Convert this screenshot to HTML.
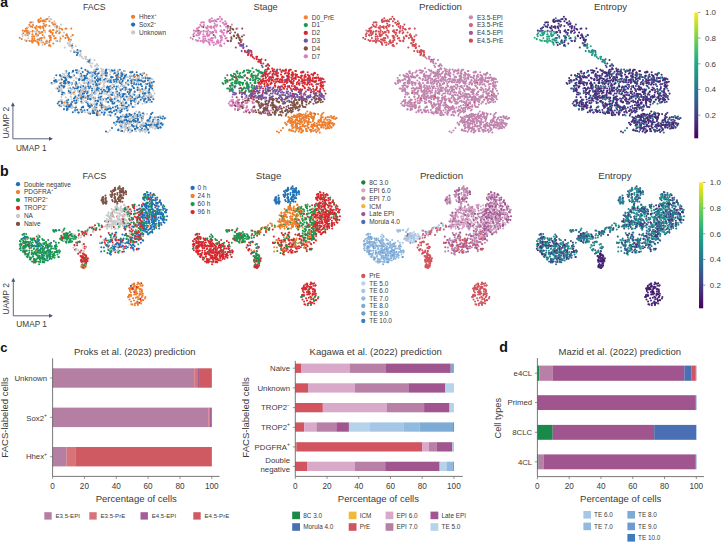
<!DOCTYPE html>
<html><head><meta charset="utf-8"><style>
html,body{margin:0;padding:0;background:#fff;width:722px;height:543px;overflow:hidden}
svg{display:block}
text{font-family:"Liberation Sans",sans-serif;fill:#3a3a3a}
.sc path{stroke-width:2.05;stroke-linecap:round;fill:none}
</style></head><body>
<svg width="722" height="543" viewBox="0 0 722 543">
<g class="sc">
<path stroke="#c9c9c9" d="M24.9 40h0M56.1 31.3h0M38.4 34.6h0M54.3 21.2h0M36.6 35.7h0M36.5 28.1h0M41.2 31.9h0M67.4 36.8h0M50.4 18.8h0M56.7 28.6h0M42.7 44.9h0M45.2 32.4h0M51.7 22.8h0M39.8 26.6h0M36.7 36.2h0M36.6 31.9h0M35 31.6h0M64.8 47.4h0M80.7 54.4h0M79 50.8h0M75.7 46.3h0M94.5 60.1h0M81.8 57.1h0M85.8 59.3h0M95 66h0M87.2 61.6h0M88.9 59.9h0M97.2 64.4h0M116.4 79.5h0M64.3 74.2h0M98.7 98.8h0M126.5 88.6h0M128.3 92h0M108 102.5h0M124.3 78h0M113.3 70.7h0M84.3 81.4h0M61.8 89.7h0M81.3 111.1h0M106.5 101h0M134.9 91.6h0M124.3 105.3h0M100.2 114.8h0M59.2 90.1h0M144.2 95.3h0M107.6 102h0M149.2 100.2h0M103.9 83.6h0M65.3 79h0M59.7 79.9h0M100.3 82.2h0M111.3 79.5h0M76.9 110.2h0M139 88.5h0M105.5 74.3h0M132.8 94.7h0M131.7 85.6h0M111.1 98.4h0M70.7 90.7h0M101.2 68.6h0M99.6 71.7h0M91.5 96.6h0M64 109.6h0M84.9 97.9h0M135.7 96.9h0M70.1 82.8h0M103.8 85.2h0M141.8 79.9h0M111 111.1h0M73.9 75.3h0M58.6 80.2h0M142.1 74.3h0M66.5 104.1h0M60.8 101.3h0M83.4 106.6h0M148.5 79.8h0M114.2 95.3h0M136.1 84.7h0M103.6 113.8h0M140.3 92.1h0M68.3 84h0M59 105.3h0M83.7 86.9h0M109.6 96.5h0M61.6 90.9h0M110 74.6h0M74.3 91.5h0M102.5 104.6h0M93.8 72.5h0M97 105.7h0M101.4 107.9h0M93.5 108.1h0M148.3 95h0M137.2 83h0M68.6 93.1h0M133.2 77.9h0M58.8 89.2h0M85.2 101.4h0M93.9 71.1h0M87.8 70.4h0M144.3 93.7h0M146.8 91.2h0M65.8 81.7h0M71.7 84.8h0M101.9 96.3h0M119.6 110.4h0M125.4 94.5h0M118.4 87.2h0M82.7 111.8h0M65.1 93.6h0M148.3 97.5h0M141.9 78.1h0M68.6 109.2h0M95 80.6h0M83 90h0M66.2 101.9h0M127 76.9h0M138.6 82h0M71.5 108.1h0M79.5 71h0M62.9 73.8h0M93.8 112.4h0M108.9 79.6h0M89 108h0M92.5 98.1h0M128.4 100.1h0M91.2 73.3h0M154.6 93.6h0M70.9 102.8h0M116.1 76.3h0M114.1 86.7h0M139.5 79.6h0M145.2 89.2h0M90.2 86.6h0M146.5 95.9h0M115.7 91.5h0M71.7 89.3h0M65.4 101.2h0M148.8 100.2h0M110 107.1h0M74.4 103h0M109.5 114.5h0M137.9 97.5h0M108.7 95.5h0M132 71.4h0M115.3 79.6h0M95.1 110.6h0M90.5 103.3h0M96.1 86.1h0M120.4 75h0M96.9 87.8h0M117.7 79.3h0M113.9 99.6h0M105 98.5h0M77.7 98.5h0M71 94.3h0M130.3 93.8h0M72.6 93.2h0M102 71h0M87.7 112.3h0M84.7 89.3h0M90 88h0M80.9 85.2h0M127.9 77.2h0M101.5 102.4h0M76.1 100.4h0M120.3 81.5h0M115 69.5h0M86.4 70.7h0M136.6 89.7h0M90.8 81.6h0M141.3 81.2h0M138.8 81.9h0M147.4 128.4h0M126.8 123.5h0M163.3 123.8h0M140.9 117.9h0M132.3 114.4h0M160.5 123.3h0M119.1 122.9h0M160 116h0M147.2 122.1h0M139.4 117h0M150.1 127.6h0M121.5 119.2h0M130.3 115.3h0M150.1 115.4h0M125.3 120.3h0M124.9 116.6h0M138.2 122.3h0M124.8 124.2h0M127.7 131.5h0M150.4 118h0M128.1 113.7h0M165.6 118.1h0M117.7 120.5h0M128.5 123.4h0M147.5 124.9h0M120.7 120.7h0M154.7 123.6h0M130.4 118.8h0M128.3 116.9h0M121.1 124.2h0M129.4 126.7h0M124.3 122.3h0"/>
<path stroke="#ee7f2d" d="M25 31.5h0M38.9 31.7h0M55.2 24.5h0M49.4 31.3h0M42.8 21.1h0M44.5 20.9h0M30.4 26.3h0M27.8 35.3h0M46.2 19.2h0M52.4 22.7h0M49.1 35.9h0M38.3 21.1h0M34.2 36.5h0M40.5 21.3h0M59.1 33.3h0M53 30.1h0M25.4 34.9h0M41.4 32.6h0M47.4 42.7h0M40.7 21.3h0M40.4 28.2h0M38.6 21.7h0M40.8 18.2h0M38 35.4h0M43.6 23.5h0M69.4 39.6h0M67.7 37.5h0M49 45.6h0M52.8 32.9h0M53.5 30h0M38.4 27h0M53.3 43.6h0M43 42.5h0M65.4 38.1h0M49.5 44.8h0M37.3 42.1h0M42.6 35h0M30.2 22.6h0M64.3 102.6h0M110.4 97.8h0M63.8 76.9h0M146.6 74.8h0M88.7 113.3h0M80 93.2h0"/>
<path stroke="#1f70b8" d="M74.1 52h0M70 44.7h0M82.6 93.9h0M125.6 89.3h0M64.1 81.7h0M121.3 102.9h0M124.3 71h0M76.1 85.2h0M124.6 77.2h0M74.1 100.7h0M96.8 89.9h0M60.4 75.8h0M128.9 93.9h0M74 75.5h0M64.9 77.4h0M97.2 103.2h0M137.8 90.1h0M86.9 93.5h0M134.4 94.7h0M72 82.7h0M110.5 115.4h0M95.2 82.1h0M122.4 105.6h0M102.2 105.8h0M133.4 76h0M95.8 105.1h0M133.4 98.7h0M101.5 75.6h0M133.9 88.3h0M79.1 80.1h0M150.1 84.8h0M77.5 98.6h0M130.3 76h0M88.4 105.6h0M132.4 100.2h0M81.5 68.2h0M84.5 82.9h0M76.7 72.7h0M90.4 95.2h0M93.3 84.2h0M120.9 82.4h0M57.4 88.5h0M90.2 113.8h0M142.1 75.6h0M119.8 69.7h0M134.8 76.8h0M130 78h0M148.7 99.5h0M148.9 90.7h0M117 96.7h0M115.7 79.7h0M67.5 108.4h0M138.7 96.9h0M73.1 87.4h0M121.7 75.6h0M116.7 78h0M111.3 77.5h0M75.5 83.7h0M86.3 102h0M78.8 112.4h0M94.9 93.5h0M101.9 107.3h0M135.3 101.9h0M70.2 88.3h0M91.9 76.4h0M69.3 106.6h0M130.5 90.8h0M109.1 82.2h0M93.9 93.1h0M69.2 82.3h0M139.4 95.1h0M85.1 78.5h0M99.1 88h0M123.7 105.1h0M62.2 102.6h0M102.6 73.4h0M117.5 76.1h0M120.4 110.7h0M134 83.9h0M112.4 88.1h0M96.8 89.6h0M63.7 76.9h0M102.7 99.5h0M137.2 97.8h0M61.4 101.2h0M133.9 82.5h0M100.4 97.6h0M113.8 103.5h0M69.2 76.1h0M94.6 72.5h0M97.4 85.3h0M63.3 86.3h0M117.1 91.4h0M107.5 86.6h0M142 86.3h0M113.8 79.9h0M90.4 98.7h0M89.2 95.7h0M65.1 80.8h0M116.5 80.3h0M124.4 108.7h0M88.5 82.2h0M88.2 86.3h0M86.2 91h0M132.1 99.1h0M83.2 85.9h0M78.7 91.5h0M69.8 76.9h0M65.8 78.7h0M100.9 99.5h0M137.1 80.7h0M114.2 86.3h0M105.5 78.7h0M66.4 106.2h0M78.1 72.4h0M84.4 79.7h0M84.9 88.6h0M91.9 72.6h0M99.3 84.1h0M124.5 77.4h0M101.3 103.4h0M131.2 100.7h0M75.3 107.7h0M60.9 106.1h0M111.2 94.4h0M107 73.1h0M116.6 82.1h0M142.9 91.8h0M110 99.8h0M126.1 74.7h0M95.2 98h0M130.8 102.2h0M71 104.9h0M80.6 90.2h0M150.5 116.9h0M142.7 118.4h0M146.1 126.3h0M141.3 125.2h0M120.5 125.5h0M150.8 126.3h0M158.3 124.6h0M126.3 114.6h0M148.1 120.3h0M154.8 117.5h0M143.5 126.1h0M117.5 121.5h0M125.3 119.4h0M137.1 127.7h0M142.9 117.4h0M118.3 119.4h0M135.3 116.6h0M132.2 126h0M160.7 127.6h0M158 122h0M126.4 119.9h0M127.6 128h0M122.2 131h0M135.5 118.3h0M118.5 129.5h0M128.7 120.6h0M126.5 116.8h0M162.4 118.6h0M127 115.6h0M125.9 124.5h0M136.4 126.1h0M129.7 120.3h0M134.5 115.4h0M134.1 125.8h0M137.8 120.5h0M149.3 120.1h0M154.7 124.8h0M144.5 125.7h0M141.9 119.9h0M125.6 125.6h0M157.3 123.5h0M106 131.4h0"/>
<path stroke="#ee7f2d" d="M31.2 41h0M44.3 25.2h0M68.6 37.9h0M66.1 35.3h0M36.6 26h0M34.3 38.7h0M42.8 26.4h0M32.4 27.1h0M63.1 36.3h0M26.4 30.2h0M27.1 27.9h0M62.8 36.1h0M68.8 39.4h0M46.5 42.8h0M49.4 26h0M61.4 28.9h0M47.6 19h0M27 33.3h0M29.3 24.7h0M27.7 30.7h0M50.9 32.5h0M70.3 40.7h0M44.4 37.8h0M43.3 28.1h0M41.4 40.3h0M39.9 27.1h0M41.9 38h0M42.4 32.1h0M32.2 39.1h0M68.7 40.1h0M42.2 20.4h0M22.8 30.6h0M53.9 36.1h0M29 32.5h0M49.9 38h0M54.3 23.7h0M19.7 37.7h0M44.9 44h0M33.2 40.8h0M38.4 19.9h0M59.8 41.3h0M67.4 35.7h0M50.9 39.9h0M57 26.1h0M53.3 24.8h0M31.8 22.2h0M21.7 39.1h0M50.2 30.2h0M35 27.4h0M45.9 41.7h0M51.1 32.2h0M50.4 46.1h0M136.9 74.9h0M130.3 98.5h0M93.7 97.6h0M86.2 90.4h0M140.1 90.1h0"/>
<path stroke="#c9c9c9" d="M55.5 23.2h0M44.1 36.2h0M46.3 41.4h0M59.7 40.6h0M27.2 40.5h0M28.1 27.3h0M40.1 40.8h0M59 30.3h0M36.3 34.8h0M45.1 30.9h0M30 31.6h0M69.9 42.1h0M72.2 48.1h0M76.1 52.4h0M72.4 44.1h0M69.3 44.4h0M89.7 61.9h0M86.2 56.8h0M83.2 58.5h0M90 63.2h0M98.2 65.7h0M80.6 55.4h0M115.5 93h0M128 80.1h0M142.7 91.4h0M126.3 96.8h0M131.1 79.3h0M61.4 85h0M129.6 77.5h0M87.2 80.6h0M150.3 82.3h0M69.1 85.3h0M104.3 86h0M90 80.4h0M149.4 99.2h0M108.7 107h0M90.9 82.9h0M121.4 111.4h0M89.6 84h0M115.1 109.3h0M115 70.8h0M93 104.3h0M81 95.4h0M95 103.6h0M107.9 115.1h0M130.1 72.4h0M150.8 95.5h0M98.5 112.9h0M108.4 109.1h0M68 109.3h0M125 71.1h0M94.9 104.2h0M80.1 98.3h0M119.3 108.9h0M109.3 107.2h0M102.8 106.9h0M68.1 77.5h0M102.1 77.7h0M88.6 92.5h0M144.1 90.1h0M109.9 92.4h0M143.1 97.2h0M61.2 78.6h0M130.8 100h0M69.6 88h0M105 106.4h0M145.2 89.7h0M61.9 99.9h0M121.1 91.2h0M151.3 78.5h0M151 85.5h0M87.4 97h0M91.3 73.2h0M93.5 81h0M118.4 96.3h0M77.6 84.9h0M120.8 98.7h0M76.8 98.3h0M83.5 83.1h0M103.7 105.5h0M124.1 87.3h0M103.1 69.4h0M64.6 106.1h0M72.5 92.8h0M78.1 91.8h0M118.5 111.3h0M151.5 95.7h0M54.8 80.4h0M127.8 89.8h0M149.7 95.8h0M77 88.7h0M88.2 97.4h0M105 82h0M106.4 79.7h0M130.3 81.6h0M151.8 82.1h0M129.1 97.6h0M99.7 105.2h0M66 83.1h0M64.3 83.2h0M136.7 79.8h0M60.5 105.7h0M104.8 110.8h0M89.7 81.4h0M94.1 74.3h0M71.1 90.1h0M86.7 75.4h0M78.2 96.1h0M116.3 97.6h0M108.4 90.6h0M102.8 81.5h0M144.7 81.8h0M81.6 103.1h0M111.8 103.5h0M77.3 100.3h0M60.8 89h0M118.2 86.1h0M84.6 75.7h0M110.6 89.7h0M105.3 74.3h0M109.7 79.3h0M108.5 95.8h0M123 102.4h0M75.4 95.5h0M82.8 75.5h0M94.5 92.9h0M123.2 107h0M144.2 94.2h0M73.9 80.4h0M118.5 69.8h0M54.2 78h0M99.5 97.4h0M149.8 102.3h0M98.5 95.3h0M87.6 96h0M145.1 99.4h0M91 104.8h0M126.4 96.7h0M58.9 85.7h0M120.6 90.3h0M56.2 88.4h0M115.2 81.1h0M152.5 97.8h0M88.7 79.1h0M128.6 97h0M147.2 77.2h0M81.3 76.8h0M71.3 89.4h0M106.2 110.6h0M74.6 110.7h0M83.8 88.7h0M126.6 103.7h0M139.8 92.5h0M81.6 88.7h0M97.9 102.1h0M122.1 78.2h0M132 106.7h0M102.2 109.6h0M113.3 82.3h0M79.5 83h0M61.4 97.1h0M140.9 99.4h0M116.6 112.2h0M124.4 97.2h0M86.7 90.9h0M71.7 92.7h0M132.9 98.9h0M56.5 80.4h0M104.3 91.7h0M150.3 125.7h0M141.9 121.3h0M130.5 129h0M137.1 116.4h0M121.4 128.5h0M132.2 118.3h0M124.3 126.1h0M131.5 124.5h0M162.1 123.5h0M151.3 122.7h0M134.1 115h0M122 117h0M130.7 122.8h0M130.5 116.5h0M131.6 131.3h0M137.2 115.8h0M119.2 120.8h0M140 126.4h0M140 113.8h0M152.9 122.2h0M162.2 125.6h0M125.7 117.9h0M120.3 118.7h0M142.4 124.1h0M158.1 122.4h0M156.8 117.1h0M128.8 120.9h0M136.3 111.4h0M130 115.3h0M123.6 116.9h0M125.5 127.9h0M130 132.5h0M131.1 126.5h0M153.1 124.2h0M135.2 131h0M164.1 118.9h0M143.7 124.5h0M122.8 122.6h0M142.7 117.8h0M108 132.5h0"/>
<path stroke="#1f70b8" d="M76.5 52h0M111.9 99.4h0M131 100.4h0M98.7 79.8h0M131.6 72.4h0M66.3 71.3h0M105.7 70.3h0M143.6 73.1h0M70.2 92.4h0M133.1 80h0M117.5 94.4h0M74.4 88.5h0M100.1 78.5h0M65.4 77.7h0M138.9 101.7h0M125.4 75.8h0M124.6 89.2h0M105.6 75.4h0M131 101.8h0M92.8 111.2h0M98.7 97.4h0M134.1 100.9h0M86.1 75.7h0M76.2 88.2h0M67 100.5h0M133 106.9h0M97.9 78.3h0M140.4 74.3h0M61.9 79.5h0M87.3 73.9h0M64.2 80.9h0M111.9 112.6h0M112.9 107.4h0M121.6 72.6h0M72.5 107.3h0M143.8 81.8h0M114.2 70.5h0M75.8 70.2h0M100.7 102.7h0M116.2 110.1h0M64 83.3h0M138.6 76.1h0M124.7 75.2h0M109.7 89.3h0M96.1 85.1h0M76.5 102.6h0M129.8 92h0M140.6 84.1h0M108.5 91.3h0M97.8 69.1h0M96.8 76h0M102.8 99.4h0M106.3 99h0M66.5 106.5h0M149.4 88.7h0M76 82.3h0M99 88.1h0M98.8 99.6h0M107.1 91.9h0M112.1 95h0M88.5 106h0M65.3 83.2h0M90 107.1h0M106.8 87.7h0M139.1 80.5h0M77.2 70.2h0M128.8 105.2h0M91.9 105.8h0M90.2 98.9h0M119.6 95.2h0M56.6 81.8h0M151 87.1h0M89.1 88.1h0M133.5 87.5h0M98.3 100.9h0M92.1 90.8h0M92.1 88.4h0M98.8 90.4h0M145.6 78.4h0M77.7 88.1h0M143.6 77.9h0M118 79.4h0M96.6 104.3h0M54.8 82h0M73.1 70.7h0M131.4 80.6h0M95.7 109.9h0M85.9 97.5h0M129.4 92.2h0M91.6 94.9h0M125.3 89.8h0M145.6 98.5h0M95.6 71.5h0M101.5 93.4h0M68.7 90.9h0M143.4 98.5h0M117.7 74.5h0M117.5 77.1h0M78.2 112.4h0M51.6 82.9h0M84.4 110.2h0M114.4 81.6h0M121 96.7h0M149.3 89.2h0M126 82.8h0M96.6 110.2h0M75.6 103.2h0M84 93.4h0M81 75.2h0M148 78.3h0M93 112.7h0M144 81.4h0M141 80.5h0M100.5 80h0M138.6 78.3h0M142.2 88.9h0M127.5 106.7h0M68 81.9h0M78.8 95.2h0M142.8 93.4h0M153.4 99.2h0M153.8 81.7h0M75.1 110.3h0M121.9 105.3h0M63.7 92.7h0M125.6 106.7h0M63.7 87.4h0M142.2 97.4h0M114.4 102.7h0M62.3 92.4h0M58.8 101.7h0M81.3 99h0M83.6 96.3h0M95 106.6h0M139.7 96.7h0M89 72.4h0M61.4 76.4h0M80.4 94.4h0M77.3 109.8h0M66.5 80h0M76.1 107.1h0M145.9 84.2h0M94.5 73.2h0M122.4 88.9h0M139.7 122.2h0M131.2 115h0M123 115.5h0M140.7 126.6h0M134.8 113.4h0M127.2 121.1h0M121.4 126.8h0M141.5 125.4h0M131.1 121.6h0M161.1 117.9h0M149.3 121.2h0M142.9 116.5h0M148.8 132.6h0M129.6 113.9h0M149.7 118.3h0M140.4 113.9h0M158.3 123.3h0M161.3 123.2h0M160.4 117.6h0M125.7 119.2h0M120.8 130.8h0M144.7 129.6h0M118.2 130.2h0M140.4 115.6h0M157.7 128h0M118.9 117.7h0M136.5 122.3h0M120.6 121.6h0M128.5 121.1h0M163 116.6h0M157.5 127.3h0M118.4 118.9h0M126.3 123.2h0M148.3 125h0M135.5 128.9h0M119 118h0M152.8 121.4h0M119.8 121.7h0M128.8 128.7h0M154.4 125.4h0M139.6 129.7h0M138.1 119.3h0M145.6 126.1h0M112 128h0"/>
<path stroke="#ee7f2d" d="M32.5 42.1h0M59.9 32.3h0M23.2 33.3h0M52.3 34.6h0M56 32.8h0M62.3 29.6h0M49.7 40.5h0M57 41h0M25.8 28.8h0M39.2 39.8h0M38.4 43.4h0M71.3 28.6h0M59.6 28.2h0M45.4 26.4h0M49.4 42.1h0M50.1 35.9h0M50.9 31.6h0M70.9 39.8h0M39.8 33.3h0M36.3 33.9h0M32.4 31.6h0M27.2 31.9h0M50.9 37.3h0M65.5 28.7h0M113.9 73.6h0M144 81.6h0M149 98.4h0M67.9 104.8h0M74 92.6h0M100.1 105.6h0M97 112.2h0M134 76.3h0M100.2 83.4h0"/>
<path stroke="#c9c9c9" d="M71 36.5h0M64.1 32.5h0M22.3 34.6h0M41.4 42.4h0M28.4 38.1h0M59.4 26.7h0M28.2 34.3h0M62.8 35.4h0M46.7 40.3h0M51 19.5h0M55 26.7h0M33 22.6h0M26 35.5h0M77.5 54.4h0M70.7 51.1h0M77.6 51.2h0M79.8 55.7h0M80.3 54.6h0M77.8 52h0M67.9 43.3h0M70 40.5h0M70.7 46.1h0M70.8 45.1h0M91.6 67.1h0M96.6 64.2h0M85.5 58.2h0M90.5 59.3h0M90.8 65.5h0M97.1 68h0M89.6 61.3h0M85.3 56.8h0M130 90.3h0M75.1 83.5h0M94.3 101.6h0M120.6 108h0M117.2 112.3h0M76 106.3h0M88.7 90.2h0M131.3 105.3h0M111.5 76.5h0M105.9 81.5h0M91.7 93.1h0M152.9 95.9h0M82.1 87.9h0M80.3 109.8h0M129.4 90.4h0M87.6 96.8h0M136.5 78.6h0M152.5 79.2h0M135.4 104.6h0M60.3 100.2h0M92.5 78.8h0M61.7 103.3h0M91.6 75.8h0M82.3 77.5h0M52.4 83.9h0M126.7 102.3h0M145.3 84.5h0M121.6 93.7h0M128.3 97.9h0M60.5 85.2h0M111.6 80.6h0M136.6 82.2h0M148.1 91.6h0M72.6 88.6h0M136.6 96.6h0M102.5 87.6h0M94.4 90h0M80.2 94.7h0M104.3 86.6h0M93.3 74.1h0M149 92h0M142.6 74h0M122.6 97.2h0M87.8 102.4h0M109.6 95.6h0M89.7 96.9h0M102.2 77.2h0M86 100.8h0M127.8 83.8h0M120 108h0M90.3 76.4h0M114.6 111h0M71.9 77.6h0M95 97.6h0M118.5 80.9h0M71.9 72.5h0M84.7 95.7h0M114 95.2h0M72.1 107.6h0M92.5 111.2h0M123.8 89.6h0M66.6 73.3h0M121.3 72.5h0M133.4 93.3h0M128.9 106.7h0M123 104h0M131.3 103.1h0M121.9 93.7h0M117 86.3h0M116.1 96.4h0M74.9 90.8h0M120.9 86h0M78.3 72.5h0M91.2 104.4h0M82.9 99.8h0M113.1 88.7h0M113.2 101.9h0M91.7 97.5h0M147.3 101.8h0M128.3 109.5h0M80.3 76.5h0M75.8 77.8h0M68.4 103h0M79.9 97.1h0M124.9 79h0M128.8 99.8h0M80.4 94.3h0M107.9 98.1h0M102.1 99.2h0M105.5 100.7h0M145.1 93.5h0M92 75h0M99.1 90.7h0M122.7 101.7h0M90 72.1h0M63.7 94.5h0M92.8 81.1h0M145.9 102.6h0M96.3 110.2h0M107 93.8h0M128 91.9h0M90.4 80.7h0M103.9 111.3h0M109.3 86.9h0M104 71.4h0M87.7 102.1h0M150 82.8h0M126.8 81.9h0M150.9 78.7h0M81.6 80.2h0M102.4 90.8h0M139.5 102h0M118.4 101.9h0M68 83.3h0M125.3 99.9h0M138.3 76.5h0M96.4 74.5h0M93.6 83.2h0M114.8 115.6h0M73.9 94.1h0M110.6 72.1h0M75.8 87.3h0M82.7 110.9h0M132 99.1h0M76.8 78.5h0M101.4 74.3h0M124.5 89.1h0M101.8 80.1h0M65.6 71.8h0M102.3 73.8h0M103.9 111.9h0M106.1 94.3h0M101.1 76.9h0M82.3 98.5h0M106.7 76.3h0M92.2 91.8h0M72.5 105.3h0M150.1 79.4h0M123 94.1h0M156.3 122.6h0M135.3 117.3h0M158.3 124.5h0M150.5 121.4h0M120.9 122.6h0M123.2 115.4h0M128.8 118.8h0M150.6 124.7h0M138.9 113.9h0M146.7 130.8h0M125.6 118.3h0M134.6 116.7h0M134.3 117.2h0M142.1 125.5h0M137.3 116h0M124.4 123.1h0M156.8 128.1h0M151.8 117.2h0M124.4 127.6h0M134.6 126.1h0M145.2 132.1h0M125.8 125.3h0M140 131.7h0M143.7 115.1h0M115.4 124.6h0M156.2 120h0M135.9 116.4h0M142.2 130.9h0M138.8 129.8h0M130.6 132.2h0M142.4 119.4h0M129.3 121.9h0M129 128.3h0M139.7 130.8h0M143.6 122.8h0M124.4 120.1h0M129.6 121.2h0M136.1 131.2h0M125 126.9h0M143.9 130.3h0M132.5 118.7h0M128.6 115.9h0M124.2 120.9h0M154.3 126.4h0M154.5 118.6h0M129.2 126.8h0M140.9 116.8h0M129 124.3h0M144.2 114.1h0M122.1 124.8h0M132.5 118.7h0M141.9 128.1h0M124.7 115.7h0M110 130.5h0"/>
<path stroke="#1f70b8" d="M77.8 53.1h0M72.1 45.7h0M88.6 61.8h0M111.2 77.1h0M82.6 80.3h0M92.8 110.2h0M97.8 73.8h0M126 102.5h0M103.9 89.8h0M80.9 109.8h0M55.8 80.1h0M136.3 84.3h0M109.2 89.7h0M123.9 86.7h0M144.8 93.2h0M102.3 91.8h0M122.8 80.2h0M81.2 98h0M96.7 113.7h0M130.3 72.3h0M69.2 73h0M99.9 110.4h0M150.5 94.5h0M144.5 95.2h0M68.3 99.7h0M112.4 70.7h0M104.3 107.2h0M122.7 74.3h0M116.6 110.2h0M72.1 102h0M61.7 85.5h0M97.8 87.5h0M145.5 93.3h0M132 83h0M57.7 103.5h0M137.9 103.5h0M75.4 96.7h0M120.1 101.5h0M82.5 91.4h0M120.6 89.9h0M134.4 74.4h0M118.1 73.4h0M99.8 93.4h0M93.3 111.5h0M123.2 94h0M56.3 75.3h0M145.9 86.9h0M120.2 112.4h0M80.2 91.2h0M81.8 107.6h0M124.9 93.9h0M130.3 90.3h0M114.9 98.8h0M112.8 103.6h0M151.8 82.7h0M101.8 107.4h0M127.3 110.5h0M110.5 80.6h0M97 89.2h0M104 114.7h0M140.9 84.6h0M106.4 69.6h0M145.3 77.5h0M145.8 88.3h0M108.7 86.9h0M98.6 73.2h0M116.1 89.1h0M149.8 86.5h0M76.5 83.7h0M104.1 79.8h0M92 81.3h0M68.6 74.1h0M136.7 72.2h0M70.9 76.9h0M92.5 112.4h0M152.2 88.6h0M66.9 110h0M97.4 100.7h0M116.1 75.5h0M59.5 87h0M94.6 108.9h0M85.3 69.7h0M123.1 95.9h0M93 112.9h0M108 98h0M146.5 102.1h0M67.6 76.3h0M110.9 108.8h0M112.8 92.8h0M68.4 106.8h0M96.7 79.9h0M62 102.9h0M82.8 91.4h0M149.3 83.3h0M130.3 96h0M108.5 89.1h0M123.8 78.3h0M88.7 105.2h0M60 75.1h0M128.4 84.7h0M80.5 87.1h0M131.6 81.1h0M125.8 87.4h0M105.9 107.4h0M62 94.4h0M94.8 78h0M96.8 115h0M105.2 73h0M94.4 113h0M58.7 91.3h0M142.6 81.4h0M97.8 81.5h0M150.2 99.8h0M68.6 82.8h0M110.3 111.7h0M107.5 109h0M137.6 75.6h0M110 108.6h0M65.3 83.5h0M74.6 98h0M79.4 78.9h0M121.9 109.3h0M83.3 91.4h0M123.2 95.1h0M112.7 77.3h0M96.1 69.6h0M87.7 71.6h0M67.3 102.6h0M131.9 97.2h0M54.1 80.7h0M98 81h0M105.9 71.4h0M137.6 87.6h0M105.2 109.3h0M83.1 106.8h0M117.8 71.6h0M112.2 101.8h0M90.5 99.5h0M145.1 81.1h0M135.2 98.7h0M130.7 75.9h0M100.9 96.7h0M134.7 91.7h0M82.7 71.9h0M69.4 105.2h0M151.1 86h0M120.3 77.6h0M124.9 76h0M97.6 90.1h0M87.9 95.7h0M108.5 81.3h0M85.7 78h0M118 100.6h0M104.8 112.7h0M81.2 75.7h0M83.3 97.3h0M131.2 89.5h0M144 100.9h0M94.9 91.9h0M133.8 121.7h0M137.6 122.6h0M124.4 120.2h0M147.4 120.4h0M141.3 125.6h0M117.3 117h0M122.3 121.4h0M162.5 124.7h0M156.4 125.1h0M158.2 117.3h0M132 125h0M121.3 121.6h0M147.7 129.4h0M137.7 116.3h0M132.8 117h0M120.8 116.6h0M151.5 124.6h0M133.9 119.5h0M116.5 121.8h0M128.4 130h0M164.7 118.2h0M136.1 121.4h0M148.1 129.6h0M160.1 126.9h0M128.4 116.2h0"/>
<path stroke="#1f70b8" d="M77.5 50h0M76.9 55.1h0M80.4 51h0M89.4 60.4h0M147.9 80.4h0M117.3 105.7h0M89.7 106.6h0M81.8 111.9h0M131.4 83.2h0M70.8 106.5h0M95.5 73.9h0M121.8 84h0M108.9 89.2h0M152.3 85.4h0M143.6 96.6h0M110.3 86.2h0M148.2 97.5h0M95.6 100.7h0M109.2 112.1h0M84.2 75.7h0M90.9 104.8h0M125.6 103.1h0M60 89.8h0M148.5 92.7h0M122.4 81.7h0M85.7 87h0M115.5 106.8h0M95 77.6h0M107.1 109.8h0M111 101.1h0M73 71.6h0M121.7 75.9h0M122.1 96.5h0M121 79.2h0M90.1 73.1h0M79.7 91.3h0M119.9 81.2h0M67.6 100h0M124.7 99.8h0M70.3 77.5h0M114.9 73h0M108.2 101.9h0M83.9 79.6h0M117.8 108.1h0M127.6 92h0M90.5 86.4h0M59.5 105.4h0M131.7 96.7h0M64.5 86.3h0M71.1 104h0M121.6 73.6h0M108.1 108.8h0M140.7 99.8h0M144.5 99.4h0M123.9 99.1h0M82.3 96.8h0M87.8 99.1h0M111 82.3h0M92.6 75.4h0M101.6 105h0M120.3 95.4h0M64 109h0M87.5 92h0M87.8 97h0M105.2 91.1h0M87.4 109.9h0M74 98.4h0M76.3 100.4h0M106.6 75.4h0M107.7 81.4h0M81.6 110.4h0M83.2 107.2h0M115.4 114h0M101.1 89.4h0M126.4 108.2h0M60.3 83.3h0M143.9 73.3h0M72 83.5h0M67.2 108.8h0M87.6 103.7h0M87 78.3h0M132.5 72h0M96.4 107.8h0M123.4 86.1h0M80.8 73.7h0M129.4 89.2h0M148.1 99.8h0M119.3 93h0M97.7 111.3h0M121.5 73.5h0M84.8 77.2h0M119.6 82.5h0M72.8 112.3h0M87.9 83.7h0M128 80.6h0M147.3 84h0M138.2 79.7h0M96.4 83.8h0M149.5 85.7h0M114 111h0M96.5 90.3h0M79.4 79.3h0M64.8 82h0M84.9 91.7h0M111.7 70.2h0M76.6 86.2h0M149.5 92.6h0M151.7 101.8h0M120.6 83.3h0M134.9 80.1h0M78.1 86.9h0M81.3 101.4h0M116.6 86.7h0M149.7 78.3h0M132.4 86h0M97.7 115.2h0M138.7 84.5h0M101.8 112.5h0M126.7 96.6h0M94.8 108.4h0M121.6 111.3h0M135.1 99.5h0M131.1 103.7h0M150.9 97h0M125.7 117.2h0M150.1 124.7h0M160.8 123.6h0M137.4 118.4h0M153.3 119.7h0M132.1 130.6h0M127 123.2h0M137.7 127.8h0M134.8 129.1h0M146.6 124.8h0M150 125.7h0M126 116.5h0M158.1 119.8h0M137.3 114.8h0M135 120.8h0M128.9 115h0M142 128.5h0M146.3 127.8h0M136.3 121.9h0M125.1 117h0M119.4 122.1h0M151.1 114.1h0M157.7 124.4h0M152.4 112.7h0M141.9 117.7h0M132.9 120.4h0M139.3 112.2h0M156.5 126.7h0M114 122.8h0M140.7 130.2h0M133.6 126.7h0M158.4 128.2h0M115.7 124.6h0M145.8 123.4h0M129.9 121.6h0M143 113.2h0M122.5 122.5h0M127.3 116.6h0"/>
<path stroke="#c9c9c9" d="M60.9 24.6h0M48.9 16.8h0M22.7 36.3h0M47.5 42.8h0M56.1 40.6h0M60.3 37.3h0M80.5 52.4h0M72.6 47.6h0M76.5 51.1h0M69.1 45.8h0M79.4 50.8h0M73.9 50.8h0M67.7 43.2h0M92.3 63.5h0M95.8 65.8h0M87.8 59.7h0M150.2 94h0M67 99.4h0M121.8 107.6h0M86.7 88.2h0M65.7 97.2h0M80.9 110.9h0M101.8 102.6h0M86.6 97.6h0M60.8 90.8h0M112.4 84.5h0M94.1 75.1h0M98.9 77.1h0M85.4 101h0M124.5 104.4h0M73.2 75.7h0M144.2 78h0M99.4 87.5h0M94.5 69.7h0M87 82.7h0M81 91.3h0M123.6 86.2h0M93.5 109.2h0M63.4 105.3h0M106.3 101.8h0M94.4 76h0M99.3 114.7h0M143.5 97.5h0M115 97.2h0M150.6 95.5h0M102.4 71.7h0M71.7 99.5h0M137.6 77.9h0M65 76h0M106.9 78.4h0M88.6 78.9h0M139.3 78h0M117.9 70.7h0M133.2 80.6h0M78.3 70.7h0M76.7 86h0M80.3 74.9h0M111.2 86.4h0M92.5 108.6h0M60.2 89.2h0M54.5 83.1h0M119.9 105h0M85.1 112.3h0M91.5 79.5h0M91.6 75.5h0M90.3 96h0M64.5 103.8h0M142.3 91.4h0M109.2 106.1h0M135.5 101.7h0M70.8 96.6h0M113.9 84.8h0M62.5 76.6h0M116.5 98.2h0M107.2 107.2h0M71 97.1h0M91.4 95h0M147.3 99.1h0M71.7 107h0M101.7 70.2h0M82.9 91.1h0M132.9 82.6h0M108.6 82.3h0M153.4 90.8h0M99.4 77.3h0M61.4 88.2h0M128.6 83.3h0M100.6 83.2h0M132.8 99.3h0M109.1 69.6h0M94.3 108.5h0M130.7 75.6h0M122.3 83.4h0M91.2 73.2h0M80.5 75h0M149.8 80.6h0M91.4 112.3h0M103.8 74.4h0M120.5 81.6h0M80.8 95h0M125.7 84.2h0M101.5 98.5h0M67.1 76.5h0M97.3 91.3h0M110.4 71.2h0M104.9 108.1h0M102.2 88.2h0M82 78h0M134.4 107.1h0M137.6 96.1h0M81.1 85.5h0M62.1 76.1h0M71.8 83.1h0M123 101h0M81.2 93h0M106.1 89.8h0M136.3 99.9h0M119.8 88.4h0M95.4 106.1h0M94.3 99.4h0M121.1 95.8h0M127.6 99.7h0M77.1 85.2h0M89.2 112.2h0M143.6 72.7h0M91.5 81.6h0M130.8 97.3h0M111.3 91.9h0M104.3 93.4h0M96.1 108.7h0M118.8 96.8h0M149.9 96.1h0M84.1 82.5h0M144.8 102.8h0M124.7 74.3h0M145.1 95.4h0M142.5 103.7h0M116.2 101.3h0M98.8 99.2h0M94.7 88.3h0M77.7 90.1h0M68.3 88.4h0M95.6 91.9h0M150.9 94.3h0M117 72.9h0M124.8 107.4h0M85.8 86.1h0M115.8 82.9h0M61.2 105.1h0M82.9 102.8h0M75.2 111.8h0M93.7 86.2h0M104.2 106.9h0M101.9 100.8h0M120.4 102h0M95.9 93.7h0M90.3 104h0M78.4 100.8h0M116.4 93.2h0M126.3 95h0M130.2 119.8h0M126.4 128.4h0M126.1 126.7h0M133.4 123.1h0M126.6 123.2h0M120 130.4h0M130.3 129.6h0M136.9 122.7h0M137.2 124h0M135.6 115.8h0M150.7 127.1h0M154.1 122.6h0M115.2 124.3h0M159.7 120.5h0M136.7 124.3h0M159.5 122.3h0M150.2 119.9h0M152.6 127.8h0M122.4 127.4h0M130.4 129.4h0M148.4 122.8h0M142.9 117.2h0M125.2 129.9h0M139.9 130.6h0M124.2 131.8h0M152.5 125.5h0M161.8 117.3h0M120.9 124.8h0M155.9 128.2h0M141.4 126.4h0M154.9 128.7h0M159 126h0M140.7 124.7h0M128.2 114.9h0M137.5 124.5h0M140.6 113.2h0M147.1 114.1h0M139.8 113.6h0M131.8 117.4h0"/>
<path stroke="#ee7f2d" d="M37.2 30.3h0M55.7 38h0M26.4 30.7h0M39.2 21.9h0M46.2 24.9h0M32.4 34.5h0M38.4 39.4h0M34.4 40.4h0M37.5 39.6h0M39 19.4h0M45.6 21.5h0M32.4 42.4h0M40.8 38.3h0M44 20.2h0M72.9 35.2h0M57.1 31.2h0M56.9 27.3h0M35.6 40.9h0M35.9 33.9h0M35.8 28.4h0M33.7 36.5h0M40.2 38.2h0M60.6 38.7h0M50.9 37.7h0M40.2 26.5h0M66.4 28.5h0M38.7 44.8h0M46.9 41.3h0M26.3 41h0M38.3 42.5h0M43.9 30.3h0M33 24.9h0M66.8 34.2h0M31 26.4h0M32.7 30.8h0M24.5 30.9h0M49.4 21.2h0M32.4 34.3h0M54.4 38.4h0M29.5 40.9h0M42.5 27h0M32.1 36.8h0M29.2 33.4h0M72.6 34.9h0M81.4 95.9h0M118 77h0M152.2 85.8h0M61.5 82.8h0"/>
<path stroke="#7153a6" d="M251.7 54.4h0M241.7 51.1h0M247.5 51.1h0M248.6 51.2h0M241 40.5h0M247.9 55.1h0M260.4 60.4h0M253.6 93.9h0M259.7 90.2h0M241.2 92.4h0M288.5 94.4h0M245.4 88.5h0M279.9 89.2h0M320.4 99.2h0M323.9 95.9h0M315.2 95.3h0M252.4 95.9h0M315.5 95.2h0M310 88.5h0M271.7 102.7h0M292.6 93.7h0M250.1 80.1h0M293.1 96.5h0M253.5 91.4h0M280.9 92.4h0M261.3 96h0M270.8 93.4h0M280.7 89.3h0M273.5 87.6h0M227.3 75.3h0M265.4 90h0M261.4 95.2h0M292.1 91.2h0M298.6 92h0M278.1 91.9h0M280.6 95.6h0M287.5 98.2h0M268 89.2h0M283.1 95h0M262.4 95h0M259.5 106h0M255.7 95.7h0M300.1 97.6h0M310.4 95.1h0M294.1 95.9h0M267.8 89.6h0M308.2 97.8h0M262.6 94.9h0M271.4 97.6h0M250.9 97.1h0M251.4 94.3h0M308.6 96.1h0M288.1 91.4h0M254 90h0M264.7 97.6h0M252.2 93h0M279.5 95.8h0M279.5 89.1h0M292.1 95.8h0M265.5 92.9h0M299 91.9h0M287.1 76.3h0M233 94.4h0M292 96.7h0M255 93.4h0M316.1 99.4h0M303.1 99.1h0M317.5 95.9h0M289.8 96.8h0M291.6 90.3h0M308.9 97.5h0M320.9 96.1h0M285.2 86.3h0M303 71.4h0M259.7 79.1h0M287.2 101.3h0M324.4 99.2h0M313.2 97.4h0M310.8 92.5h0M303 99.1h0M306.2 98.7h0M266.9 93.7h0M295.4 97.2h0M263.2 91.8h0M301.8 102.2h0M321.9 97h0M294 94.1h0M275.3 91.7h0"/>
<path stroke="#d77fbd" d="M202.2 41h0M226.5 23.2h0M208.2 30.3h0M215.1 36.2h0M203.5 42.1h0M197.4 30.7h0M220.1 35.9h0M209.3 21.1h0M207.5 28.1h0M197.4 30.2h0M205.4 40.4h0M205.2 36.5h0M210 19.4h0M196.4 34.9h0M199.4 38.1h0M220.4 26h0M216.4 26.4h0M212.4 40.3h0M222.7 22.8h0M220.4 42.1h0M209.6 21.7h0M211.8 18.2h0M213.4 32.1h0M227.9 27.3h0M204.7 36.5h0M221.9 31.6h0M209.7 44.8h0M217.9 41.3h0M197.3 41h0M220 45.6h0M200 32.5h0M214.9 30.3h0M204 24.9h0M225.3 23.7h0M215.9 44h0M207.3 33.9h0M227.1 40.6h0M214 42.5h0M220.5 44.8h0M202.8 22.2h0M220.4 21.2h0M206 27.4h0M204 22.6h0M197 35.5h0M251.9 110.9h0M277.5 101h0M320.2 100.2h0M242.7 99.5h0M248.5 98.6h0M235 109.6h0M255.9 97.9h0M235.5 103.8h0M247.5 102.6h0M232.9 99.9h0M252.8 107.6h0M237.5 106.5h0M278.2 107.2h0M247.8 98.3h0M230.5 105.4h0M243.1 107.6h0M245 98.4h0M268.4 100.7h0M232.4 101.2h0M284.8 103.5h0M238.9 104.8h0M237.2 101.9h0M307.3 99.9h0M265.3 99.4h0M236.4 101.2h0M232.2 105.1h0M254.1 106.8h0M283.2 101.8h0M231.9 106.1h0M253.3 98.5h0M272.5 102.4h0M240.4 105.2h0M249.4 100.8h0M243.5 105.3h0"/>
<path stroke="#1a9850" d="M267.6 64.2h0M266 66h0M235.3 74.2h0M247.1 85.2h0M245 75.5h0M243 82.7h0M232.9 79.5h0M236.3 79h0M231.5 85.2h0M235 83.3h0M261.1 73.1h0M252.5 68.2h0M240.6 88h0M236.3 83.2h0M225.8 80.4h0M247.5 83.7h0M237 83.1h0M262.2 73.2h0M249.3 72.5h0M234.7 76.9h0M231.3 83.3h0M240.2 76.1h0M258 78.3h0M233.9 73.8h0M253.8 75.5h0M222.6 82.9h0M248.1 85.2h0M262.2 73.3h0M229.7 91.3h0M239.6 82.8h0M240.8 76.9h0M236.8 78.7h0M236.3 83.5h0M250.4 78.9h0M252.6 80.2h0M250.4 79.3h0M225.1 80.7h0M248.7 90.1h0M262.9 72.6h0M234.7 87.4h0M247.8 78.5h0M250.5 83h0M253.7 71.9h0"/>
<path stroke="#7d5042" d="M242 36.5h0M233.8 36.1h0M239.8 39.4h0M230.1 33.3h0M198.7 30.7h0M231.6 38.7h0M230.8 41.3h0M236.4 38.1h0M302 101.8h0M279.7 107h0M263.8 111.2h0M281.4 97.8h0M266.6 100.7h0M280.2 112.1h0M295.3 105.3h0M264.5 109.2h0M234.4 105.3h0M293.4 105.6h0M306.4 104.6h0M273.2 105.8h0M266.8 105.1h0M286.5 106.8h0M265.9 104.2h0M243.1 102h0M308.9 103.5h0M303.4 100.2h0M238.6 100h0M264.3 111.5h0M301.8 100h0M269.8 99.6h0M291 108h0M279.1 108.8h0M268 105.7h0M319.3 95h0M294.9 99.1h0M302.3 103.1h0M254.2 107.2h0M287.3 97.6h0M281.9 108.8h0M284.2 101.9h0M272.5 98.5h0M248.3 100.3h0M319.3 97.5h0M276.5 100.7h0M320.8 102.3h0M267.6 110.2h0M262 104.8h0M264 112.7h0M321.2 99.8h0M296.6 106.7h0M276.2 109.3h0M248.7 98.5h0M302.2 100.7h0M282.2 94.4h0M275.2 106.9h0M272.9 100.8h0M291.4 102h0M292.6 111.3h0M268.6 90.1h0"/>
<path stroke="#ee7f2d" d="M304.8 121.7h0M317.1 126.3h0M295.4 120.2h0M310.7 122.2h0M302.2 115h0M312.3 125.2h0M291.9 122.6h0M294.2 115.4h0M304.4 123.1h0M305.8 113.4h0M298.2 121.1h0M292.4 126.8h0M329.3 124.6h0M312.3 125.6h0M324.3 119.7h0M331.5 123.3h0M293.3 121.4h0M314.5 126.1h0M290.1 122.9h0M288.5 121.5h0M305.6 116.7h0M308.1 127.7h0M329.2 117.3h0M313.9 117.4h0M295.3 126.1h0M302.5 124.5h0M313.1 125.5h0M295.4 123.1h0M319.8 132.6h0M318.7 129.4h0M308.7 116.3h0M293 117h0M305.6 126.1h0M308.2 124h0M308.3 114.8h0M300.6 113.9h0M327.2 120h0M301.5 116.5h0M311.4 113.9h0M309.8 129.8h0M308.2 115.8h0M301.4 129.4h0M311 126.4h0M299.9 115h0M313 128.5h0M298.6 128h0M296.3 120.3h0M289.2 130.2h0M333.2 125.6h0M306.5 118.3h0M296.7 117.9h0M295.4 120.1h0M295.8 124.2h0M296 126.9h0M329.1 122.4h0M298.7 131.5h0M299.5 121.1h0M299.7 120.6h0M334 116.6h0M310.3 112.2h0M312.4 126.4h0M328.5 127.3h0M289.4 118.9h0M296.9 124.5h0M311.7 124.7h0M297.3 123.2h0M325.3 126.4h0M299.2 114.9h0M329.4 128.2h0M294.6 116.9h0M290 118h0M299.5 123.4h0M286.7 124.6h0M316.8 123.4h0M301 132.5h0M325.5 118.6h0M325.4 125.4h0M300.2 126.8h0M305.1 125.8h0M300.9 121.6h0M314 113.2h0M319.1 129.6h0M292.1 124.2h0M325.7 124.8h0M293.8 122.6h0M295.3 122.3h0M299.4 116.2h0M277 131.4h0M283 128h0"/>
<path stroke="#d7282f" d="M250 50.8h0M250.4 50.8h0M256.8 59.3h0M269.2 65.7h0M296.6 89.3h0M276.9 81.5h0M292.8 84h0M267.8 89.9h0M296.4 75.8h0M261 80.4h0M269.9 77.1h0M308.8 90.1h0M258 82.7h0M300.4 90.4h0M301.1 72.4h0M319.5 92.7h0M274.9 83.6h0M273.4 71.7h0M276.5 74.3h0M272.5 75.6h0M288.9 70.7h0M319.1 91.6h0M295.7 75.2h0M289.1 73.4h0M262.6 75.5h0M313.3 91.4h0M316.9 86.9h0M264.3 74.1h0M320 92h0M301.3 90.3h0M319.5 79.8h0M293.6 97.2h0M301 78h0M295.1 87.3h0M316.3 77.5h0M318.3 99.1h0M298.8 89.8h0M279.7 86.9h0M272.7 70.2h0M322.8 82.1h0M292.7 75.6h0M320.8 86.5h0M304.5 87.5h0M265.1 74.3h0M314.6 77.9h0M315.3 93.7h0M287.1 75.5h0M278.7 81.4h0M276.3 74.3h0M266 80.6h0M263 75h0M300.4 89.2h0M287.5 80.3h0M325.6 93.6h0M285.1 86.7h0M280.3 86.9h0M321 82.8h0M268.8 81.5h0M315 81.4h0M271.5 80h0M309.3 76.5h0M242.3 89.4h0M270.3 84.1h0M276.9 71.4h0M308.6 87.6h0M288 72.9h0M305.9 80.1h0M272.4 74.3h0M272.8 80.1h0M301.7 75.9h0M320.7 78.3h0M303.4 86h0M322.1 86h0M295.9 76h0M277.7 76.3h0M251.4 94.4h0M323.2 85.8h0M265.5 73.2h0M271.2 83.4h0M329.3 123.3h0"/>
<path stroke="#d77fbd" d="M196 31.5h0M227.1 31.3h0M207.6 26h0M215.5 20.9h0M217.2 19.2h0M223.4 22.7h0M209.4 39.4h0M227 32.8h0M208.5 39.6h0M221.4 18.8h0M220.7 40.5h0M217.5 42.8h0M224 30.1h0M216.6 21.5h0M203.4 42.4h0M218.6 19h0M198 33.3h0M211.7 21.3h0M211.4 28.2h0M214.3 28.1h0M218.5 42.8h0M210.8 26.6h0M212.9 38h0M211.2 38.2h0M211.2 26.5h0M193.8 30.6h0M223.8 32.9h0M207.6 31.9h0M210.8 33.3h0M209.4 27h0M203.4 31.6h0M198.2 31.9h0M221.9 37.3h0M224.3 43.6h0M217.7 40.3h0M224.3 24.8h0M206 31.6h0M192.7 39.1h0M200.5 40.9h0M201.2 22.6h0M213.5 27h0M200.2 33.4h0M221.4 46.1h0M251.3 109.8h0M238 100.5h0M252.2 98h0M270.9 110.4h0M237.5 104.1h0M231.8 101.3h0M242.1 104h0M238.5 108.4h0M242.7 107h0M231.5 105.7h0M264 112.9h0M239.4 103h0M233 102.9h0M243.8 112.3h0M245.4 103h0M245.6 110.7h0M247.1 107.1h0"/>
<path stroke="#d7282f" d="M251.5 52.4h0M248.5 54.4h0M250.8 55.7h0M238.7 43.2h0M259.6 61.8h0M260.7 61.9h0M252.8 57.1h0M254.2 58.5h0M261 63.2h0M268.2 64.4h0M251.6 55.4h0M284.9 73.6h0M299 80.1h0M314.6 73.1h0M282.5 76.5h0M302.1 79.3h0M304.1 80h0M321.3 82.3h0M266.5 73.9h0M295.3 78h0M262.7 93.1h0M307.3 84.3h0M299.9 93.9h0M294.9 86.7h0M315.2 78h0M273.3 91.8h0M307.5 78.6h0M323.5 79.2h0M311.4 74.3h0M308.6 77.9h0M277.9 78.4h0M285.2 70.5h0M270.6 71.7h0M304.2 80.6h0M321.1 84.8h0M282.6 80.6h0M282.2 86.4h0M315.1 90.1h0M301.3 76h0M290.9 81.2h0M305.4 74.4h0M262.5 79.5h0M247.7 72.7h0M264.3 84.2h0M313.1 75.6h0M322.8 82.7h0M234.8 76.9h0M311.3 92.1h0M319.9 90.7h0M298.8 83.8h0M281 74.6h0M292.6 73.6h0M264.8 72.5h0M277.8 87.7h0M308.2 83h0M277.4 79.7h0M294.8 89.6h0M307.7 79.8h0M282 82.3h0M263.6 75.4h0M241.2 88.3h0M271.6 83.2h0M280.1 82.2h0M307.7 72.2h0M316.6 78.4h0M280.1 69.6h0M277.6 75.4h0M317.8 91.2h0M305 83.9h0M283.4 88.1h0M296.7 84.2h0M296.3 89.8h0M295.9 79h0M312.9 78.1h0M309.6 82h0M290.8 88.4h0M302.6 81.1h0M292.5 73.5h0M259.2 86.3h0M310.5 79.6h0M319 78.3h0M299 80.6h0M308.6 75.6h0M229.9 85.7h0M320.5 85.7h0M286.2 81.1h0M318.2 77.2h0M291.4 75h0M282.7 70.2h0M267.4 74.5h0M295.5 77.4h0M293.1 78.2h0M311.1 90.1h0M264.7 86.2h0M309.7 84.5h0M232.4 76.4h0M291.3 77.6h0M286 69.5h0M316.9 84.2h0M303.9 98.9h0M307.6 89.7h0M254.3 97.3h0M227.5 80.4h0"/>
<path stroke="#7153a6" d="M245.1 52h0M247.5 52h0M246.7 46.3h0M243.1 45.7h0M241.7 46.1h0M241.8 45.1h0M282.9 99.4h0M286.5 93h0M297.3 96.8h0M274.9 89.8h0M271.1 78.5h0M265.1 75.1h0M257.9 93.5h0M281.3 86.2h0M230.2 90.1h0M286 97.2h0M321.6 95.5h0M256.7 87h0M283.4 70.7h0M282.1 98.4h0M316.3 84.5h0M299.3 97.9h0M262.5 96.6h0M314.1 97.2h0M291.6 89.9h0M307.6 96.6h0M251.2 94.7h0M279.5 91.3h0M258.4 97h0M260.7 96.9h0M319.7 99.5h0M291.8 98.7h0M254.7 86.9h0M322.5 95.7h0M266 97.6h0M309.7 96.9h0M290.6 95.2h0M253.9 91.1h0M322 87.1h0M269.8 90.4h0M276.2 91.1h0M293.3 83.4h0M249.2 96.1h0M279 98h0M291.4 110.7h0M272.9 96.3h0M251.8 95h0M301.3 98.5h0M300.4 92.2h0M275.9 108.1h0M281.6 89.7h0M301.3 96h0M277.1 89.8h0M284.8 79.9h0M246.4 95.5h0M263.5 98.1h0M267.3 110.2h0M315.2 94.2h0M249.8 95.2h0M273.4 90.8h0M271.1 105.6h0M255.9 88.6h0M265.7 88.3h0M320.5 92.6h0M234.7 92.7h0M266.6 91.9h0M285.4 102.7h0M268.9 102.1h0M257.2 90.4h0M261.5 99.5h0M301.3 93.8h0M243.6 93.2h0M266 106.6h0M287.6 82.1h0M297.7 96.6h0M266.2 98h0M287.4 93.2h0M289 100.6h0M261.8 81.6h0M315 100.9h0"/>
<path stroke="#7d5042" d="M212.4 32.6h0M242.3 28.6h0M230.6 28.2h0M243.9 35.2h0M241.3 40.7h0M240.4 39.6h0M239.7 40.1h0M238.7 37.5h0M230 30.3h0M238.4 35.7h0M236.5 28.7h0M213.6 35h0M231.3 37.3h0M288.2 112.3h0M288.3 105.7h0M292.8 107.6h0M257.7 88.2h0M236.7 97.2h0M272.8 102.6h0M279 102.5h0M256.4 101h0M268.2 103.2h0M278.9 115.1h0M278.6 102h0M277.3 101.8h0M282.9 112.6h0M283.9 107.4h0M304.4 98.7h0M290.3 108.9h0M287.2 110.1h0M291.1 101.5h0M290.9 105h0M295.7 99.8h0M261.2 113.8h0M276 106.4h0M277.3 99h0M283.8 103.6h0M288.8 108.1h0M272.8 107.4h0M288 96.7h0M261 107.1h0M273.5 104.6h0M272.4 107.9h0M264.5 108.1h0M249.8 112.4h0M256.2 101.4h0M240.3 106.6h0M269.3 100.9h0M237.9 110h0M258.4 109.9h0M247.3 100.4h0M294 104h0M267.6 104.3h0M290.6 110.4h0M273.1 99.2h0M294 101h0M261.4 98.7h0M298.6 99.7h0M260 108h0M241.9 102.8h0M268.7 111.3h0M276.9 107.4h0M260.2 112.2h0M274.9 111.3h0M275.3 93.4h0M267.1 108.7h0M278.5 109h0M281 108.6h0M271.9 99.5h0M266.1 110.6h0M269.8 99.2h0M277.2 110.6h0M285.8 115.6h0M321.9 94.3h0M297.6 103.7h0M284.9 99.6h0M276 98.5h0M246.2 111.8h0M258.7 112.3h0M268.7 115.2h0M261.3 104h0M275.8 112.7h0"/>
<path stroke="#ee7f2d" d="M301.2 119.8h0M327.3 122.6h0M297.8 123.5h0M321.5 121.4h0M297.4 128.4h0M321.1 124.7h0M311.7 126.6h0M334.3 123.8h0M291.5 125.5h0M309.9 113.9h0M321.3 125.7h0M319.1 120.3h0M317.6 124.8h0M308.1 116.4h0M297.6 123.2h0M332.1 117.9h0M291 130.4h0M322.3 122.7h0M306.3 116.6h0M321 125.7h0M297 116.5h0M310.4 117h0M329.1 119.8h0M311 131.7h0M322.5 124.6h0M286.4 124.6h0M331.7 127.6h0M330.7 120.5h0M330.5 122.3h0M306.9 116.4h0M297.4 119.9h0M323.6 127.8h0M293.4 127.4h0M320.7 118.3h0M306 120.8h0M292.5 119.2h0M301.6 132.2h0M331.4 117.6h0M321.1 115.4h0M310.7 130.8h0M289.9 117.7h0M290.4 122.1h0M322.1 114.1h0M289.5 129.5h0M291.6 121.6h0M297.5 116.8h0M321.4 118h0M303.5 118.7h0M330 126h0M300.7 120.3h0M311.7 130.2h0M296.5 127.9h0M323.8 121.4h0M325.7 123.6h0M335.1 118.9h0M320.3 120.1h0M310.6 129.7h0M314.7 124.5h0M300 124.3h0M293.1 124.8h0M296.6 125.6h0M310.8 113.6h0M303.5 118.7h0M300.4 126.7h0"/>
<path stroke="#1a9850" d="M246.1 83.5h0M232.4 85h0M258.2 80.6h0M226.8 80.1h0M231.4 75.8h0M235.9 77.4h0M232.8 89.7h0M257.1 75.7h0M247.2 88.2h0M258.3 73.9h0M235.2 80.9h0M230.7 79.9h0M223.4 83.9h0M246.8 70.2h0M247.7 86h0M251.3 74.9h0M231.2 89.2h0M232.2 78.6h0M255.5 82.9h0M241.1 82.8h0M229.6 80.2h0M254.5 83.1h0M235.5 86.3h0M245.3 91.5h0M244.1 87.4h0M229.8 89.2h0M232.4 88.2h0M264.9 71.1h0M240.2 82.3h0M248.7 88.1h0M258.8 70.4h0M236.8 81.7h0M245.9 90.8h0M225.8 82h0M244.1 70.7h0M239.7 90.9h0M254.2 85.9h0M249.7 91.5h0M227.2 88.4h0M249.1 72.4h0M249.1 86.9h0M236.6 71.8h0M257.4 70.7h0M251.6 90.2h0M312.9 117.7h0"/>
<path stroke="#ee7f2d" d="M321.5 116.9h0M308.6 122.6h0M306.3 117.3h0M294 115.5h0M318.4 120.4h0M299.8 118.8h0M321.8 126.3h0M317.7 130.8h0M308.4 118.4h0M303.3 114.4h0M312.9 121.3h0M303.1 130.6h0M312.5 125.4h0M296.6 118.3h0M308.7 127.8h0M305.8 129.1h0M302.1 121.6h0M292.4 128.5h0M305.3 117.2h0M303 125h0M289.3 119.4h0M313.9 116.5h0M301.3 129.6h0M333.1 123.5h0M292.3 121.6h0M295.4 127.6h0M303.8 117h0M307.9 122.7h0M316.2 132.1h0M296.8 125.3h0M301.7 122.8h0M321.7 127.1h0M303.2 126h0M304.9 119.5h0M321.1 127.6h0M329 122h0M307.7 124.3h0M290.2 120.8h0M319.4 122.8h0M311 113.8h0M301.3 115.3h0M313.4 119.4h0M317.3 127.8h0M300 128.3h0M313.9 117.2h0M287.5 121.8h0M296.2 129.9h0M295.9 116.6h0M311.4 115.6h0M293.2 131h0M299.4 130h0M310.9 130.6h0M295.2 131.8h0M323.5 125.5h0M300.6 121.2h0M332.8 117.3h0M307.1 131.2h0M313.4 124.1h0M328.7 124.4h0M333.4 118.6h0M327.8 117.1h0M295.2 120.9h0M299.1 113.7h0M326.9 128.2h0M285 122.8h0M301 115.3h0M319.3 125h0M306.5 128.9h0M288.7 120.5h0M290.8 121.7h0M308.5 124.5h0M305.5 115.4h0M302.1 126.5h0M307.1 121.4h0M311.9 116.8h0M291.7 120.7h0M324.1 124.2h0M331.1 126.9h0M293.5 122.5h0M308.8 120.5h0M299.3 116.9h0M315.5 125.7h0M309.1 119.3h0M328.3 123.5h0M312.9 128.1h0M316.6 126.1h0M279 132.5h0M281 130.5h0"/>
<path stroke="#7153a6" d="M243.6 47.6h0M248.5 50h0M251.4 51h0M263.3 63.5h0M321.2 94h0M299.3 92h0M309.9 101.7h0M244.2 75.7h0M269.7 97.4h0M286.1 109.3h0M258.6 96.8h0M261.9 104.8h0M304.4 76h0M293.4 81.7h0M282 101.1h0M303.8 94.7h0M280.3 107.2h0M268.8 87.5h0M316.5 93.3h0M259.6 92.5h0M246.4 96.7h0M241.8 96.6h0M285.2 95.3h0M302.7 96.7h0M243.5 92.8h0M315.5 99.4h0M320.7 95.8h0M259.2 97.4h0M285 95.2h0M301.3 81.6h0M306.3 101.9h0M260.1 88.1h0M291.3 95.4h0M292.3 72.5h0M287.1 96.4h0M274.8 74.4h0M272.1 89.4h0M236.1 93.6h0M278.9 98.1h0M272.5 93.4h0M273.2 88.2h0M314.4 98.5h0M253.8 91.4h0M234.7 94.5h0M278 93.8h0M290.3 93h0M259.7 113.3h0M282.3 91.9h0M299.6 97h0M294.2 95.1h0M283.7 77.3h0M255.9 91.7h0M302.9 97.2h0M244.9 94.1h0M251 93.2h0M233.3 92.4h0M242 94.3h0M254.6 96.3h0M261 88h0M271.9 96.7h0M277.1 94.3h0M257.7 90.9h0M242.7 92.7h0"/>
<path stroke="#d7282f" d="M235.8 47.4h0M240.9 42.1h0M248.8 53.1h0M251.3 54.6h0M244.9 50.8h0M247.1 52.4h0M241 44.7h0M265.5 60.1h0M256.5 58.2h0M257.2 56.8h0M258.2 61.6h0M261.8 65.5h0M268.1 68h0M260.6 61.3h0M301 90.3h0M282.2 77.1h0M318.9 80.4h0M287.4 79.5h0M269.7 79.8h0M302.6 72.4h0M313.7 91.4h0M297.5 88.6h0M302.4 83.2h0M295.6 77.2h0M283.4 84.5h0M236.4 77.7h0M280.2 89.7h0M295.6 89.2h0M276.6 75.4h0M323.3 85.4h0M261.9 82.9h0M284.3 70.7h0M252 95.4h0M252 91.3h0M294.6 86.2h0M266.2 82.1h0M301.3 72.3h0M268.9 78.3h0M263.5 78.8h0M265.4 76h0M262.6 75.8h0M271.3 82.2h0M266 77.6h0M293.7 74.3h0M314.8 81.8h0M272.2 68.6h0M304.9 88.3h0M303 83h0M292.7 75.9h0M273.1 77.7h0M309.6 76.1h0M292 79.2h0M307.9 74.9h0M274.8 85.2h0M311.6 84.1h0M291.9 82.4h0M267.8 76h0M313.1 74.3h0M322.3 78.5h0M322 85.5h0M313.6 74h0M305.8 76.8h0M273.2 77.2h0M311.9 84.6h0M277.4 69.6h0M274.1 69.4h0M286.7 79.7h0M269.6 73.2h0M227.6 81.8h0M303.9 82.6h0M304.2 77.9h0M279.6 82.3h0M270.4 77.3h0M262.9 76.4h0M260.7 81.4h0M304.4 93.3h0M292.9 93.7h0M320.8 80.6h0M291.5 81.6h0M302.4 80.6h0M273.8 81.5h0M251.3 76.5h0M246.8 77.8h0M267.7 79.9h0M281.4 71.2h0M314.9 73.3h0M303.5 72h0M320.3 83.3h0M288.7 74.5h0M288.5 77.1h0M279.9 79.6h0M263.8 81.1h0M299.4 84.7h0M285.4 81.6h0M265.8 78h0M297 82.8h0M262.5 81.6h0M321.9 78.7h0M267.1 69.6h0M324.8 81.7h0M281.6 72.1h0M291.6 83.3h0M316.1 81.1h0M295.5 89.1h0M287.6 86.7h0M251.9 85.2h0M313.9 91.8h0M297.1 74.7h0M272.1 76.9h0M291.3 81.5h0M279.5 81.3h0M312.3 81.2h0M309.8 81.9h0M302.2 89.5h0"/>
<path stroke="#d77fbd" d="M209.9 31.7h0M215.3 25.2h0M213.8 21.1h0M217.3 41.4h0M213.8 26.4h0M226.7 38h0M225.3 21.2h0M207.6 35.7h0M198.1 27.9h0M217.2 24.9h0M223.3 34.6h0M203.4 34.5h0M219.9 16.8h0M218.4 42.7h0M196.8 28.8h0M199.1 27.3h0M210.2 39.8h0M227.7 28.6h0M213.7 44.9h0M216.2 32.4h0M215.4 37.8h0M210.9 27.1h0M209 35.4h0M206.9 33.9h0M206.8 28.4h0M213.2 20.4h0M221.9 37.7h0M237.4 28.5h0M224.9 36.1h0M207.7 36.2h0M209.3 42.5h0M241.9 39.8h0M190.7 37.7h0M209.4 19.9h0M202 26.4h0M221.9 39.9h0M195.5 30.9h0M208.3 42.1h0M203.4 34.3h0M222 19.5h0M201 31.6h0M203.1 36.8h0M231.3 100.2h0M239.3 99.7h0M247.9 110.2h0M239 109.3h0M243.5 107.3h0M228.7 103.5h0M230 105.3h0M235 109h0M252.6 110.4h0M252.6 103.1h0M238.2 108.8h0M239.6 109.2h0M266.4 106.1h0M267.8 115h0M246.6 103.2h0M245.6 98h0M246.1 110.3h0M253.7 110.9h0M246.3 107.7h0M252.3 99h0M252.3 101.4h0M232.4 97.1h0M248.3 109.8h0M242 104.9h0"/>
<path stroke="#7d5042" d="M228 26.1h0M265.3 101.6h0M291.6 108h0M302 100.4h0M260.7 106.6h0M302.3 105.3h0M297 102.5h0M245.1 100.7h0M241.8 106.5h0M314.6 96.6h0M305.1 100.9h0M266 103.6h0M269.5 112.9h0M270.3 114.7h0M251.1 98.3h0M287.6 110.2h0M259.4 105.6h0M306.5 101.7h0M291.2 112.4h0M282 111.1h0M273.8 99.4h0M279.2 101.9h0M285.9 98.8h0M258.8 102.4h0M274.6 113.8h0M274.7 105.5h0M311.7 99.8h0M299.8 105.2h0M263.5 111.2h0M258.8 99.1h0M270.7 105.2h0M257.3 102h0M272.6 105h0M275.8 110.8h0M320 98.4h0M258.5 92h0M294.7 105.1h0M265.6 108.9h0M262.4 112.3h0M262.2 104.4h0M318.3 101.8h0M258.6 103.7h0M316.1 93.5h0M305.4 107.1h0M267.4 107.8h0M270.1 90.7h0M259.7 105.2h0M294 102.4h0M293.7 101.7h0M295.4 108.7h0M294.2 107h0M255.4 110.2h0M265.4 113h0M281.3 111.7h0M319.8 100.2h0M280.5 114.5h0M315.8 102.8h0M289.4 101.9h0M238.3 102.6h0M296.3 99.9h0M292.9 105.3h0M322.7 101.8h0M273.2 109.6h0M311.9 99.4h0M281 99.8h0M265.8 108.4h0M297.3 95h0"/>
<path stroke="#1a9850" d="M237.3 71.3h0M231.8 90.8h0M255.3 81.4h0M240.2 73h0M253.3 77.5h0M259.6 78.9h0M241.7 90.7h0M239.1 77.5h0M243.6 88.6h0M225.5 83.1h0M244.9 75.3h0M262.3 73.2h0M254.9 79.6h0M239.3 84h0M249.1 91.8h0M232.6 90.9h0M242.9 77.6h0M246.5 83.7h0M239.6 74.1h0M230.5 87h0M256.3 69.7h0M238.6 76.3h0M238.1 76.5h0M253 78h0M252.1 85.5h0M233.1 76.1h0M251.8 73.7h0M261 72.1h0M251.5 87.1h0M255.8 77.2h0M242.7 89.3h0M255.1 82.5h0M258.7 71.6h0M255.4 79.7h0M252.3 76.8h0M247.6 86.2h0M260 72.4h0M256.7 78h0M232.5 82.8h0M315.2 114.1h0"/>
<path stroke="#d7282f" d="M266.8 65.8h0M258.8 59.7h0M261.5 59.3h0M259.9 59.9h0M256.3 56.8h0M268.8 73.8h0M295.3 71h0M300.6 77.5h0M275.3 86h0M260.6 84h0M286 70.8h0M293.8 80.2h0M282.3 79.5h0M292.6 72.6h0M296 71.1h0M302.7 85.6h0M310.3 78h0M307.6 82.2h0M267.1 85.1h0M312.8 79.9h0M275.3 86.6h0M285.9 73h0M316.2 89.7h0M268.8 69.1h0M284.9 84.8h0M290.8 69.7h0M264.5 81h0M320.4 88.7h0M307.1 84.7h0M281.5 80.6h0M317.6 74.8h0M289 77h0M310.1 80.5h0M289.5 80.9h0M316.8 88.3h0M315 81.6h0M276 82h0M287.1 89.1h0M253.3 96.8h0M239.6 93.1h0M287.7 78h0M282.3 77.5h0M324.4 90.8h0M275.1 79.8h0M263 81.3h0M299.6 83.3h0M263.1 88.4h0M323.2 88.6h0M301.7 75.6h0M288 86.3h0M273.6 73.4h0M291.9 86h0M288.5 76.1h0M315.7 81.8h0M284.1 88.7h0M304.9 82.5h0M289.4 87.2h0M266.6 71.5h0M289.2 86.1h0M265.6 72.5h0M268.4 85.3h0M280.7 79.3h0M294.4 86.1h0M278.5 86.6h0M298 76.9h0M313 86.3h0M294.8 78.3h0M289.5 69.8h0M259.5 82.2h0M290.6 82.5h0M261.4 80.7h0M320.3 89.2h0M314.6 72.7h0M276.2 73h0M258.9 83.7h0M316.2 89.2h0M275 71.4h0M301.8 97.3h0M313.6 81.4h0M312 80.5h0M297.8 81.9h0M318.3 84h0M309.2 79.7h0M267.4 83.8h0M309.6 78.3h0M313.2 88.9h0M276.5 78.7h0M286.3 79.6h0M254.3 91.4h0M295.7 74.3h0M269 81h0M264.6 83.2h0M288.7 79.3h0M286.8 82.9h0M288.8 71.6h0M284.3 82.3h0M273 71h0M305 76.3h0M273.3 73.8h0M278 73.1h0M298.9 77.2h0M293.4 88.9h0"/>
<path stroke="#7d5042" d="M235.1 32.5h0M239.6 37.9h0M237.1 35.3h0M203.4 27.1h0M234.1 36.3h0M230.7 40.6h0M238.4 36.8h0M233.3 29.6h0M228 41h0M232.4 28.9h0M193.7 36.3h0M230.4 26.7h0M228.1 31.2h0M233.8 35.4h0M237.8 34.2h0M263.8 110.2h0M269.7 98.8h0M292.3 102.9h0M295.5 104.4h0M292.4 111.4h0M264 104.3h0M281.5 115.4h0M304 106.9h0M271.2 114.8h0M267.7 113.7h0M296.6 103.1h0M314.5 97.5h0M275.3 107.2h0M278.1 109.8h0M297.7 102.3h0M273.8 106.9h0M263.5 108.6h0M256.1 112.3h0M280.2 106.1h0M254.4 106.6h0M298.3 110.5h0M275 114.7h0M257 100.8h0M235.6 106.1h0M285.6 111h0M289.5 111.3h0M262.9 105.8h0M261.2 98.9h0M272.9 107.3h0M263.5 112.4h0M299.9 106.7h0M265.3 108.5h0M233.2 102.6h0M317.5 102.1h0M286.4 114h0M273.7 99.5h0M253.9 99.8h0M297.4 108.2h0M282.8 103.5h0M299.3 109.5h0M268.3 91.3h0M316.6 98.5h0M253.7 111.8h0M299.8 99.8h0M242.5 108.1h0M249.2 112.4h0M319.1 99.8h0M245 92.6h0M316.9 102.6h0M299.4 100.1h0M258.7 102.1h0M298.5 106.7h0M285 111h0M313.8 93.4h0M292.9 109.3h0M310.5 102h0M313.5 103.7h0M261.5 103.3h0M295.8 107.4h0M272.3 103.4h0M303 106.7h0M274.9 111.9h0M272.8 112.5h0M287.6 112.2h0M247.1 100.4h0M306.1 99.5h0M302.1 103.7h0M265.9 91.9h0"/>
<path stroke="#ee7f2d" d="M318.4 128.4h0M296.7 117.2h0M313.7 118.4h0M329.3 124.5h0M297.1 126.7h0M321.6 124.7h0M311.9 117.9h0M331.8 123.6h0M297.3 114.6h0M288.3 117h0M325.8 117.5h0M301.5 129h0M333.5 124.7h0M298 123.2h0M296.3 119.4h0M327.4 125.1h0M303.2 118.3h0M320.3 121.2h0M331 116h0M308.3 116h0M327.8 128.1h0M318.2 122.1h0M305.1 115h0M322.8 117.2h0M291.8 116.6h0M306.6 115.8h0M325.1 122.6h0M314.7 115.1h0M286.2 124.3h0M321.2 119.9h0M302.6 131.3h0M313.2 130.9h0M332.3 123.2h0M296.7 119.2h0M323.9 122.2h0M291.8 130.8h0M300.3 121.9h0M307.3 121.9h0M296.1 117h0M315.7 129.6h0M328.7 128h0M309.2 122.3h0M314.6 122.8h0M307.5 122.3h0M291.3 118.7h0M291.9 124.8h0M323.4 112.7h0M314.9 130.3h0M335.7 118.2h0M303.9 120.4h0M299.6 115.9h0M298 115.6h0M299.8 120.9h0M327.5 126.7h0M307.3 111.4h0M325.9 128.7h0M336.6 118.1h0M307.4 126.1h0M304.6 126.7h0M318.5 124.9h0M299.8 128.7h0M311.6 113.2h0M306.2 131h0M301.4 118.8h0M298.3 116.6h0M318.1 114.1h0M312.9 119.9h0M295.7 115.7h0M313.7 117.8h0M302.8 117.4h0"/>
<path stroke="#7153a6" d="M243.2 48.1h0M240.1 45.8h0M248.8 52h0M238.9 43.3h0M243.4 44.1h0M240.3 44.4h0M262.6 67.1h0M276.7 70.3h0M257.6 97.6h0M315.8 93.2h0M270.4 87.5h0M305.4 94.7h0M319.2 97.5h0M305.9 91.6h0M321.8 95.5h0M231 89.8h0M321.5 94.5h0M294.2 94h0M306.7 96.9h0M300.8 92h0M251.2 91.2h0M295.9 93.9h0M289.4 96.3h0M270 88.1h0M261.5 86.4h0M242 97.1h0M280.6 96.5h0M248 88.7h0M265.9 93.5h0M303.8 99.3h0M263.1 90.8h0M301.5 90.8h0M264.9 93.1h0M258.8 97h0M289 79.4h0M257.7 75.4h0M270.1 88h0M279.4 90.6h0M266.7 109.9h0M262.7 97.5h0M283.8 92.8h0M256.9 97.5h0M296.4 94.5h0M234.3 86.3h0M260.2 95.7h0M296.8 87.4h0M270.5 97.4h0M269.5 95.3h0M258.6 96h0M257.2 91h0M261.2 86.6h0M297.4 96.7h0M286.7 91.5h0M308.1 80.7h0M279.7 95.5h0M267.5 90.3h0M323.5 97.8h0M316.1 95.4h0M267.1 86.1h0M267.9 87.8h0M239.3 88.4h0M254.8 88.7h0M256.8 86.1h0M310.7 96.7h0M255.7 89.3h0M305.7 91.7h0M258.9 95.7h0M321.1 79.4h0"/>
<path stroke="#1a9850" d="M253.6 80.3h0M235.1 81.7h0M240.1 85.3h0M253.1 87.9h0M265.5 69.7h0M255.2 75.7h0M236 76h0M232.7 85.5h0M244 71.6h0M249.3 70.7h0M250.7 91.3h0M241.3 77.5h0M228.4 88.5h0M247 82.3h0M233.5 76.6h0M248.6 84.9h0M261.3 76.4h0M248.2 70.2h0M242.9 72.5h0M235.3 83.2h0M237.6 73.3h0M241.9 76.9h0M242.1 90.1h0M256.1 78.5h0M251.5 75h0M242.7 84.8h0M231.8 89h0M255.6 75.7h0M243 83.5h0M242.8 83.1h0M250.5 71h0M236.1 80.8h0M231 75.1h0M244.9 80.4h0M225.2 78h0M252 75.2h0M239 81.9h0M235.8 82h0M239 83.3h0M246.8 87.3h0M252.6 88.7h0M237.5 80h0M252.2 75.7h0"/>
<path stroke="#d77fbd" d="M226.2 24.5h0M195.9 40h0M220.4 31.3h0M209.4 34.6h0M193.3 34.6h0M205.3 38.7h0M201.4 26.3h0M230.9 32.3h0M198.8 35.3h0M210.2 21.9h0M194.2 33.3h0M231.9 24.6h0M212.2 31.9h0M198.2 40.5h0M211.5 21.3h0M212.4 42.4h0M211.8 38.3h0M209.4 43.4h0M215 20.2h0M200.3 24.7h0M199.2 34.3h0M221.9 32.5h0M221.1 35.9h0M214.6 23.5h0M203.2 39.1h0M206.6 40.9h0M211.1 40.8h0M220.9 38h0M204.2 40.8h0M224.5 30h0M203.7 30.8h0M207.3 34.8h0M216.1 30.9h0M225.4 38.4h0M221.2 30.2h0M226 26.7h0M216.9 41.7h0M222.1 32.2h0M243.6 34.9h0M238 99.4h0M247 106.3h0M252.8 111.9h0M251.9 109.8h0M235.3 102.6h0M252.3 111.1h0M232.7 103.3h0M279.4 109.1h0M239.4 106.8h0M264.8 112.4h0M281 107.1h0M237.4 106.2h0M268 112.2h0M253.9 102.8h0M229.8 101.7h0"/>
<path stroke="#c084af" d="M377.9 40.4h0M375.9 42.4h0M387.9 37.8h0M416.1 34.9h0M435.1 67.1h0M438 60.1h0M432.1 61.8h0M425.3 57.1h0M429 58.2h0M429.3 59.3h0M440.7 64.4h0M493.7 94h0M459.9 79.5h0M442.2 79.8h0M475.1 72.4h0M465.3 107.6h0M442.2 98.8h0M470 88.6h0M455 76.5h0M425.3 111.9h0M419.6 85.2h0M430.7 80.6h0M430.1 97.6h0M471.8 92h0M443.6 78.5h0M424.4 109.8h0M447.8 86h0M399.3 80.1h0M472.4 93.9h0M482.4 101.7h0M452.7 89.7h0M449.1 75.4h0M417.5 75.5h0M428.9 101h0M468 104.4h0M464.9 111.4h0M433.1 84h0M438 69.7h0M481.3 90.1h0M430.5 82.7h0M458.5 70.8h0M429.6 75.7h0M431.1 96.8h0M491.7 97.5h0M466.3 80.2h0M451.4 115.1h0M424.7 98h0M434.4 104.8h0M438.7 82.1h0M473.8 72.3h0M402.7 90.1h0M469.1 103.1h0M403.5 89.8h0M430.8 73.9h0M476.9 76h0M442 112.9h0M455.4 112.6h0M403.2 79.9h0M439.3 105.1h0M488 95.2h0M456.4 107.4h0M454.8 79.5h0M476.9 98.7h0M420.4 110.2h0M482.5 88.5h0M415.2 99.5h0M481.1 77.9h0M408.5 76h0M438.4 104.2h0M447.8 107.2h0M423.6 98.3h0M476.3 94.7h0M475.2 85.6h0M470.2 102.3h0M460.1 110.2h0M461.4 70.7h0M422.6 80.1h0M481.4 103.5h0M423.8 74.9h0M416.1 88.6h0M403.7 89.2h0M463.4 81.2h0M425 68.2h0M461.6 73.4h0M480.4 74.9h0M435.1 75.5h0M408 103.8h0M437.9 90h0M420.2 72.7h0M473.3 92h0M489.4 86.9h0M464.4 82.4h0M454.5 111.1h0M423.7 91.2h0M485.6 75.6h0M414.3 96.6h0M405.4 99.9h0M464.6 91.2h0M463.3 69.7h0M410 104.1h0M449.8 99h0M410 106.5h0M458.4 98.8h0M427.4 79.6h0M495.3 82.7h0M461.9 96.3h0M445.3 107.4h0M492 79.8h0M466.1 97.2h0M442.5 88.1h0M407.3 76.9h0M442.3 99.6h0M492.2 99.5h0M483.8 92.1h0M420.3 98.3h0M455.6 95h0M434.9 95h0M432 106h0M408.1 106.1h0M461.5 77h0M421.6 91.8h0M458.1 111h0M462 111.3h0M433.5 107.1h0M459.2 79.7h0M495 95.7h0M446 104.6h0M398.3 80.4h0M438.5 97.6h0M482.6 80.5h0M471.3 89.8h0M489.3 88.3h0M452.2 86.9h0M472.3 105.2h0M444.9 107.9h0M493.2 95.8h0M435.4 105.8h0M416.6 87.4h0M415.6 107.6h0M495.3 82.1h0M472.6 97.6h0M400.1 81.8h0M480.2 79.8h0M429.8 102h0M454.5 82.3h0M445.4 107.3h0M410.1 73.3h0M436.1 75.4h0M492.5 98.4h0M435.5 81.3h0M472.1 83.3h0M407.5 109h0M441.8 100.9h0M435.6 90.8h0M452.6 82.2h0M435.6 88.4h0M476.9 93.3h0M412.7 82.3h0M487.1 77.9h0M417.5 98.4h0M450.1 75.4h0M474.8 103.1h0M421.7 96.1h0M490.3 91.2h0M460.5 86.3h0M440.1 104.3h0M459.6 96.4h0M447.3 74.4h0M446.1 73.4h0M474.9 80.6h0M425.1 103.1h0M456.6 88.7h0M439.2 109.9h0M468.9 94.5h0M435.1 94.9h0M411.9 103h0M404.3 89h0M439.1 71.5h0M440.2 79.9h0M472.3 99.8h0M423.9 94.3h0M438.1 72.5h0M428.1 75.7h0M445 93.4h0M410.7 108.8h0M454.1 89.7h0M431.1 103.7h0M486.9 98.5h0M412.1 109.2h0M477.9 107.1h0M430.5 78.3h0M435.5 75h0M460.6 91.4h0M426.5 90h0M453.2 79.3h0M424.7 93h0M451 86.6h0M479.8 99.9h0M461.2 74.5h0M433.9 98.7h0M437.3 112.4h0M460 80.3h0M421.7 112.4h0M452.4 79.6h0M417.5 92.6h0M426.3 75.5h0M436 98.1h0M395.1 82.9h0M467.9 108.7h0M424 87.1h0M466.7 107h0M487.7 94.2h0M450.5 93.8h0M493.3 102.3h0M459.6 76.3h0M449.4 107.4h0M416.3 112.3h0M405.5 94.4h0M464.5 96.7h0M487.1 72.7h0M469.5 82.8h0M435 81.6h0M447.5 71.4h0M432.2 113.3h0M426.7 85.9h0M493.5 82.8h0M486.1 81.4h0M471.5 80.6h0M487.5 81.4h0M470.3 81.9h0M493.7 99.8h0M481.7 79.7h0M444 80h0M447.8 93.4h0M439.6 108.7h0M459.2 91.5h0M462.3 96.8h0M417.9 103h0M418.1 98h0M494.4 78.7h0M486.3 93.4h0M445.9 90.8h0M475.5 71.4h0M483 102h0M421.6 72.4h0M438.6 110.6h0M424.8 76.8h0M410.8 102.6h0M442.3 99.2h0M438.2 88.3h0M475.4 97.2h0M449.7 110.6h0M493 92.6h0M407.2 92.7h0M435.4 72.6h0M441.5 81h0M437.1 83.2h0M407.2 87.4h0M423.5 93.2h0M427.3 88.7h0M468 77.4h0M481.1 87.6h0M457.4 99.6h0M464.1 83.3h0M441.4 102.1h0M465.6 78.2h0M478.4 80.1h0M475.5 106.7h0M426.6 106.8h0M414.5 94.3h0M420.3 78.5h0M473.8 93.8h0M424.8 99h0M404.4 106.1h0M488.6 81.1h0M454.7 94.4h0M447.7 106.9h0M423 83h0M404.9 97.1h0M409.1 71.8h0M432.5 72.4h0M431.2 112.3h0M445.3 112.5h0M478.2 91.7h0M453.5 99.8h0M471.4 77.2h0M444.6 76.9h0M419.6 100.4h0M478.6 99.5h0M435.7 91.8h0M474.6 103.7h0M476.4 98.9h0M452 81.3h0M493.6 79.4h0M414.5 104.9h0M466.5 94.1h0M424.7 75.7h0M434.3 81.6h0M484.8 81.2h0M482.3 81.9h0M400 80.4h0M490.9 128.4h0M477.3 121.7h0M481.1 122.6h0M494 121.4h0M466.5 115.5h0M476.9 123.1h0M484.8 125.6h0M469.8 114.6h0M491.6 120.3h0M498.3 117.5h0M475.6 130.6h0M485 125.4h0M506 124.7h0M470.5 123.2h0M481.2 127.8h0M478.1 116.7h0M468.8 119.4h0M499.9 125.1h0M477.8 117.2h0M467.8 126.1h0M467.9 123.1h0M473.8 129.6h0M493.5 125.7h0M467.9 127.6h0M478.1 126.1h0M488.7 132.1h0M483.5 131.7h0M497.6 122.6h0M487.2 115.1h0M458.7 124.3h0M501.5 122h0M496.1 127.8h0M475.1 131.3h0M472.4 115h0M469.2 119.2h0M464.3 130.8h0M489.8 127.8h0M468.7 129.9h0M481.7 122.3h0M463.8 118.7h0M464.1 121.6h0M506.5 116.6h0M470 116.8h0M508.2 118.2h0M493.9 118h0M472.1 115.9h0M482.8 112.2h0M471.6 113.7h0M479.9 126.1h0M491.8 125h0M479 128.9h0M484.2 130.2h0M501.9 128.2h0M473.5 132.5h0M497.9 125.4h0M477.6 125.8h0M473.4 121.6h0M496.6 124.2h0M503.6 126.9h0M478.7 131h0M481.3 120.5h0M492.8 120.1h0M490.6 114.1h0M481.6 119.3h0M468.2 115.7h0M489.1 126.1h0M471.9 116.2h0M449.5 131.4h0M451.5 132.5h0M455.5 128h0"/>
<path stroke="#d34b52" d="M381.9 34.6h0M403.4 32.3h0M382.7 21.9h0M397.8 21.2h0M380.1 35.7h0M406.6 36.3h0M369.9 30.2h0M381 39.6h0M410.9 36.8h0M405.8 29.6h0M368.9 34.9h0M384.9 32.6h0M390.9 42.7h0M388.9 26.4h0M381.5 35.4h0M412.9 39.6h0M400.4 27.3h0M379.1 40.9h0M377.2 36.5h0M412.2 40.1h0M372.5 32.5h0M380.1 31.9h0M381.8 42.5h0M397.8 23.7h0M397 30h0M399.6 40.6h0M394.4 39.9h0M368 30.9h0M396.8 24.8h0M375.3 22.2h0M378.5 27.4h0M386.1 35h0M398.5 26.7h0M403.8 37.3h0M408.3 47.4h0M420 52h0M421.3 53.1h0M419.2 46.3h0M415.9 44.1h0M415.6 45.7h0M414.2 46.1h0M439.3 65.8h0M432.4 59.9h0M424.1 55.4h0M491.8 95h0M414.4 102.8h0M483.3 113.6h0"/>
<path stroke="#c084af" d="M416.4 35.2h0M432.9 60.4h0M429.7 56.8h0M426.7 58.5h0M440.6 68h0M433.1 61.3h0M418.6 83.5h0M455.4 99.4h0M469.1 89.3h0M460.8 105.7h0M436.3 110.2h0M486.2 91.4h0M433.2 106.6h0M432.2 90.2h0M474.8 105.3h0M487.1 73.1h0M404.9 85h0M476.6 80h0M409.2 97.2h0M468.1 77.2h0M424.4 110.9h0M417.6 100.7h0M439 73.9h0M440.3 89.9h0M452.4 89.2h0M435.2 93.1h0M479.8 84.3h0M403.9 75.8h0M408.9 77.7h0M433.5 80.4h0M492.9 99.2h0M442.4 77.1h0M467.4 86.7h0M495.8 85.4h0M408.4 77.4h0M487.7 78h0M434.4 82.9h0M456.8 70.7h0M424.8 111.1h0M442.9 87.5h0M442.2 97.4h0M430.4 93.5h0M436.5 104.3h0M454 115.4h0M452.7 112.1h0M478.4 91.6h0M440.2 113.7h0M494.3 95.5h0M406.9 105.3h0M451.1 102h0M403.8 100.2h0M492.7 100.2h0M445.7 105.8h0M494 94.5h0M435.1 75.8h0M429.2 87h0M451.9 109.1h0M459 106.8h0M449 74.3h0M450.4 78.4h0M454.5 101.1h0M432.1 78.9h0M395.9 83.9h0M454.6 98.4h0M405.2 85.5h0M414.2 90.7h0M444.7 68.6h0M443.1 71.7h0M476.7 80.6h0M421.8 70.7h0M420.2 86h0M475.5 83h0M407.5 83.3h0M426 91.4h0M473.8 76h0M431.9 105.6h0M486.6 97.2h0M423.2 91.3h0M475.9 100.2h0M398 83.1h0M428 82.9h0M435 79.5h0M433.8 96h0M453.2 89.3h0M446 87.6h0M468.2 99.8h0M474.3 100h0M439.6 85.1h0M433.9 95.2h0M484.1 84.1h0M485.3 79.9h0M479 101.7h0M400.9 88.5h0M433.7 113.8h0M448.5 106.4h0M417.4 75.3h0M440.3 76h0M494.5 85.5h0M430.9 97h0M437 81h0M456.3 103.6h0M461.3 108.1h0M486.1 74h0M457.7 95.3h0M478.3 76.8h0M460 98.2h0M421.1 84.9h0M447.5 114.7h0M464.3 98.7h0M490.1 74.8h0M405.1 90.9h0M453.5 74.6h0M433.8 76.4h0M488.8 77.5h0M411 108.4h0M437.3 72.5h0M462 80.9h0M490.8 99.1h0M415.4 72.5h0M428.2 95.7h0M482.2 96.9h0M431.7 97.4h0M442.1 73.2h0M433.7 98.9h0M487.5 81.6h0M448.5 82h0M459.6 89.1h0M436 111.2h0M460.2 78h0M409.5 83.1h0M476.4 82.6h0M467.3 89.6h0M419 83.7h0M438.4 93.5h0M445.1 105h0M432.6 88.1h0M463.8 95.4h0M412.1 74.1h0M431 92h0M442.3 90.4h0M431.3 97h0M448.7 91.1h0M472.4 106.7h0M410.4 110h0M482.9 95.1h0M437.8 108.5h0M419.8 100.4h0M474.2 75.6h0M440.9 100.7h0M487.8 93.7h0M428.6 78.5h0M467.2 105.1h0M459.6 75.5h0M465.4 93.7h0M451.2 81.4h0M405.7 102.6h0M409.3 81.7h0M493.3 80.6h0M426.7 107.2h0M464.4 86h0M421.8 72.5h0M490 102.1h0M459.8 97.6h0M464 81.6h0M434.7 104.4h0M458.9 114h0M407.2 76.9h0M446.2 99.5h0M469.9 108.2h0M435.2 97.5h0M456.3 92.8h0M490.8 101.8h0M469.2 84.2h0M423.8 76.5h0M445 98.5h0M410.6 76.5h0M404.9 101.2h0M426.2 111.8h0M403.8 83.3h0M423.4 97.1h0M408.6 93.6h0M412.7 76.1h0M487.4 73.3h0M449 100.7h0M405.6 76.1h0M415.3 83.1h0M437.2 97.6h0M442.6 90.7h0M472.9 89.2h0M467.3 78.3h0M438.9 106.1h0M466.5 102.4h0M408.6 80.8h0M461 77.1h0M437.8 99.4h0M491.6 99.8h0M464.6 95.8h0M433.5 72.1h0M420.6 85.2h0M489.4 102.6h0M397.7 78h0M441.2 111.3h0M431.7 86.3h0M438.3 78h0M492.8 89.2h0M448.7 73h0M483 79.6h0M437.9 113h0M431.2 102.1h0M475.6 99.1h0M433.7 86.6h0M436.5 112.7h0M412.1 82.8h0M422.2 91.5h0M490 95.9h0M451 109h0M453.5 107.1h0M453 114.5h0M402.4 85.7h0M485.7 88.9h0M480.6 80.7h0M493 85.7h0M422.9 78.9h0M481.4 97.5h0M411.5 81.9h0M449 78.7h0M458.8 79.6h0M465.4 109.3h0M426.8 91.4h0M422.9 79.3h0M459.7 101.3h0M408.3 82h0M496.9 99.2h0M490.7 77.2h0M439.6 69.6h0M439.6 86.1h0M468.8 99.9h0M428.4 88.6h0M463.9 75h0M439.9 74.5h0M420.1 86.2h0M442.8 84.1h0M440.4 87.8h0M495.2 101.8h0M440.5 112.2h0M411.8 88.4h0M494.4 94.3h0M461.2 79.3h0M454.1 72.1h0M460.5 72.9h0M457.9 102.7h0M483.3 92.5h0M448.5 98.5h0M429.3 86.1h0M461.3 71.6h0M421.6 86.9h0M418.8 107.7h0M444.9 74.3h0M427.1 96.3h0M418.7 111.8h0M445.5 71h0M445.4 100.8h0M474.2 75.9h0M460.1 86.7h0M445.8 73.8h0M463.9 102h0M475.9 86h0M460.1 82.1h0M441.2 115.2h0M482.2 84.5h0M486.4 91.8h0M470.2 96.6h0M469.6 74.7h0M460.1 112.2h0M445 102.4h0M433.8 104h0M430.2 90.9h0M404.9 76.4h0M494.6 86h0M463.8 77.6h0M441.1 90.1h0M438.7 98h0M415.2 92.7h0M410 80h0M489.4 84.2h0M438 73.2h0M429.2 78h0M429.9 70.7h0M461.5 100.6h0M474.3 102.2h0M465.9 88.9h0M487.5 100.9h0M438.4 91.9h0M473.7 119.8h0M494 116.9h0M499.8 122.6h0M486.2 118.4h0M489.6 126.3h0M474.7 115h0M484.8 125.2h0M493.6 124.7h0M469.6 126.7h0M506.8 123.8h0M472.3 118.8h0M504.3 123.6h0M470.7 121.1h0M482.4 113.9h0M490.2 130.8h0M480.9 118.4h0M487 126.1h0M462.6 122.9h0M461 121.5h0M470.1 123.2h0M464.9 128.5h0M501.7 117.3h0M475.5 125h0M461.8 119.4h0M475 124.5h0M500.3 128.1h0M490.7 122.1h0M482.9 117h0M476.3 117h0M480.7 124h0M479.1 115.8h0M474.2 122.8h0M480.8 114.8h0M458.9 124.6h0M473.1 113.9h0M475.7 126h0M503 122.3h0M493.7 119.9h0M474 116.5h0M493.2 118.3h0M483.9 113.9h0M478.5 120.8h0M480.7 115.8h0M462.7 120.8h0M501.8 123.3h0M483.5 126.4h0M483.5 113.8h0M485.5 128.5h0M479.8 121.9h0M468.4 116.6h0M501.2 128h0M505.7 125.6h0M479 118.3h0M483.4 130.6h0M487.1 122.8h0M462.4 117.7h0M462.9 122.1h0M479.6 131.2h0M485.9 124.1h0M468.5 126.9h0M501.6 122.4h0M505.9 118.6h0M476 118.7h0M476.4 120.4h0M470.5 115.6h0M467.7 120.9h0M473.5 115.3h0M469.8 123.2h0M473.2 120.3h0M467.1 116.9h0M478 115.4h0M474.6 126.5h0M484.1 113.2h0M498.2 123.6h0M466 122.5h0M487.7 114.1h0M498.2 124.8h0M466.3 122.6h0M500.8 123.5h0M486.2 117.8h0"/>
<path stroke="#d34b52" d="M382.4 31.7h0M368.4 40h0M407.6 32.5h0M387.8 25.2h0M380.1 26h0M389.8 41.4h0M386.3 26.4h0M399.2 38h0M369.9 30.7h0M389.7 19.2h0M395.9 22.7h0M403.2 40.6h0M389.7 24.9h0M377.7 36.5h0M393.9 18.8h0M393.2 40.5h0M400.5 41h0M390 42.8h0M396.5 30.1h0M384.9 42.4h0M389.1 21.5h0M371.6 27.3h0M381.9 43.4h0M370.5 33.3h0M384.2 21.3h0M413.8 40.7h0M386.8 28.1h0M391 42.8h0M395.2 22.8h0M392.9 42.1h0M384.3 18.2h0M385.9 32.1h0M394.4 31.6h0M383.6 40.8h0M390.4 41.3h0M397.4 36.1h0M396.3 32.9h0M376.5 24.9h0M414.4 39.8h0M393.4 38h0M402.5 30.3h0M363.2 37.7h0M375.9 31.6h0M376.2 30.8h0M396.8 43.6h0M390.2 40.3h0M380.8 42.1h0M409 28.7h0M375.9 34.3h0M394.5 19.5h0M373 40.9h0M394.6 32.2h0M416.1 47.6h0M424.2 54.4h0M421 54.4h0M414.2 51.1h0M421.1 51.2h0M423.8 54.6h0M421.3 52h0M419.6 52.4h0M413.5 40.5h0M423.9 51h0M414.3 45.1h0M436.3 111.2h0M450 101h0M467.8 105.3h0M435 96.6h0M484.2 99.8h0"/>
<path stroke="#c084af" d="M400.6 31.2h0M440.1 64.2h0M433.2 61.9h0M434 59.3h0M430.7 61.6h0M433.5 63.2h0M428.8 56.8h0M473.5 90.3h0M454.7 77.1h0M426.1 80.3h0M437.8 101.6h0M464.1 108h0M460.7 112.3h0M419.5 106.3h0M471.5 80.1h0M409.8 71.3h0M407.8 74.2h0M441.3 73.8h0M464.8 102.9h0M469.8 96.8h0M469.5 102.5h0M461 94.4h0M417.9 88.5h0M445.3 102.6h0M404.3 90.8h0M451.5 102.5h0M465.3 84h0M407.8 102.6h0M467.8 78h0M468.9 75.8h0M468.1 89.2h0M488.3 93.2h0M496.4 95.9h0M452.2 107h0M416.7 75.7h0M425.6 87.9h0M440.7 103.2h0M427.8 81.4h0M405.3 89.7h0M487.1 96.6h0M445.8 91.8h0M477.9 94.7h0M424.5 95.4h0M415.5 82.7h0M472.9 90.4h0M419.7 88.2h0M453.9 97.8h0M438.5 103.6h0M424.5 91.3h0M473.6 72.4h0M476.5 106.9h0M480 78.6h0M443.7 114.8h0M437 109.2h0M487.7 95.3h0M465.9 105.6h0M492 92.7h0M412.7 73h0M478.9 104.6h0M443.4 110.4h0M424.9 95.9h0M408.8 79h0M437.9 76h0M407.7 80.9h0M405.2 103.3h0M465.9 81.7h0M411.8 99.7h0M442.8 114.7h0M487 97.5h0M458.5 97.2h0M411.5 109.3h0M425.8 77.5h0M468.5 71.1h0M438.5 77.6h0M416 107.3h0M462.8 108.9h0M445 75.6h0M487.3 81.8h0M482.8 78h0M457.7 70.5h0M488.8 84.5h0M452.8 107.2h0M441.3 87.5h0M489 93.3h0M444.2 102.7h0M477.4 88.3h0M465.1 93.7h0M401.2 103.5h0M471.8 97.9h0M404 85.2h0M455.1 80.6h0M480.1 82.2h0M454.7 86.4h0M418.9 96.7h0M482.1 76.1h0M491.6 91.6h0M487.6 90.1h0M463.6 101.5h0M436 108.6h0M407.5 109.6h0M464.5 79.2h0M433.6 73.1h0M404.7 78.6h0M436.8 111.5h0M413.6 82.8h0M452.7 106.1h0M423.7 94.7h0M447.3 85.2h0M447.8 86.6h0M458.4 73h0M452 91.3h0M402.1 80.2h0M436.8 74.1h0M425.3 107.6h0M468.4 93.9h0M446.3 99.4h0M451.7 101.9h0M473.8 90.3h0M419.5 82.3h0M479.6 84.7h0M431.3 102.4h0M470.8 110.5h0M454 80.6h0M473.5 78h0M450.7 107.2h0M440.5 89.2h0M447.1 113.8h0M434 86.4h0M445.7 77.2h0M427 83.1h0M447.2 105.5h0M467.6 87.3h0M475.2 96.7h0M408 86.3h0M492.4 90.7h0M453.1 96.5h0M463.5 108h0M460.5 96.7h0M451.6 108.8h0M450.3 87.7h0M415.4 77.6h0M440.5 105.7h0M420.5 88.7h0M449.9 79.7h0M467.4 99.1h0M445.2 70.2h0M493.3 86.5h0M454.8 77.5h0M476.7 77.9h0M478.8 101.9h0M413.7 88.3h0M404.9 88.2h0M435.4 76.4h0M477 87.5h0M444.1 83.2h0M437.4 71.1h0M476.3 99.3h0M437.6 74.3h0M474 90.8h0M436 112.4h0M495.7 88.6h0M431.3 70.4h0M430.2 75.4h0M430.9 109.9h0M465.8 83.4h0M442.6 88h0M466.5 104h0M434.7 73.2h0M466.6 95.9h0M436.5 112.9h0M451.5 98h0M418.4 90.8h0M461 76.1h0M411.1 76.3h0M415.2 84.8h0M451.9 90.6h0M440.3 89.6h0M445.4 96.3h0M454.4 108.8h0M444.6 89.4h0M424.3 95h0M426.4 99.8h0M456.7 101.9h0M429.4 97.5h0M411.9 106.8h0M473.8 98.5h0M471.8 109.5h0M480.7 97.8h0M472.9 92.2h0M420.8 100.3h0M440.8 91.3h0M468.4 79h0M453.9 71.2h0M461.7 86.1h0M451.4 98.1h0M445.6 99.2h0M491.8 97.5h0M448.4 108.1h0M415.5 83.5h0M445.7 88.2h0M485.4 78.1h0M440.9 85.3h0M438.5 80.6h0M425.5 78h0M481.1 96.1h0M424.6 85.5h0M476 72h0M439.9 107.8h0M466.9 86.1h0M424.3 73.7h0M466.5 101h0M485.5 86.3h0M449.6 89.8h0M482.1 82h0M415 108.1h0M432.2 105.2h0M406.4 73.8h0M466.2 101.7h0M403.5 75.1h0M432.5 108h0M475.1 81.1h0M439.8 110.2h0M434.7 73.3h0M417.4 80.4h0M498.1 93.6h0M427.9 110.2h0M457.9 81.6h0M462 69.8h0M469.3 87.4h0M443 97.4h0M462.8 93h0M432 82.2h0M428.3 77.2h0M463.1 82.5h0M433.9 80.7h0M432.7 112.2h0M440.3 115h0M447.4 111.3h0M431.4 83.7h0M440.1 110.2h0M452.8 86.9h0M402.2 91.3h0M419.1 103.2h0M488.6 99.4h0M434.5 104.8h0M424.5 75.2h0M474.3 97.3h0M441.3 81.5h0M492.3 100.2h0M444.4 99.5h0M482.1 78.3h0M408.8 83.5h0M399.7 88.4h0M422.3 95.2h0M452.2 95.5h0M493.4 96.1h0M458.7 81.1h0M488.3 102.8h0M468.2 74.3h0M488.6 95.4h0M472.1 97h0M466.7 95.1h0M431.2 71.6h0M497.3 81.7h0M418.6 110.3h0M455.2 70.2h0M414.8 89.4h0M449.4 71.4h0M470.1 103.7h0M419.3 87.3h0M425.1 88.7h0M444.8 103.4h0M459.3 82.9h0M404.7 105.1h0M455.7 101.8h0M474.7 100.7h0M416.1 93.2h0M445.7 109.6h0M424.8 101.4h0M438.5 106.6h0M468 89.1h0M456.8 82.3h0M445.3 80.1h0M428.2 89.3h0M484.4 99.4h0M433.5 88h0M447.4 111.9h0M439.4 93.7h0M438.3 108.4h0M425.8 98.5h0M467.9 97.2h0M465.1 111.3h0M463.8 81.5h0M423.9 94.4h0M495.7 85.8h0M419.6 107.1h0M459.9 93.2h0M469.8 95h0M494.4 97h0M448.3 112.7h0M426.8 97.3h0M424.1 90.2h0M478.8 117.3h0M483.2 122.2h0M469.9 128.4h0M464.4 122.6h0M466.7 115.4h0M490.9 120.4h0M494.3 126.3h0M484.4 117.9h0M493.8 125.7h0M464.9 126.8h0M475.8 114.4h0M460.8 117h0M485.4 121.3h0M465.8 121.4h0M490.1 124.8h0M480.6 116.4h0M480.6 127.7h0M474.6 121.6h0M486.4 116.5h0M480.8 116h0M492.3 132.6h0M464.8 121.6h0M478.8 116.6h0M469.5 116.5h0M501.6 119.8h0M465.5 117h0M480.4 122.7h0M495 124.6h0M504.2 127.6h0M499.7 120h0M503.2 120.5h0M485.7 130.9h0M482.3 129.8h0M491.9 122.8h0M485.9 119.4h0M493.6 115.4h0M471.1 128h0M488.2 129.6h0M460 121.8h0M468.8 120.3h0M483.9 115.6h0M465.7 131h0M483.2 130.8h0M469.2 117.9h0M473.1 121.2h0M468.3 124.2h0M485.4 117.7h0M472.3 120.9h0M499.4 128.2h0M484.9 126.4h0M498.4 128.7h0M501 127.3h0M461.9 118.9h0M502.5 126h0M469.4 124.5h0M484.2 124.7h0M509.1 118.1h0M461.2 120.5h0M477.1 126.7h0M469 127.9h0M463.3 121.7h0M472 123.4h0M459.2 124.6h0M489.3 123.4h0M481 124.5h0M498 118.6h0M472.3 128.7h0M479.6 121.4h0M484.4 116.8h0M464.2 120.7h0M491.6 129.6h0M470.8 116.6h0M483.1 129.7h0M487.2 124.5h0M472.5 124.3h0M485.4 119.9h0M465.6 124.8h0M485.4 128.1h0M467.8 122.3h0M453.5 130.5h0"/>
<path stroke="#d34b52" d="M414.5 36.5h0M399.6 31.3h0M392.9 31.3h0M386.3 21.1h0M412.1 37.9h0M365.8 34.6h0M376 42.1h0M371.3 35.3h0M392.6 35.9h0M381.8 21.1h0M380 28.1h0M404.4 24.6h0M375.9 34.5h0M384.7 31.9h0M399.5 32.8h0M406.3 36.1h0M384 21.3h0M392.9 26h0M404.9 28.9h0M382.7 39.8h0M414.8 28.6h0M387.5 20.2h0M402.9 26.7h0M386.2 44.9h0M371.2 30.7h0M371.7 34.3h0M382.1 21.7h0M383.3 26.6h0M387.1 23.5h0M383.7 38.2h0M404.1 38.7h0M411.2 37.5h0M394.4 37.7h0M382.2 44.8h0M392.5 45.6h0M388.4 44h0M381.9 19.9h0M383.3 33.3h0M379.8 33.9h0M370.7 31.9h0M394.4 37.3h0M408.9 38.1h0M393 44.8h0M378.5 31.6h0M397.9 38.4h0M393.7 30.2h0M373.7 22.6h0M373.5 31.6h0M376.5 22.6h0M389.4 41.7h0M413.4 42.1h0M417.6 52h0M421 50h0M422.5 50.8h0M412.6 45.8h0M422.9 50.8h0M420.4 55.1h0M411.2 43.2h0M474.5 101.8h0M477.4 82.5h0"/>
<path stroke="#c084af" d="M366.3 30.6h0M435.8 63.5h0M438.5 66h0M441.7 65.7h0M434.3 65.5h0M426.1 93.9h0M457.4 73.6h0M459 93h0M410.5 99.4h0M474.5 100.4h0M491.4 80.4h0M407.6 81.7h0M449.2 70.3h0M467.8 71h0M413.7 92.4h0M430.2 88.2h0M474.6 79.3h0M449.4 81.5h0M473.1 77.5h0M447.4 89.8h0M474.9 83.2h0M414.3 106.5h0M493.8 82.3h0M455.9 84.5h0M412.6 85.3h0M437.6 75.1h0M477.6 100.9h0M458.6 109.3h0M453.8 86.2h0M423.8 109.8h0M410.5 100.5h0M439.1 100.7h0M467.1 86.2h0M427.7 75.7h0M441.4 78.3h0M496 79.2h0M483.9 74.3h0M449.8 101.8h0M405.4 79.5h0M436 78.8h0M447.4 83.6h0M443.8 82.2h0M465.1 72.6h0M494.1 95.5h0M445.9 71.7h0M455.9 70.7h0M450.6 109.8h0M466.2 74.3h0M419.3 70.2h0M415.6 102h0M416.5 71.6h0M459.7 110.1h0M465.2 75.9h0M446.3 106.9h0M493.6 84.8h0M411.6 77.5h0M465.6 96.5h0M445.6 77.7h0M432.1 92.5h0M453.4 92.4h0M464.1 89.9h0M480.1 96.6h0M468.2 75.2h0M411.1 100h0M463.4 105h0M477.9 74.4h0M428.4 97.9h0M428.6 112.3h0M443.3 93.4h0M466.7 94h0M485.8 91.4h0M399.8 75.3h0M479.2 96.9h0M413.8 77.5h0M420 102.6h0M413.1 88h0M436.8 84.2h0M463.7 112.4h0M488.7 89.7h0M441.3 69.1h0M457.4 84.8h0M485.6 74.3h0M494.8 78.5h0M434.8 73.2h0M492.5 92h0M404.3 101.3h0M426.9 106.6h0M492.9 88.7h0M406 76.6h0M471.1 92h0M450.6 91.9h0M453.1 95.6h0M433.2 96.9h0M411.8 84h0M414.5 97.1h0M403 105.4h0M484.4 84.6h0M402.5 105.3h0M429.5 100.8h0M449.9 69.6h0M427.2 86.9h0M446.6 69.4h0M471.3 83.8h0M416 92.8h0M414.6 104h0M408.8 83.2h0M417.8 91.5h0M465.1 73.6h0M420.7 70.2h0M488 99.4h0M415.2 107h0M437 108.1h0M457.5 95.2h0M480.7 83h0M473.8 81.6h0M425.8 96.8h0M465.2 75.6h0M463.1 95.2h0M431.3 99.1h0M443.2 105.2h0M426.4 91.1h0M420 83.7h0M407.8 83.2h0M422.3 112.4h0M404 105.7h0M452.1 82.3h0M402.3 89.2h0M496.9 90.8h0M494.5 87.1h0M442.9 77.3h0M428.7 101.4h0M447.6 79.8h0M448.3 110.8h0M433.2 81.4h0M464.8 72.5h0M412.8 106.6h0M480.2 72.2h0M414.4 76.9h0M489.1 78.4h0M437.4 93.1h0M414.6 90.1h0M452.6 69.6h0M421.2 88.1h0M461.5 79.4h0M403 87h0M438.1 108.9h0M428.8 69.7h0M424 75h0M425.1 110.4h0M434.9 112.3h0M463.9 110.7h0M398.3 82h0M416.6 70.7h0M477.5 83.9h0M455.9 88.1h0M446.3 81.5h0M488.2 81.8h0M463.1 110.4h0M455.3 103.5h0M419.3 77.8h0M468.8 89.8h0M489.1 98.5h0M461.9 87.2h0M443.9 97.6h0M457.3 103.5h0M405.5 102.9h0M412.2 90.9h0M448.8 74.3h0M426.3 91.4h0M488.6 93.5h0M406.8 86.3h0M411.4 104.8h0M492.8 83.3h0M409.7 101.9h0M452 95.8h0M470.5 76.9h0M473.8 96h0M452 89.1h0M457.3 79.9h0M463.3 88.4h0M423 71h0M432.7 95.7h0M471.1 99.7h0M418.9 95.5h0M407.2 94.5h0M438 92.9h0M436.3 81.1h0M471.9 84.7h0M471.9 100.1h0M471.5 91.9h0M442 95.3h0M465 73.5h0M457.6 86.7h0M431.1 96h0M429.7 91h0M488.7 89.2h0M427.5 93.4h0M491.5 78.3h0M484.5 80.5h0M469.9 96.7h0M490.8 84h0M453.8 111.7h0M454.8 91.9h0M413.3 76.9h0M439.9 83.8h0M415.2 89.3h0M481.1 75.6h0M453.5 108.6h0M409.3 78.7h0M408.9 101.2h0M464.1 90.3h0M471 106.7h0M425.1 80.2h0M457.5 111h0M457.7 86.3h0M427.6 82.5h0M440 90.3h0M496 97.8h0M432.2 79.1h0M409.9 106.2h0M486 103.7h0M461.9 101.9h0M434 103.3h0M411.5 83.3h0M456.2 77.3h0M443.6 105.6h0M427.9 79.7h0M428.4 91.7h0M465.4 105.3h0M397.6 80.7h0M481.8 76.5h0M418.1 110.7h0M421.2 90.1h0M458.3 115.6h0M417.4 94.1h0M469.1 106.7h0M439.1 91.9h0M405.8 92.4h0M468.3 107.4h0M426.2 110.9h0M448.7 109.3h0M429.7 90.4h0M475.5 99.1h0M426.4 102.8h0M421.2 98.5h0M402.3 101.7h0M434 99.5h0M483.6 90.1h0M437.2 86.2h0M478.7 98.7h0M483.2 96.7h0M477.5 76.3h0M493.2 78.3h0M444.4 96.7h0M450.5 73.1h0M449.6 94.3h0M424.4 85.2h0M426.2 71.9h0M412.9 105.2h0M421.9 100.8h0M468.4 76h0M458.5 69.5h0M450.2 76.3h0M420.8 109.8h0M431.4 95.7h0M416 105.3h0M480.1 89.7h0M443.7 83.4h0M474.7 89.5h0M447.8 91.7h0M405 82.8h0M469.2 117.2h0M501.8 124.5h0M470.3 123.5h0M467.9 120.2h0M484.2 126.6h0M464 125.5h0M478.3 113.4h0M494.1 124.7h0M501.8 124.6h0M496.8 119.7h0M474 129h0M504 123.3h0M469.1 118.3h0M478.3 129.1h0M504.6 117.9h0M475.7 118.3h0M492.8 121.2h0M486.4 117.4h0M503.5 116h0M463.5 130.4h0M485.6 125.5h0M505.6 123.5h0M491.2 129.4h0M494.8 122.7h0M481.2 116.3h0M477.6 115h0M495.3 117.2h0M464.3 116.6h0M469.3 125.3h0M494.2 127.1h0M477.4 119.5h0M493.6 127.6h0M480.2 124.3h0M479.4 116.4h0M469.9 119.9h0M465.9 127.4h0M465 119.2h0M473.9 129.4h0M504.8 123.2h0M473.8 115.3h0M474.1 132.2h0M503.9 117.6h0M496.4 122.2h0M472.8 121.9h0M472.5 128.3h0M486.4 117.2h0M468.6 117h0M461.7 130.2h0M471.9 130h0M467.7 131.8h0M480 122.3h0M496 125.5h0M467.9 120.1h0M505.3 117.3h0M494.6 114.1h0M462 129.5h0M471.2 131.5h0M464.4 124.8h0M501.2 124.4h0M472 121.1h0M495.9 112.7h0M472.2 120.6h0M487.4 130.3h0M500.3 117.1h0M500 126.7h0M479.8 111.4h0M457.5 122.8h0M497.8 126.4h0M471.7 114.9h0M462.5 118h0M496.3 121.4h0M491 124.9h0M472.7 126.8h0M486.5 113.2h0M473.9 118.8h0M507.6 118.9h0M471.8 116.9h0M464.6 124.2h0M488 125.7h0M469.1 125.6h0M476 118.7h0M472.9 126.7h0M475.3 117.4h0"/>
<path stroke="#d34b52" d="M368.5 31.5h0M398.7 24.5h0M374.7 41h0M399 23.2h0M380.7 30.3h0M387.6 36.2h0M409.6 35.3h0M388 20.9h0M377.8 38.7h0M373.9 26.3h0M375.9 27.1h0M366.7 33.3h0M370.6 27.9h0M395.8 34.6h0M381.9 39.4h0M392.4 16.8h0M370.7 40.5h0M412.3 39.4h0M402.6 33.3h0M382.5 19.4h0M369.3 28.8h0M371.9 38.1h0M384.3 38.3h0M391.1 19h0M403.1 28.2h0M366.2 36.3h0M400.2 28.6h0M372.8 24.7h0M394.4 32.5h0M388.7 32.4h0M383.9 28.2h0M384.9 40.3h0M383.4 27.1h0M393.6 35.9h0M385.4 38h0M375.7 39.1h0M379.4 33.9h0M379.3 28.4h0M406.3 35.4h0M385.7 20.4h0M383.7 26.5h0M409.9 28.5h0M369.8 41h0M380.2 36.2h0M387.4 30.3h0M410.3 34.2h0M376.7 40.8h0M403.3 41.3h0M374.5 26.4h0M381.9 27h0M410.9 35.7h0M386.5 42.5h0M379.8 34.8h0M400.5 26.1h0M388.6 30.9h0M392.9 21.2h0M365.2 39.1h0M386 27h0M375.6 36.8h0M372.7 33.4h0M393.9 46.1h0M369.5 35.5h0M424 52.4h0M415.7 48.1h0M420 51.1h0M423.3 55.7h0M417.4 50.8h0M411.4 43.3h0M413.5 44.7h0M412.8 44.4h0M431.3 59.7h0M421 98.6h0M412.1 93.1h0M485.7 97.4h0"/>
<path stroke="#48186c" d="M557.7 44.9h0M658.6 73.1h0M638.9 86.7h0M614.4 87.5h0M580 76h0M665.1 84.8h0M583.1 77.5h0M624.6 96.5h0M621.8 87.7h0M616.6 105h0M607.5 112.4h0M600.3 69.7h0M617.7 99.5h0M606.7 97.5h0M592.3 100.3h0M660.6 98.5h0M648.9 82.5h0M607 75h0M596.2 93h0M603.7 105.2h0M589 92.6h0M611.6 110.2h0M605.2 86.6h0M664.5 92.6h0M609.9 91.9h0M637.3 121.4h0M649.3 117.2h0M633.3 119.4h0M634.8 121.7h0"/>
<path stroke="#306c90" d="M559.1 36.2h0M644.6 77.5h0M587.5 92.8h0M624.7 79.3h0M599.8 77.2h0M603.7 113.3h0M596.6 80.2h0M668.3 119.7h0M675 116h0M661.3 127.8h0"/>
<path stroke="#3c4884" d="M544.3 24.7h0M570.8 80.1h0M658.8 81.8h0M572.7 103.5h0M616.5 93.4h0M611.3 110.2h0M609.4 113h0M613.8 99.2h0M637.1 78.2h0M597.9 102.8h0M576.5 82.8h0M662.4 120.4h0M643.6 115.9h0"/>
<path stroke="#482478" d="M564.4 31.3h0M558.6 23.5h0M567.8 32.9h0M564.4 21.2h0M565.2 30.2h0M603.7 90.2h0M591.1 85.2h0M632.5 94.4h0M609.5 69.7h0M625.3 86.2h0M603.6 78.9h0M643.3 97.9h0M617.8 106.9h0M579 83.3h0M647.4 100.2h0M599.5 82.9h0M638.2 94h0M624.2 106.1h0M608.3 74.1h0M642.3 110.5h0M666.5 95.7h0M655.7 99.8h0M592 88.7h0M597.9 91.1h0M607.6 75.4h0M664 98.4h0M633 79.4h0M636.9 93.7h0M631.1 96.4h0M632.5 76.1h0M634.6 110.4h0M575.8 89h0M622.5 86.6h0M653.6 82h0M610.4 106.1h0M566.6 82.9h0M641.8 81.9h0M611.5 90.3h0M598.3 91.4h0M593.1 72.4h0M579.8 82h0M629.8 115.6h0M620.9 71.4h0M612.9 102.1h0M647 99.1h0M587.6 93.2h0M648.8 121.7h0M638 115.5h0M648.4 123.1h0M632.5 121.5h0M673.2 117.3h0M666.8 117.2h0M651.9 122.7h0M646.6 131.3h0M676.3 123.2h0M642.6 128h0M644.3 121.9h0M651.1 131.2h0M665.4 118h0M644.7 120.3h0M655.6 113.2h0M659.2 114.1h0"/>
<path stroke="#248490" d="M555.8 18.2h0M569.4 38.4h0M595.3 54.6h0M602.8 59.7h0M605 63.2h0M607.8 110.2h0M652.9 103.5h0M635.6 89.9h0M622.1 91.9h0M601.3 102h0M638.4 86.1h0M664.3 83.3h0M623.9 79.6h0M660.9 102.6h0M625.3 111.7h0M639.7 74.3h0M652.4 118.4h0M675.4 117.6h0M642 115.6h0M653.1 119.3h0"/>
<path stroke="#249090" d="M538.2 33.3h0M555.1 40.8h0M571.1 40.6h0M592.5 50h0M585.8 45.1h0M597.1 87.9h0M665.6 95.5h0M615.6 83.2h0M582.1 76.5h0M660.1 93.5h0M631.5 80.3h0M604.2 112.2h0M636.5 119.2h0M676.8 117.3h0"/>
<path stroke="#306090" d="M610.2 82.1h0M617.2 88.2h0M578.3 86.3h0M635.4 102h0M667.8 121.4h0M627 128h0"/>
<path stroke="#483078" d="M551.6 26h0M572 41h0M564.5 44.8h0M539.5 30.9h0M568.3 24.8h0M607.3 63.5h0M576.4 85h0M639.5 104.4h0M646 101.8h0M602 82.7h0M610 103.6h0M596.2 98h0M612.9 78.3h0M650.4 104.6h0M654 88.5h0M617.1 77.7h0M569.5 83.1h0M599.9 97.9h0M651.9 74.9h0M617.5 87.6h0M596.8 107.6h0M608.5 81h0M578.8 76.9h0M625.5 80.6h0M580.3 83.2h0M654.1 80.5h0M643.8 105.2h0M616.4 107.9h0M590.5 83.7h0M604.1 88.1h0M645.5 90.8h0M607.1 88.4h0M643.9 106.7h0M577.2 102.6h0M606.4 112.3h0M661.5 102.1h0M582.6 76.3h0M640.3 89.8h0M594.9 97.1h0M610.6 71.5h0M621.1 89.8h0M604.2 95.7h0M609.5 92.9h0M659.2 94.2h0M609.8 78h0M647.1 99.1h0M606 104.8h0M598.2 85.9h0M611.1 108.7h0M571.2 88.4h0M647 71.4h0M590.1 110.3h0M657.2 97.4h0M652.6 87.6h0M597.7 110.9h0M598.1 106.8h0M622 73.1h0M656.3 125.6h0M669.8 117.5h0M677.5 124.7h0M634.1 122.9h0M652.7 127.8h0M649.8 129.1h0M652.1 127.7h0M657.1 125.5h0M673.1 119.8h0M630.4 124.6h0M651.7 124.3h0M650.9 116.4h0M655.4 113.9h0M655 126.4h0M640.3 120.3h0M637.2 131h0M635.6 121.6h0M638.6 116.9h0M662.5 124.9h0M643.3 116.9h0"/>
<path stroke="#30b478" d="M542 33.3h0"/>
<path stroke="#3cb478" d="M549.3 38.7h0"/>
<path stroke="#30a884" d="M547.5 42.1h0"/>
<path stroke="#48246c" d="M584.4 39.6h0M582 99.4h0M626.5 76.5h0M595.2 94.7h0M605.2 113.8h0M663.7 99.5h0M618.7 105.5h0M632 96.7h0M668.4 90.8h0M589.9 90.8h0M633.4 87.2h0M577.9 73.8h0M573.8 101.7h0M660.1 81.1h0M631.4 93.2h0M673.3 124.6h0M676.1 117.9h0M647 125h0M655.9 116.8h0M647.5 118.7h0"/>
<path stroke="#483084" d="M623.7 107h0M590.8 70.2h0M603.4 105.6h0M606.6 75.5h0M609.4 90h0M618.8 85.2h0M650.5 101.7h0M660.8 88.3h0M620.3 74.3h0M602.9 83.7h0M626.3 91.9h0M612 112.2h0M632 72.9h0M590.2 111.8h0M626.2 94.4h0M602.7 112.3h0M593.4 100.8h0M630 69.5h0M619.3 91.7h0M665.1 115.4h0"/>
<path stroke="#247890" d="M660.2 89.7h0M569.8 82h0M646.2 89.5h0M675.1 126.9h0M644 124.3h0"/>
<path stroke="#3c5490" d="M606.6 67.1h0M605.5 59.3h0M612.2 64.4h0M580.4 77.7h0M585.1 82.8h0M639.7 99.8h0M591.5 102.6h0M616.8 107.4h0M648.5 87.5h0M625.9 108.8h0M583.4 103h0M590.6 103.2h0M632.7 79.3h0M661.7 130.8h0M678 116.6h0M672.5 127.3h0M633.4 118.9h0"/>
<path stroke="#307890" d="M577.8 36.1h0M664.8 80.6h0M654.5 102h0M654.6 129.7h0"/>
<path stroke="#3c3c84" d="M580.5 28.7h0M658.6 96.6h0M587.1 102h0M635.2 112.4h0M606.3 73.2h0M617.8 81.5h0M586.8 83.1h0M605 72.1h0M592.1 85.2h0M608 112.7h0M657.2 88.9h0M665.9 78.7h0M577.3 92.4h0M654.7 122.2h0M666.3 122.7h0M671.2 120h0M648.9 119.5h0M655.4 115.6h0M637.5 122.5h0"/>
<path stroke="#3c6090" d="M584.9 42.1h0M581.4 106.2h0"/>
<path stroke="#483c84" d="M557.8 21.1h0M561.2 24.9h0M556.2 31.9h0M556.9 38h0M558.9 30.3h0M569.3 23.7h0M582.4 35.7h0M584.1 45.8h0M665.2 94h0M657.7 91.4h0M579.3 74.2h0M596.8 111.9h0M584.1 85.3h0M619.3 86h0M582 100.5h0M606.6 75.8h0M630.5 106.8h0M622.1 109.8h0M639.7 75.2h0M635.9 82.4h0M666.3 78.5h0M619 114.7h0M586 97.1h0M569.8 80.4h0M599.7 95.7h0M608.5 108.1h0M637.3 83.4h0M617.6 73.4h0M635.9 86h0M635.4 110.7h0M627.8 92.8h0M628.8 103.5h0M598 90h0M614.1 90.7h0M575 75.1h0M607.5 98.1h0M633.5 69.8h0M601.2 91h0M659 81.4h0M661.5 95.9h0M652.6 75.6h0M611.1 69.6h0M599.9 91.7h0M600.8 86.1h0M645.3 93.8h0M655.1 90.1h0M598.6 96.3h0M619.2 106.9h0M617 71h0M580.6 71.8h0M649 76.3h0M616.1 76.9h0M591.1 100.4h0M667.2 85.8h0M660.9 84.2h0M623.5 81.3h0M571.5 80.4h0M671.3 122.6h0M639.4 123.1h0M662.2 122.1h0M647.8 117h0M649.6 126.1h0M650.6 115.8h0M664.7 118.3h0M657 128.5h0M654.9 130.6h0M635.3 118.7h0M671.8 117.1h0M674 126h0M634 118h0M645.4 118.8h0M646.8 117.4h0"/>
<path stroke="#24a884" d="M553.4 34.6h0M574.1 33.3h0M553.4 43.4h0M555.2 38.2h0M545 31.6h0M592.6 51.2h0M594.8 55.7h0M585.7 46.1h0M600.8 59.3h0"/>
<path stroke="#249c84" d="M540 31.5h0M549.4 40.4h0M552.5 39.6h0M553 35.4h0M547.2 39.1h0M550.9 33.9h0M553.3 42.5h0M554.8 33.3h0M547.4 34.3h0M590.7 46.3h0M603.6 61.8h0M595.6 55.4h0"/>
<path stroke="#249090" d="M559.4 37.8h0M561.9 41.3h0M560.9 41.7h0M595.7 54.4h0M631.4 79.5h0M615.3 82.2h0M586.9 72.5h0M638 104h0M638.2 95.1h0M649.1 125.8h0"/>
<path stroke="#306090" d="M575.9 24.6h0M626.9 99.4h0M620.7 70.3h0M610.5 73.9h0M667.3 85.4h0M651.6 96.6h0M621.3 99h0M571.6 81.8h0M609.3 99.4h0M593.8 95.2h0M639.5 77.4h0M590.8 87.3h0M635.5 125.5h0M642 123.2h0"/>
<path stroke="#483078" d="M581.1 35.3h0M542.7 30.7h0M565.9 32.5h0M553.6 21.7h0M559.9 44h0M572 26.1h0M609.5 60.1h0M635.6 108h0M662.9 80.4h0M646.1 79.3h0M646.4 83.2h0M589.1 100.7h0M579.3 102.6h0M639.3 78h0M600.4 101h0M607.8 111.2h0M596.3 111.1h0M630.1 109.3h0M638.6 86.2h0M639.3 105.3h0M626.9 112.6h0M617.4 71.7h0M627.4 70.7h0M619.3 107.2h0M650.7 96.9h0M623.2 101.9h0M592.6 84.9h0M635.8 98.7h0M661.6 74.8h0M627.1 95h0M603.5 106h0M630.7 79.7h0M610 97.6h0M651.7 79.8h0M585.9 76.9h0M592.7 88.1h0M646.3 103.1h0M595.5 75h0M586.7 84.8h0M646.4 80.6h0M616.1 89.4h0M619.9 108.1h0M587 83.5h0M625.6 89.7h0M656.9 78.1h0M597.8 91.4h0M652.6 96.1h0M595.8 73.7h0M581.2 101.9h0M594.5 71h0M642.6 99.7h0M669.6 93.6h0M619 71.4h0M641.4 96.7h0M580.3 83.5h0M627.7 77.3h0M611.1 86.1h0M636.9 105.3h0M653.3 76.5h0M614.3 84.1h0M596.6 88.7h0M630.8 82.9h0M639.5 89.1h0M655.9 99.4h0M591.1 107.1h0M645.8 102.2h0M615.2 83.4h0M661.1 126.3h0M678.3 123.8h0M643.8 118.8h0M645.5 129h0M657.9 116.5h0M660.2 132.1h0M674.7 120.5h0M657.4 119.4h0M631.5 121.8h0M643.4 130h0M656.9 117.7h0M640.9 124.5h0M641.3 123.2h0M673.4 128.2h0M652.8 120.5h0M658.7 124.5h0M637.1 124.8h0M644.4 126.7h0"/>
<path stroke="#482478" d="M583.6 37.9h0M574.7 40.6h0M563.9 16.8h0M560.6 21.5h0M577.8 35.4h0M557.2 20.4h0M585.9 39.8h0M574 30.3h0M547.7 30.8h0M580.7 97.2h0M652.8 90.1h0M610.6 100.7h0M658.5 97.5h0M621.9 78.4h0M626 101.1h0M593.3 70.7h0M603.6 92.5h0M624.9 92.4h0M575.2 89.2h0M649.4 74.4h0M600.1 112.3h0M645.8 100h0M634.8 69.7h0M591 82.3h0M577.5 76.6h0M593.1 91.8h0M636.6 73.6h0M659 81.6h0M663.3 95h0M636.7 75.6h0M626 82.3h0M600.2 101.4h0M607 81.3h0M651.7 72.2h0M586.1 90.1h0M638.1 95.9h0M588.1 70.7h0M576.4 101.2h0M633.2 86.1h0M610 80.6h0M608.8 112.4h0M637.7 101.7h0M590.4 95.5h0M640.8 87.4h0M629.1 86.7h0M577 94.4h0M654.5 79.6h0M589.4 103h0M635.6 90.3h0M615.1 105.6h0M621.2 110.6h0M616.3 103.4h0M612.7 115.2h0M616.8 112.5h0M612.6 90.1h0M665.1 79.4h0M638 94.1h0M665.3 125.7h0M658.5 126.1h0M661.6 124.8h0M647.2 118.3h0M657.9 117.4h0M646.5 124.5h0M652.7 116.3h0M669.1 122.6h0M645.6 132.2h0M642.7 131.5h0M658.9 130.3h0M647.5 118.7h0M629 122.8h0M652.5 124.5h0M672.3 123.5h0"/>
<path stroke="#48246c" d="M564.1 35.9h0M543.1 27.3h0M562.6 19h0M560.2 32.4h0M553.4 19.9h0M553.4 27h0M579.9 77.4h0M576.8 89.7h0M591.7 86h0M653.6 76.1h0M657.3 91.4h0M624.6 95.6h0M638.8 89.6h0M626.8 103.5h0M599.6 75.7h0M665.2 99.8h0M599.4 79.7h0M609.7 88.3h0M586.3 89.4h0M640.3 119.4h0M665.2 119.9h0M673.1 122.4h0M647.9 120.4h0M651.4 126.1h0M669.3 126.4h0"/>
<path stroke="#30b478" d="M543.4 38.1h0M534.7 37.7h0M551.3 33.9h0"/>
<path stroke="#3c4884" d="M569.3 21.2h0M551.5 28.1h0M610 66h0M640.4 75.8h0M620.6 75.4h0M637.8 80.2h0M579.2 80.9h0M604.7 96.9h0M662.3 99.1h0M599 93.4h0M622.5 109h0M594.4 78.9h0M592.7 98.5h0M581.5 80h0M647.9 98.9h0M662.4 128.4h0M636.4 128.5h0M639.9 116.6h0"/>
<path stroke="#247890" d="M559.3 25.2h0M590.4 96.7h0M572.4 88.5h0M621.4 69.6h0M644.1 97.6h0M580.1 93.6h0M652.1 80.7h0"/>
<path stroke="#30b484" d="M551.6 35.7h0M551.6 31.9h0"/>
<path stroke="#483084" d="M537.8 30.6h0M597.6 93.9h0M591 106.3h0M643.3 92h0M636.8 84h0M599.2 75.7h0M587.6 88.6h0M606.4 95h0M609.1 74.3h0M643.8 99.8h0M637 117h0M666.5 124.6h0M634.2 120.8h0"/>
<path stroke="#483c84" d="M557.8 26.4h0M555.7 21.3h0M554.9 27.1h0M550.8 28.4h0M555.2 26.5h0M568.3 43.6h0M545.2 22.6h0M570 26.7h0M579.8 47.4h0M610.8 65.8h0M605.8 65.5h0M645 90.3h0M640.6 89.3h0M609.3 101.6h0M632.3 105.7h0M627.4 84.5h0M575.4 75.8h0M659.2 78h0M649.1 100.9h0M617.3 91.8h0M601.1 75.7h0M624.2 112.1h0M608.5 109.2h0M655.4 74.3h0M614.9 110.4h0M575.3 100.2h0M665.5 94.5h0M591.9 110.2h0M576.7 85.5h0M582.6 100h0M581.5 106.5h0M655.9 84.6h0M576.6 90.9h0M582.5 108.4h0M652.2 83h0M634.6 95.2h0M619.1 79.8h0M613.8 90.4h0M648.4 93.3h0M620.2 91.1h0M602.8 70.4h0M659.3 93.7h0M618.8 74.4h0M635.5 81.6h0M630.4 114h0M628.1 88.7h0M600.9 97.5h0M595.3 76.5h0M612.3 91.3h0M584.2 76.1h0M583.7 90.9h0M642 76.9h0M580.1 80.8h0M639.4 108.7h0M588.9 80.4h0M643 91.9h0M614.5 97.4h0M620.9 107.4h0M656 80.5h0M583 83.3h0M668.4 99.2h0M666.7 101.8h0M625.6 72.1h0M598.8 88.7h0M641.6 103.7h0M628.9 99.6h0M594.5 83h0M576.4 97.1h0M641.7 96.6h0M641.1 74.7h0M621.7 76.3h0M640.7 117.2h0M665.5 116.9h0M646.2 115h0M675.8 123.6h0M652.3 114.8h0M653.8 129.8h0M663.4 122.8h0M677.4 118.6h0M680.6 118.1h0M645 132.5h0M669.5 118.6h0M663.1 129.6h0M669.7 124.8h0"/>
<path stroke="#3c3c84" d="M567.4 22.7h0M564.4 26h0M646.3 105.3h0M605 107.1h0M619.8 110.8h0M608.9 71.1h0M610.7 109.9h0M645.3 98.5h0M577 102.9h0M599.4 110.2h0M613.5 95.3h0M596 75.2h0M611.9 87.8h0M616.8 80.1h0M587.5 105.3h0M665.8 126.3h0M675.7 127.6h0M640.1 117h0M668.1 124.2h0M660.6 126.1h0"/>
<path stroke="#249c84" d="M561.5 42.8h0M565.1 35.9h0M551.7 36.2h0M558 42.5h0M565.4 46.1h0M575.3 37.3h0M587.6 47.6h0M585 40.5h0"/>
<path stroke="#3c5490" d="M623.9 89.2h0M630 70.8h0M620.5 74.3h0M637.6 97.2h0M624.1 69.6h0M605.4 80.7h0M650.2 98.7h0M639.2 131.8h0M633.5 129.5h0"/>
<path stroke="#248490" d="M561.3 41.4h0M583.8 39.4h0M595.5 52.4h0M594 50.8h0M594.4 50.8h0M595.4 51h0M633.1 73.4h0M624.7 89.3h0M658.9 73.3h0M595.9 85.2h0M652.6 122.6h0"/>
<path stroke="#3c6090" d="M597.5 91.4h0M663.3 97.5h0M655.7 130.2h0"/>
<path stroke="#48186c" d="M626.2 77.1h0M616.8 102.6h0M651.3 84.3h0M613.9 77.1h0M596 95.4h0M602.3 73.9h0M584.6 88h0M602.4 97h0M651.1 84.7h0M583.3 84h0M666.8 82.1h0M664.8 86.5h0M602.5 92h0M631.3 97.6h0M623.7 95.5h0M605.5 103.3h0M591.6 86.2h0M578.7 87.4h0M605.5 99.5h0M646.2 100.7h0M665.5 121.4h0M673.3 123.3h0M653.2 122.3h0M640.7 117.9h0M666.1 114.1h0M651.3 111.4h0M645 115.3h0M679.1 118.9h0"/>
<path stroke="#307890" d="M568 30.1h0M587.9 35.2h0M611.6 64.2h0M602.8 99.1h0M631.7 78h0M583.6 74.1h0M603.2 86.3h0M593.7 91.5h0M592.7 90.1h0M679.7 118.2h0M669.9 128.7h0"/>
<path stroke="#24a884" d="M553.9 31.7h0"/>
<path stroke="#306c90" d="M586 36.5h0M557.4 32.1h0M620.9 81.5h0M613.6 73.2h0M629 95.2h0M677.1 123.5h0M654.7 130.8h0M655.7 124.7h0"/>
<path stroke="#247890" d="M557.6 35h0M602.2 61.6h0M663.1 91.6h0M583.6 93.1h0M641.1 126.7h0"/>
<path stroke="#48186c" d="M590.1 83.5h0M639.6 89.2h0M588.2 75.7h0M645.3 72.3h0M641.7 102.3h0M647 83h0M626.2 86.4h0M608.3 84.2h0M619.3 86.6h0M666 85.5h0M666.8 82.7h0M618.6 113.8h0M574.5 105.4h0M579.5 86.3h0M612 105.7h0M603.2 97.4h0M621.6 75.4h0M597.7 111.8h0M595.4 94.3h0M582.2 108.8h0M577.1 76.1h0M593.2 112.4h0M615.5 80h0M580.8 78.7h0M649.7 91.7h0M610.9 93.7h0M631.6 112.2h0M584.4 105.2h0M641.8 123.5h0M655.9 117.9h0M641.3 114.6h0M640.8 125.3h0M633.2 130.2h0M660.8 123.4h0M646.1 126.5h0"/>
<path stroke="#483c84" d="M574.9 32.3h0M541.4 30.7h0M582.7 37.5h0M581.8 34.2h0M566.1 32.2h0M630.5 93h0M602.2 80.6h0M599.3 81.4h0M601.9 93.5h0M644.4 90.4h0M596 91.3h0M580.3 79h0M659.5 95.2h0M627.9 107.4h0M637.4 81.7h0M567.4 83.9h0M629.2 70.5h0M575.5 85.2h0M651.6 82.2h0M579 109.6h0M591.7 72.7h0M605.4 95.2h0M644.8 92h0M657.1 75.6h0M588.9 75.3h0M585.8 96.6h0M628.9 84.8h0M617.8 99.4h0M664 92h0M575.8 101.3h0M612 89.2h0M639.1 87.3h0M629.6 111h0M586.7 107h0M605.2 98.9h0M587.1 107.6h0M638.9 99.1h0M607.5 111.2h0M593.8 112.4h0M643.6 83.3h0M602.4 109.9h0M589 98.4h0M611.6 104.3h0M627.4 88.1h0M616.9 96.3h0M659.7 81.8h0M578.7 76.9h0M639.9 79h0M609.6 72.5h0M649.4 107.1h0M663.1 99.8h0M636.1 95.8h0M604 108h0M643.4 84.7h0M603.5 82.2h0M636.5 73.5h0M620.2 73h0M612.8 81.5h0M624.5 114.5h0M664.5 85.7h0M602.7 71.6h0M569.1 80.7h0M665.9 94.3h0M635.6 83.3h0M576.2 105.1h0M631.6 86.7h0M631.6 82.1h0M618.9 111.9h0M609.5 73.2h0M641.3 95h0M656.3 81.2h0M639.4 120.2h0M665.1 124.7h0M671.4 125.1h0M650.3 116.6h0M639.4 127.6h0M645.7 122.8h0M665.7 127.1h0M644 128.3h0M640 126.9h0M643.2 114.9h0M640.5 127.9h0M644.2 126.8h0M644.9 121.6h0M669.7 123.6h0M656.9 119.9h0"/>
<path stroke="#48246c" d="M557.5 27h0M578.4 105.3h0M609.9 104.2h0M632.9 70.7h0M635.1 101.5h0M636 79.2h0M574 105.3h0M618.1 69.4h0M573.8 89.2h0M607.1 90.8h0M593.3 72.5h0M647.5 72h0M569.2 78h0M587.8 112.3h0M602.6 96h0M611.8 115h0M573.7 91.3h0M649.9 80.1h0M586 94.3h0M635.3 77.6h0M653.9 113.9h0M657.2 130.9h0M659.7 129.6h0"/>
<path stroke="#24a884" d="M540.4 34.9h0M550.6 40.9h0M548.7 36.5h0M568.9 36.1h0M542.2 31.9h0"/>
<path stroke="#30b478" d="M548.2 40.8h0M541 35.5h0"/>
<path stroke="#307890" d="M541.4 30.2h0M667.2 88.6h0M652.2 97.8h0"/>
<path stroke="#483078" d="M570.5 23.2h0M577.3 29.6h0M562.4 42.7h0M574.6 28.2h0M564.4 42.1h0M581.4 28.5h0M548 24.9h0M568.5 30h0M582.9 43.3h0M646.6 72.4h0M641 102.5h0M615.1 78.5h0M595.9 109.8h0M653.9 101.7h0M664.4 99.2h0M663.2 97.5h0M611.7 113.7h0M576.7 103.3h0M648.4 98.7h0M640 71.1h0M631.6 110.2h0M585.7 90.7h0M616.2 68.6h0M631.2 110.1h0M606.5 96.6h0M595.3 74.9h0M605.1 73.1h0M594.7 91.3h0M596.5 68.2h0M611.8 76h0M645.3 90.3h0M629.9 98.8h0M633.4 96.3h0M632.8 108.1h0M598.7 86.9h0M642.8 83.8h0M605.3 76.4h0M633.5 111.3h0M592.2 70.2h0M616.7 70.2h0M614.7 105.2h0M609.9 93.5h0M575.5 105.7h0M576.4 88.2h0M654.4 95.1h0M638.7 105.1h0M622.7 81.4h0M609.6 108.9h0M608 112.9h0M644.4 92.2h0M606.6 94.9h0M611.7 79.9h0M602 78.3h0M645.3 96h0M628.8 79.9h0M580.4 101.2h0M629 111h0M599.1 82.5h0M630.3 79.6h0M599.9 88.6h0M646.9 97.2h0M635.4 75h0M589.6 110.7h0M606.9 72.6h0M639.8 107.4h0M617.2 109.6h0M616.9 100.8h0M605 88h0M615.9 96.7h0M647.4 86h0M600.7 78h0M633 100.6h0M665.9 97h0M605.8 81.6h0M598.3 97.3h0M657.7 118.4h0M638.2 115.4h0M649.8 113.4h0M656.5 125.4h0M652.3 116h0M635.8 116.6h0M658.7 115.1h0M655 113.8h0M640.7 119.2h0M667.9 122.2h0M677.2 125.6h0M633.9 117.7h0M651.5 122.3h0M634.4 122.1h0M635.9 124.8h0M671.5 126.7h0M632.7 120.5h0M643.5 123.4h0M669.4 125.4h0M651.1 121.4h0M635.7 120.7h0M658 113.2h0M662.1 114.1h0M640.6 125.6h0"/>
<path stroke="#3c5490" d="M667.9 95.9h0M575 89.8h0M598.4 106.6h0M657.6 74h0M591.3 100.4h0M620.5 100.7h0M608.7 97.6h0M617.3 73.8h0M596.2 75.7h0M645.3 115.3h0M643.9 115h0"/>
<path stroke="#248490" d="M545.4 26.3h0M585.7 51.1h0M587.1 45.7h0M598.2 58.5h0M603.9 59.9h0M604.6 61.3h0M612.8 73.8h0M659.8 93.2h0M648.4 76h0M655.6 84.1h0M613.8 99.6h0M645.8 97.3h0M664.9 96.1h0M640.6 106.7h0M663.8 132.6h0M636.3 121.6h0"/>
<path stroke="#3c4884" d="M612.1 68h0M605.9 82.9h0M636.4 111.4h0M607.5 78.8h0M625 108.6h0M617.4 90.8h0M662.2 77.2h0M588.9 94.1h0M616.4 74.3h0M654.7 96.7h0M657.9 91.8h0M632.3 117h0M639.3 122.3h0"/>
<path stroke="#3c6090" d="M595.9 110.9h0"/>
<path stroke="#306090" d="M648.1 80h0M634.9 81.2h0M606.9 76.4h0M601.7 75.4h0M640.4 94.5h0M663 78.3h0M583.3 88.4h0M601.7 90.9h0M655.7 126.6h0M635 130.4h0M639.2 120.9h0"/>
<path stroke="#249c84" d="M546.2 41h0M537.3 34.6h0M542.8 35.3h0M544.5 40.9h0M547.1 36.8h0M592.8 52h0M591.9 55.1h0M596.8 57.1h0M601.2 56.8h0"/>
<path stroke="#306c90" d="M575.6 38.7h0M565.9 31.6h0M583.3 99.7h0M645 78h0M660.6 78.4h0M645.7 75.6h0M583.6 109.2h0M623.5 89.1h0M660.1 99.4h0M592.3 109.8h0"/>
<path stroke="#482478" d="M552.2 30.3h0M578.1 36.3h0M576.4 28.9h0M571.7 28.6h0M571.9 27.3h0M583.7 40.1h0M546 26.4h0M565.9 37.3h0M581.3 71.3h0M613.7 98.8h0M648 106.9h0M649.9 91.6h0M621.3 101.8h0M613.5 112.9h0M626.3 79.5h0M626.1 98.4h0M615.7 102.7h0M637.1 96.5h0M622.2 107.2h0M617.2 77.2h0M633 77h0M586.1 104h0M623.1 108.8h0M608.8 72.5h0M664.7 95.8h0M626.3 77.5h0M579.3 83.2h0M584.3 106.6h0M658.6 77.9h0M631.1 75.5h0M606.2 104.4h0M583.4 106.8h0M625.4 71.2h0M612.4 85.3h0M651.3 99.9h0M634.8 88.4h0M622 93.8h0M615.9 99.5h0M653.6 78.3h0M652.9 97.5h0M603.7 79.1h0M633.4 101.9h0M640.3 99.9h0M611.4 74.5h0M629.4 102.7h0M604 72.4h0M610.2 98h0M646.1 103.7h0M586 104.9h0M673.3 124.5h0M665.6 124.7h0M663.1 120.3h0M644.6 113.9h0M637.4 127.4h0M635.8 130.8h0M672.7 128h0M650.5 118.3h0M644.6 121.2h0M672.7 124.4h0M621 131.4h0"/>
<path stroke="#249c90" d="M591.1 52.4h0"/>
<path stroke="#249090" d="M549.2 36.5h0M554.2 39.8h0M544 32.5h0M564.9 38h0M591.5 52h0M588.9 50.8h0M625.5 115.4h0M655.3 92.1h0M624.1 82.2h0M602.7 102.1h0M575.9 106.1h0M639.9 76h0"/>
<path stroke="#483084" d="M547.4 27.1h0M574.4 26.7h0M604.7 106.6h0M601.6 97.6h0M616.5 75.6h0M626.6 80.6h0M623.5 91.3h0M591.8 98.3h0M589.3 91.5h0M597.3 96.8h0M593.2 96.1h0M596.3 99h0M601.4 70.7h0M640.6 118.3h0M642.3 116.6h0M637.8 122.6h0"/>
<path stroke="#3c3c84" d="M565.4 18.8h0M556.4 42.4h0M561.7 40.3h0M589 75.5h0M595.1 98.3h0M660.5 93.3h0M579.5 103.8h0M629.9 73h0M620 106.4h0M576.9 99.9h0M579.6 106.1h0M642.8 89.8h0M614.4 77.3h0M595.8 95h0M578.7 94.5h0M582.3 102.6h0M642.9 77.2h0M649.1 115h0M647.2 126h0M674.5 122.3h0"/>
<path stroke="#483c84" d="M542.1 27.9h0M540.8 28.8h0M560.1 30.9h0M548 22.6h0M632.2 112.3h0M636.8 107.6h0M579.1 81.7h0M641.5 88.6h0M628.3 70.7h0M587 82.7h0M659.2 95.3h0M663.5 92.7h0M596.4 95.9h0M634.3 108.9h0M647.8 94.7h0M654.3 78h0M660.3 84.5h0M612.8 87.5h0M614.6 71.7h0M607.5 108.6h0M606.5 79.5h0M611.1 85.1h0M660.9 86.9h0M626 111.1h0M631.5 98.2h0M623.7 86.9h0M621.4 79.7h0M645.3 81.6h0M636.3 72.5h0M647.8 99.3h0M584.2 82.3h0M661.8 91.2h0M623 98h0M596.6 103.1h0M628.2 101.9h0M590.8 77.8h0M616.5 98.5h0M622.9 98.1h0M617.1 99.2h0M602.6 103.7h0M596.1 85.5h0M657 86.3h0M638.8 78.3h0M646.6 81.1h0M664.8 102.3h0M612.7 111.3h0M664.3 89.2h0M660.2 89.2h0M662.3 84h0M653.2 79.7h0M619.3 93.4h0M633.8 96.8h0M636.9 109.3h0M667.5 97.8h0M578.7 92.7h0M620 98.5h0M610 106.6h0M616.5 102.4h0M666.1 86h0M602.9 95.7h0M653.8 81.9h0M656.3 125.2h0M635.9 122.6h0M656.9 121.3h0M675.5 123.3h0M649.6 116.7h0M652.2 124h0M655 131.7h0M673 122h0M641.4 119.9h0M651.3 121.9h0M639.4 120.1h0M667.4 112.7h0M656.4 126.4h0M659.5 125.7h0M657.7 117.8h0"/>
<path stroke="#3c4884" d="M571 32.8h0M584.3 44.4h0M589.4 88.5h0M625.4 97.8h0M574.7 79.9h0M624.3 107.2h0M636.7 75.9h0M645.3 76h0M623.6 82.3h0M609.3 108.5h0M638.2 107h0M641 82.8h0M586.7 89.3h0M625 107.1h0M647 106.7h0M596.3 101.4h0M586.7 92.7h0M637.4 88.9h0M650.3 117.3h0M640.2 129.9h0M623 132.5h0"/>
<path stroke="#306090" d="M582.7 43.2h0M602.6 96.8h0M646.7 85.6h0M659.1 90.1h0M624.3 86.9h0M635.3 81.5h0"/>
<path stroke="#249c84" d="M553.4 39.4h0M537.7 36.3h0M556.4 40.3h0M550 31.6h0M592.5 54.4h0M587.4 44.1h0M604.4 60.4h0"/>
<path stroke="#48186c" d="M579.1 32.5h0M628.9 73.6h0M597.6 80.3h0M639.3 71h0M604.6 84h0M584.2 73h0M648.2 80.6h0M594.1 80.1h0M581.5 104.1h0M664.4 88.7h0M663.5 79.8h0M642.6 92h0M666 87.1h0M658.4 98.5h0M630.2 81.1h0M601.2 90.4h0M627.2 101.8h0M628.3 82.3h0M645.7 75.9h0M664.7 78.3h0M597.7 71.9h0M647.1 130.6h0M630.2 124.3h0M667.6 127.8h0"/>
<path stroke="#482478" d="M571.1 31.3h0M554.2 21.9h0M582.4 36.8h0M554 19.4h0M556.4 32.6h0M586.3 28.6h0M559 20.2h0M585.3 40.7h0M558.3 28.1h0M566.7 22.8h0M564 45.6h0M580.4 38.1h0M546.8 22.2h0M566 19.5h0M613.7 79.8h0M601.7 88.2h0M618.9 89.8h0M575.8 90.8h0M623 102.5h0M611.8 89.9h0M605 80.4h0M613.7 97.4h0M608 104.3h0M622.9 115.1h0M615.2 114.8h0M640.6 103.1h0M637.4 105.6h0M622.6 102h0M592.5 98.6h0M614.8 93.4h0M571.3 75.3h0M612.8 69.1h0M598.9 79.6h0M629.2 95.3h0M598.5 83.1h0M646.7 96.7h0M659.5 99.4h0M653.7 96.9h0M606.9 105.8h0M620 82h0M631.1 89.1h0M647.9 82.6h0M648.2 77.9h0M613.3 100.9h0M602.8 97h0M606.2 73.2h0M641.4 108.2h0M575.3 83.3h0M582.9 104.8h0M638 101h0M623.5 95.8h0M644.4 89.2h0M586.5 108.1h0M632.7 74.5h0M638 102.4h0M597.8 75.5h0M606.2 73.3h0M585.9 102.8h0M634.3 93h0M657.6 81.4h0M643 80.6h0M584.8 76.9h0M630.7 91.5h0M663.8 100.2h0M573.9 85.7h0M589.6 98h0M643.6 97h0M610.1 110.6h0M668.8 81.7h0M613 81h0M610.6 91.9h0M595 93.2h0M591.8 78.5h0M599.7 89.3h0M625 99.8h0M605.3 104h0M607.2 91.8h0M651.6 89.7h0M659 100.9h0M647.3 114.4h0M641 116.5h0M654.4 117h0M650 120.8h0M643.1 113.7h0M663.3 125h0M649.5 115.4h0M636.1 124.2h0"/>
<path stroke="#3c6090" d="M588 71.6h0"/>
<path stroke="#483078" d="M570.2 24.5h0M559.5 20.9h0M555.5 21.3h0M564.7 40.5h0M572.1 31.2h0M560.4 26.4h0M554.8 26.6h0M574.8 41.3h0M587.6 34.9h0M585 44.7h0M613.2 65.7h0M646 100.4h0M585.8 106.5h0M665.3 82.3h0M606.7 93.1h0M612.2 103.2h0M591.2 88.2h0M645.1 72.4h0M651.5 78.6h0M605.9 104.8h0M667.5 79.2h0M664.2 100.2h0M617.2 105.8h0M609.4 76h0M636.6 72.6h0M623.4 109.1h0M586.7 99.5h0M608.3 111.5h0M585.3 77.5h0M595.2 91.2h0M636.1 91.2h0M602.8 102.4h0M635 108h0M617.5 104.6h0M586.9 77.6h0M633.5 80.9h0M588.1 87.4h0M591.5 83.7h0M585.2 88.3h0M608.9 93.1h0M580.8 81.7h0M649 83.9h0M623.4 90.6h0M662.3 101.8h0M640.7 84.2h0M643.3 109.5h0M615.4 97.6h0M597 78h0M611.4 107.8h0M632.5 77.1h0M607.8 81.1h0M634.6 82.5h0M606.5 81.6h0M665 82.8h0M583.6 82.8h0M611.4 83.8h0M642.5 106.7h0M657.8 93.4h0M631.2 101.3h0M654.8 92.5h0M632.8 71.6h0M590.3 107.7h0M621.1 94.3h0M597.3 98.5h0M595.4 94.4h0M619.8 112.7h0M641.4 128.4h0M642.2 121.1h0M652.1 116.4h0M646.1 121.6h0M662.7 129.4h0M665 125.7h0M665.1 127.6h0M657.9 117.2h0M658.6 122.8h0M643.7 120.6h0M641.5 116.8h0M630.7 124.6h0M654.8 113.6h0M639.7 115.7h0"/>
<path stroke="#306c90" d="M555.8 38.3h0M609.1 75.1h0M665.8 95.5h0M597.3 77.5h0M605.3 96h0M635.3 95.4h0M604.7 81.4h0M579 109h0M632 86.3h0M629.2 86.3h0M620.5 78.7h0M639.8 124.2h0M643.5 121.1h0M654.3 112.2h0M656.9 128.1h0M643.4 116.2h0"/>
<path stroke="#249c90" d="M551.3 34.8h0M604.7 61.9h0"/>
<path stroke="#3c5490" d="M643 80.1h0M595.3 109.8h0M574.2 90.1h0M587.5 107.3h0M581.6 73.3h0M614.1 88h0M574.5 87h0M631.1 76.3h0M583 81.9h0M652.2 115.8h0"/>
<path stroke="#48246c" d="M553.3 21.1h0M550 27.4h0M643.9 93.9h0M576.9 79.5h0M610 77.6h0M576.2 78.6h0M634.9 105h0M581 83.1h0M650.3 101.9h0M594.4 79.3h0M653.7 84.5h0M650.1 99.5h0M643.8 120.9h0M650.5 128.9h0M664.3 120.1h0"/>
<path stroke="#24a884" d="M547.4 34.5h0M553.7 44.8h0M547.4 31.6h0M552.3 42.1h0M544.2 33.4h0M589.1 52h0M592.8 53.1h0M600.3 56.8h0"/>
<path stroke="#3c3c84" d="M570.7 38h0M561.2 19.2h0M567.3 34.6h0M555.4 28.2h0M565.9 37.7h0M636.3 102.9h0M641.3 96.8h0M649.4 94.7h0M621.5 101h0M614.3 114.7h0M658.1 97.2h0M573.6 80.2h0M614 88.1h0M649.8 76.8h0M600.1 78.5h0M595.5 87.1h0M608.6 83.2h0M636.6 111.3h0M595.6 90.2h0M667.5 125.5h0M657.4 124.1h0M670.9 128.2h0M643.8 128.7h0"/>
<path stroke="#483084" d="M585.2 92.4h0M639.6 77.2h0M624.2 89.7h0M583 109.3h0M636.6 93.7h0M657.1 74.3h0M639.9 93.9h0M601 100.8h0M663.9 90.7h0M625 74.6h0M596.6 110.4h0M611.8 89.6h0M597.9 99.8h0M632.1 91.4h0M643.4 100.1h0M660.1 95.4h0M596.3 76.8h0M671.8 128.1h0M645.4 129.4h0M648.6 126.7h0M650.2 131h0"/>
<path stroke="#248490" d="M565.9 39.9h0M591.5 51.1h0M610.8 105.1h0M652.6 77.9h0M648.9 88.3h0M581.9 110h0M636 96.7h0M658.6 72.7h0M659.8 102.8h0M657.5 103.7h0M626.7 70.2h0M609.8 108.4h0M639.4 97.2h0M645.3 129.6h0"/>
<path stroke="#249090" d="M543.2 34.3h0M536.7 39.1h0M587.2 48.1h0M600.5 58.2h0M618.9 83.6h0M600.7 87h0M616.9 107.3h0M612.4 100.7h0M598.2 107.2h0M605.4 98.7h0M629.4 81.6h0M576.4 76.4h0M636.4 126.8h0M664.3 121.2h0M645.5 116.5h0M625 130.5h0"/>
<path stroke="#247890" d="M630 97.2h0M656.8 79.9h0M627.8 103.6h0M618.9 111.3h0"/>
<path stroke="#30b478" d="M539.9 40h0M542.2 40.5h0M547.4 42.4h0M541.3 41h0"/>
<path stroke="#307890" d="M562.5 42.8h0M637.7 74.3h0M605.5 86.4h0M660.3 77.5h0M620.2 109.3h0M593.1 86.9h0M608.7 86.2h0M645.2 119.8h0M641.6 123.2h0M639.3 126.1h0"/>
<path stroke="#ee7f2d" d="M31.1 248.3h0M84.1 258.1h0M86.9 260.1h0M84.3 258h0M83.9 255.4h0M83.8 267.5h0M81.5 267.2h0M155.4 197.9h0M143.1 235.9h0M131.3 295.2h0M139.4 295.5h0M140.6 293.4h0M130.5 295.1h0M129.3 294.8h0M142.8 300.1h0M139.5 294.1h0M132 288.9h0M137.8 287.7h0M132.4 284.6h0M128 297h0M133 289.1h0M134.3 283.7h0M139.7 289.3h0M130.6 286.9h0M136.3 288.3h0M142.7 285.3h0M134.6 286h0M129.9 291.1h0M138.2 299.3h0M142.6 295.4h0M134.8 303.7h0M133.9 292h0M140.6 285.6h0M141.1 294.3h0"/>
<path stroke="#7d5042" d="M80.1 252.4h0M118.1 188.9h0M112.2 199.9h0M123.7 193.4h0M123.3 188.8h0M117.4 192.9h0M114.4 190.4h0M113.4 191.3h0M111.6 197.1h0M114.4 197.4h0M117.2 201.9h0M122.5 190h0M119.8 190.5h0M115.9 201.3h0M119.2 196.8h0M120.2 194.5h0M122.4 197.5h0M119.7 192.4h0M118 198.8h0M119.1 197.3h0M114.5 190.7h0M123.2 191.5h0M115.5 189.7h0M112.1 192.7h0M106 198h0M103.9 201.9h0M106.7 201.4h0M104.4 202.7h0M103 197.9h0M105.9 203.8h0"/>
<path stroke="#1f70b8" d="M24.1 247h0M57.1 251.7h0M33.3 254.1h0M41 248.3h0M58.4 257h0M49.6 259.1h0M26.7 237.1h0M49.4 250.8h0M44.3 243.3h0M20.7 248h0M26 237.8h0M61.8 237.8h0M81.8 264.9h0M85.3 263.4h0M83.2 265.3h0M134.6 210.7h0M122.8 216.5h0M141.1 210.6h0M156.8 205.6h0M151.9 200.9h0M163.3 205.2h0M155.2 219.7h0M141.8 224.3h0M152.8 212.5h0M150.5 212.4h0M148.9 211.7h0M144.1 217.3h0M142.1 206.4h0M140 215.1h0M153.1 211.7h0M143.5 208.8h0M151.4 198.1h0M148.8 210.4h0M148.5 197.2h0M143.8 224.8h0M151.3 199.9h0M143.8 229.2h0M145.2 223h0M142.7 230.4h0M155.5 217.6h0M150.9 228.4h0M157.3 211.3h0M155.5 200.2h0M143.4 230.6h0M154.4 217.1h0M155.7 198.2h0M145.8 197h0M142.5 230.4h0M148.5 207.1h0M146.3 206.6h0M156 212.5h0M162.8 215.8h0M160.5 213.6h0M158.6 206.4h0M167 216.3h0M151.4 212.7h0M146.8 215.6h0M144.1 214.9h0M149.6 217.6h0M143.7 224.4h0M152.4 232.6h0M157.3 213.8h0M162.8 220h0M152.3 194.9h0M151.2 219.5h0M147.8 218.4h0M149.6 214.5h0M162.5 213.8h0M152.7 218.4h0M151.9 205.4h0M156.1 203.4h0M163.4 222.1h0M141.1 217h0M150.5 228h0M158 212.4h0M159.1 223.3h0M147.5 199.5h0M148.2 206.1h0M141.7 222h0M147.7 217.5h0M103.9 247.4h0M126 246.3h0M126.4 238.9h0M101.2 251.4h0M112 250.5h0M126 248.3h0M109.6 234.7h0M108.1 242.8h0M122.6 242.6h0M122.4 234.5h0M102.1 242.4h0M113.4 250.3h0M125.9 234.6h0M110.6 239.8h0M128.1 243.2h0M121.4 246.8h0M122.6 240.5h0M142.7 240.2h0M136.8 234.1h0M132.3 244.6h0M134.6 246.2h0M132.5 234.9h0"/>
<path stroke="#d7282f" d="M21.6 244.5h0M95.9 230h0M85.7 232.3h0M83.9 232.6h0M92.1 227.3h0M84.1 235.7h0M84.5 232.9h0M84.6 246.4h0M84.8 248.5h0M84.6 258.2h0M86.2 259.4h0M82.9 258.4h0M85.5 260.5h0M82.8 257h0M83.4 259h0M85.9 257.2h0M87.5 258.8h0M84.6 258.5h0M82.2 261.1h0M82.5 267.3h0M85.5 266.7h0M107.5 224.7h0M113 216.2h0M108.6 221.5h0M125 211.5h0M112 212.7h0M117.1 216.4h0M134.2 206.5h0M123.8 222.5h0M138.9 214.4h0M134.2 208.5h0M128.9 225.7h0M132 219.5h0M134 223.4h0M131.5 228.9h0M142.1 223.1h0M141 229.1h0M125.5 210.7h0M136.8 219.9h0M136.4 226.3h0M136.9 226.6h0M127.3 209.3h0M134.6 238.8h0M140.8 213.7h0M140.9 234h0M131.1 211.2h0M134.9 231.7h0M139 215.5h0M131.7 237.4h0M134.7 236.8h0M127.8 213.2h0M125.2 229.7h0M133.7 226.9h0M132.5 205.1h0M139.9 208.6h0M132.9 230.2h0M126.7 225.5h0M143.4 234.1h0M155.8 206h0M143.1 203.6h0M153 222.8h0M119.9 244.2h0M112.5 251h0M123.9 248.8h0M105 240h0M113.5 238h0M114 236.4h0M120.1 240h0M130.9 247.8h0M105.3 243.7h0M112.6 242.4h0"/>
<path stroke="#c9c9c9" d="M68.5 233.4h0M82.2 233.3h0M85.2 231.4h0M78.6 237.9h0M88.4 228.9h0M88.6 228.1h0M38.2 234.6h0M83.8 251.6h0M78.3 250.2h0M82.6 244.6h0M115.9 225h0M120.4 208.1h0M124.6 208.8h0M122 211.9h0M110.3 216h0M114.1 221.7h0M116.4 212.4h0M116.9 207.7h0M115.4 208.4h0M124.2 204.5h0M114.2 211.8h0M115.3 209.4h0M124.8 228.3h0M124.4 205.3h0M127.7 211.8h0M124.6 209.9h0M123.5 225.4h0M112.7 225.4h0M116.8 221.2h0M110.3 220.7h0M116.8 207.9h0M121.3 222h0M113.9 211.6h0M116 206.4h0M126.1 224.3h0M124.8 225.8h0M119.5 216.5h0M126.2 212.1h0M106.1 225.9h0M127.2 211.2h0M124.6 223.7h0M125 227.9h0M118.3 209.6h0M110.1 216.7h0M120.3 223.3h0M119 222.4h0M116.8 204h0M108.3 225.9h0M111 224.3h0M120 226.6h0M108.3 215.6h0M123.9 214h0M126.4 212.1h0M117.1 222.6h0M129.3 218.3h0M124.1 214.3h0M133.8 214.5h0M136.2 238.8h0M122.1 252h0M103.3 239.9h0M112.7 251h0M121.5 245.4h0M131 244.2h0M138 249.7h0"/>
<path stroke="#1a9850" d="M41.3 258.2h0M39.2 245.9h0M42.5 262h0M35.8 241.1h0M37.4 242.1h0M42.6 259.2h0M34.2 248.2h0M37.5 246.1h0M42.3 252.2h0M20.8 244.1h0M43.7 249.6h0M59.2 251h0M20.6 241.5h0M42.5 248.3h0M29.9 257.3h0M20.9 243.7h0M55.4 246h0M38.5 246.8h0M37.6 250.3h0M29.3 252.5h0M28.1 254.5h0M54.5 257.7h0M23.8 251.3h0M39.8 259.2h0M33.8 249.1h0M48.2 246.7h0M38.9 261.8h0M55.4 249h0M56.8 250.7h0M49.3 243.8h0M28.6 242.2h0M33.1 256.5h0M26.2 242.5h0M28.4 255.2h0M21.2 245.3h0M52.5 256.3h0M34.2 239.9h0M34 260.9h0M25.4 251.8h0M34.1 261.1h0M45.7 245.8h0M24.3 252.6h0M38.7 257.7h0M27.7 257.1h0M31.2 243.1h0M55.2 246.8h0M28.9 243.7h0M28.7 242.1h0M52.8 257.1h0M44.9 247.9h0M32.9 253.3h0M35.4 259.8h0M42.9 261.6h0M29.6 248.1h0M37.9 239.1h0M50 256.1h0M27.8 238.4h0M36.3 249.7h0M25.2 254.5h0M23.7 246.3h0M25.6 241.2h0M24.5 250.3h0M51.8 246.2h0M39.6 250.5h0M53.4 255.5h0M33 256.2h0M42.8 262.2h0M39.1 250h0M43.2 243.4h0M56.8 246.5h0M33.9 262.6h0M40.8 253.1h0M46.5 252.3h0M27.1 245.5h0M26.2 236.8h0M25.1 253.4h0M50.3 256.4h0M36.1 250.7h0M55.9 251.9h0M31.6 254.1h0M59.1 250.3h0M34.7 259.3h0M48.1 245.7h0M38.1 251.6h0M62.8 240.1h0M64.1 235.5h0M61.3 235.8h0M73.9 239.1h0M63.7 234h0M66.8 236.7h0M69.1 241.7h0M64 240.7h0M64.8 237.4h0M70.2 238.9h0M75.7 238.7h0M70.3 241.5h0M60.2 238.6h0M64.2 237.1h0M67.2 238.6h0M59 230.1h0M56.3 230.5h0M93.7 227.5h0M84.9 234h0M42.3 239h0M56.2 244.5h0M84.6 265.1h0M105.1 221.3h0M139.6 232.3h0M141 223.2h0M133.7 242.8h0M137.2 222.4h0M125.4 223.8h0M127.8 223.1h0M133 205.6h0M139 212h0M140.7 211.6h0M137.5 221.7h0M128 207.3h0M133.3 219.1h0M137.3 221.1h0M140.3 228.9h0M137.8 233.1h0M138.3 216.4h0M126.8 212.6h0M136 229.9h0M137.1 210.1h0M146.5 202.8h0M159 225.9h0M164.7 219.4h0M149.2 233h0M163.1 210h0M143.8 222.9h0M144.6 198.2h0M153.7 223.2h0M146.6 202.4h0M156.2 227.9h0M157.2 209.7h0M152.2 200h0M156 215.3h0M145.7 203.7h0M150.6 203.5h0M148.6 222.8h0M157.1 199.6h0M146.5 208.4h0M149.1 216.2h0M149.6 214.3h0M125.2 243.2h0M110.8 237.2h0M113.3 248.2h0M110.6 235.2h0M132.6 241.9h0M130.6 240.7h0M130.4 237.8h0"/>
<path stroke="#d7282f" d="M60.9 238.5h0M65.4 235.2h0M87.1 231.6h0M82.7 234.1h0M93.4 230.6h0M85.8 247.1h0M76 249.2h0M75 249.7h0M80.5 255.9h0M86.5 262h0M81.6 257.4h0M85.9 255.2h0M84.9 260.4h0M83.3 261.4h0M87.5 261h0M86.3 256.2h0M87.9 258.2h0M81.6 261.9h0M84.8 261.7h0M83.2 256.7h0M122 219.2h0M129.6 227.5h0M131.4 234.2h0M137.2 218.2h0M131.6 217.8h0M137.2 233.2h0M140.6 231.5h0M128.8 213h0M137.4 217h0M124.3 215.4h0M132 231.8h0M130.6 213.5h0M138.1 224.9h0M125.7 209.8h0M140.2 226.2h0M137.7 218.2h0M142.7 227.7h0M141 233.8h0M141.9 204.9h0M150.1 199.5h0M132.9 247.8h0M109.8 253.8h0M122.8 245.8h0M122.5 251.7h0M115.3 252.2h0M138.7 239.9h0M100.8 236.6h0M119.6 245.6h0M118.3 243.4h0M120.6 242.2h0M136 241.9h0M135 292h0M141.3 283.2h0M139.6 302.8h0"/>
<path stroke="#7d5042" d="M114.7 189.1h0M120 188.2h0M120.5 196.7h0M118.6 199.5h0M117.4 194.7h0M119.6 186.2h0M111.1 196.4h0M121.2 191h0M122.7 191h0M119.4 199.7h0M112.8 201.2h0M126.1 194.2h0M121.4 198.3h0M118.4 187.8h0M115.5 200.3h0M121.3 189h0M125.6 190.9h0M111.6 196.3h0M114.9 202.3h0M106.3 203h0M105.3 198.4h0M103.2 203.8h0M102.7 201.8h0M105.7 202.3h0M105.7 202.1h0M105.9 200.1h0M105.5 195.6h0"/>
<path stroke="#ee7f2d" d="M27.2 238.9h0M84.2 268h0M84.2 266.9h0M82.5 263.9h0M81.4 266.3h0M83.4 266.7h0M150.5 194.9h0M160.8 214.6h0M129.1 288.5h0M141.9 296.8h0M137.2 301.5h0M135.8 297.7h0M130.4 288.4h0M140.4 289h0M137.8 288h0M137.7 302.8h0M134.8 305.3h0M132.1 289.5h0M136.2 289.5h0M135.2 294h0M135.7 292.1h0M132.8 289h0M143.1 300.3h0M132.4 304.6h0M142.9 293.7h0M135.8 303.2h0M142.2 285.7h0M137.4 296.7h0M141.5 290.1h0M134 300.4h0M135.5 290.8h0M138.1 304.1h0M131.9 287.6h0M141.9 297h0M138.8 283.4h0M137.3 286.9h0M131.8 288.2h0M139.9 283.8h0M137.2 293.4h0M129.8 289.4h0"/>
<path stroke="#c9c9c9" d="M76.2 237.5h0M68.6 236.1h0M66.9 239.7h0M79.4 230.8h0M98.9 225.5h0M88.3 229h0M80.9 237.4h0M86.2 231.5h0M73.5 247.6h0M79.3 253h0M115.7 228.4h0M108.9 217.1h0M118.6 219.4h0M126.4 207.6h0M119.9 212.9h0M117.2 206.5h0M124.6 218.7h0M124.8 208.1h0M123.2 214.9h0M118 208.3h0M114.1 221.2h0M124.1 220.4h0M112.9 214.7h0M124.7 215.8h0M126.3 207.9h0M113.8 217.3h0M111.7 216.3h0M107.9 226.6h0M115.5 221.6h0M106.2 225.3h0M111.6 209h0M119.6 224.2h0M117.4 213.2h0M108.6 220.1h0M121.2 214.9h0M122.1 210.5h0M113.5 222.6h0M114.6 220.4h0M119.4 227.1h0M109.5 224.7h0M119.5 213.8h0M123 208.9h0M109.4 226.8h0M116.9 209.8h0M108.4 212.5h0M134.1 234.9h0M136.8 229.7h0M125.7 219.7h0M127.4 222.3h0M107.9 248.4h0M128.1 236.3h0M118.6 246.4h0M120.5 241.3h0M116 240.5h0"/>
<path stroke="#1f70b8" d="M37.4 239.6h0M38.1 245.1h0M28.7 246.1h0M23.6 237.9h0M27.7 237.2h0M40.9 248.8h0M39.9 246.2h0M27.9 244.2h0M50.1 251.6h0M36.4 242.9h0M47.5 247.9h0M35.5 241.6h0M70 241.7h0M69.5 236.7h0M82.6 265.4h0M140 219.2h0M128.8 213.8h0M139.9 239.3h0M134.6 204.6h0M132.4 219.4h0M132.2 226.6h0M129.5 223.9h0M155.2 226.8h0M148.1 229.9h0M158.4 217.6h0M163.2 208.4h0M158.9 222.8h0M157.7 208.7h0M156.4 223.8h0M157.3 197.4h0M147 217.2h0M163.9 219.7h0M158.6 213h0M152.2 224.7h0M153.5 200h0M149.7 229.1h0M166.8 209.8h0M153.3 216.1h0M152.1 231.6h0M146 222h0M153.2 203.9h0M144.4 230h0M144 228.6h0M159.7 212.1h0M146.1 211.4h0M158.8 226h0M142.6 217.2h0M157.7 212.8h0M155.3 200.5h0M147.5 192.5h0M145.2 231.6h0M152.4 209.5h0M146.4 213.2h0M146.7 208.3h0M151.6 219.9h0M150.5 209.6h0M162.5 218.9h0M148.9 198.3h0M159.2 228.4h0M151.6 214.7h0M152.8 220.3h0M157 214.3h0M165.2 211.9h0M158.5 206.4h0M149 194.9h0M142 210.3h0M142.8 233.9h0M155.8 220.9h0M155 214.2h0M149.8 206.4h0M151.7 216.4h0M153.4 213.8h0M165.8 212.5h0M152.4 229.6h0M143.7 224.3h0M162.7 206.9h0M148.4 234.3h0M144.8 214.7h0M156.5 213.4h0M150.6 197.1h0M143.8 209.1h0M163.8 219.4h0M145.5 206h0M154.2 220.9h0M155.8 216.7h0M146.3 206.4h0M127.8 247.2h0M129.2 243.4h0M111.2 241h0M107 245.1h0M99.9 242.9h0M113.5 248.4h0M114.3 248.3h0M106.2 244.9h0M110.3 249.3h0M112.2 233.6h0M107.5 253.1h0M101.3 247.2h0M123.6 238.6h0M110.9 254.6h0M118.6 239.7h0M113.3 246.3h0M115.1 246.6h0M136.7 238.5h0M133.1 234.6h0M135.7 239.1h0M137.6 302.3h0M130.9 285.7h0"/>
<path stroke="#1a9850" d="M49.5 257.4h0M26.4 245.6h0M47.3 257h0M35.7 261.8h0M51.9 248.5h0M34.5 260.4h0M36.8 261.5h0M26.2 250.5h0M38.8 252.8h0M45.6 252.7h0M24.1 233.8h0M47.1 245.1h0M56.9 250.9h0M39.7 255.7h0M32.2 245h0M25.9 244.5h0M37.5 241.6h0M19.8 244.5h0M50.9 254.3h0M43.2 259.6h0M36.7 252.7h0M36.6 254.2h0M44.2 262.2h0M40.2 262h0M32.9 246.3h0M47.6 247.3h0M23.1 240.7h0M39.4 252.9h0M56.3 248.8h0M25 246.2h0M32.6 256.6h0M44.7 259.2h0M58.8 256.9h0M35.9 245.9h0M39.2 243.2h0M43.8 250h0M25.1 239.1h0M30.5 238.2h0M46.7 256.1h0M26.1 245.5h0M41.4 257.2h0M39.2 240h0M33.8 261.8h0M36.3 252.4h0M22.5 234.7h0M37.4 245.6h0M43 249.5h0M48 245.2h0M43.3 257.2h0M29.3 243.3h0M50.1 246.3h0M33.8 258.9h0M23.2 243h0M42.8 255.8h0M29.2 244.7h0M47.1 258.2h0M38.4 244.3h0M45.2 260.3h0M49.2 245.9h0M26.2 246.6h0M52.5 256.6h0M26.8 256.4h0M55.3 247h0M47.6 248.8h0M29.3 250.5h0M19.9 241h0M31 258h0M34.7 251.7h0M65.9 238.4h0M67.2 234.5h0M63.9 234.5h0M72 238.6h0M66.5 242.7h0M63.1 240.7h0M66.2 233.1h0M71.7 234h0M68.9 238h0M69.9 231.9h0M74.6 234.9h0M69.6 239.8h0M69.4 241.2h0M61.6 238.5h0M70.8 234.2h0M66.5 234.4h0M67.5 238.3h0M71.9 241.3h0M68 236.3h0M75.6 237.1h0M70 240.5h0M54.4 230.7h0M56.4 230.8h0M53.5 229.9h0M81.6 231.7h0M99 225.7h0M53.9 241.1h0M39.3 236.1h0M46.4 243.2h0M39.7 237h0M76.1 242.4h0M85.4 258.6h0M127.3 209.1h0M117.7 224.1h0M118.8 219.6h0M128.7 236h0M141.3 238.6h0M142.6 212.6h0M123.6 210.8h0M139.4 222.8h0M131.1 237.7h0M125.2 228h0M130.8 213.9h0M132.9 206.7h0M133 217.9h0M129.5 216h0M133.4 240.9h0M133.7 214.1h0M139.6 228.6h0M127.2 236.1h0M131.8 240.3h0M140.3 228.2h0M137.7 236.6h0M150.9 203.2h0M155.4 224h0M143.8 194.7h0M149 216.5h0M144 197.5h0M156.8 213.5h0M154 226.6h0M143.7 209.1h0M139.5 211.4h0M147.8 216.7h0M155.3 211.5h0M144.3 226.1h0M152.1 204.7h0M142.6 214.6h0M116.3 237.1h0M110.8 252.1h0M104.3 251h0M115.5 234.9h0M108.3 250h0M118.3 252.7h0M126.7 238.4h0M120.8 238.5h0M141.1 238.6h0M138.2 244.3h0M136.3 232.7h0"/>
<path stroke="#ee7f2d" d="M28.3 254.8h0M83 254.1h0M86.1 265.3h0M151 217.6h0M143 222.4h0M138 305h0M140.9 300.4h0M134.1 284.4h0M140 289.3h0M141.9 292.1h0M138.6 287h0M137.6 284.2h0M137.3 284.4h0M130.9 296h0M134 283.4h0M131.4 304.3h0M133.7 289.3h0M136.1 294.4h0M133.1 298.2h0M142 290.9h0M138 282.5h0M141.7 289.5h0M135.9 294.1h0M137.7 302.4h0M133.8 286.6h0"/>
<path stroke="#1f70b8" d="M48.7 255.3h0M42 254.4h0M38.6 240.9h0M44.6 258.6h0M55 246h0M47.8 260.5h0M23.3 238.5h0M31 245.2h0M48.8 252.3h0M47.3 245.1h0M23.1 248.7h0M37.8 251h0M23.5 250.9h0M41.6 258h0M23.9 238.5h0M57.7 252.2h0M21.9 239.1h0M45.1 252.3h0M65.2 236.9h0M55.6 229.9h0M51.1 242.8h0M124.5 208.9h0M147.9 202.7h0M149.7 201.5h0M151.3 207.5h0M147.4 203.4h0M142.3 214.9h0M164.5 222.7h0M162.6 213.4h0M144.9 197h0M152 202.1h0M154.7 205.1h0M163.2 214.2h0M157.4 203h0M149.5 215.7h0M155.9 217.4h0M144.6 200.2h0M142.9 197.7h0M159.4 225.1h0M152.6 209.5h0M163.2 219.4h0M150.5 193.1h0M154.5 218.9h0M144 228.2h0M144.3 215.3h0M146.7 198.3h0M144.1 222.7h0M166.1 212.3h0M140.3 213.6h0M148.1 194.7h0M157 219.2h0M162.4 219.5h0M141.9 206.5h0M147.9 225.7h0M164.8 208.8h0M152.4 202.2h0M146.6 232.1h0M160.1 202h0M144.7 193.9h0M155.8 214h0M149.7 199.3h0M155.3 220.7h0M146.1 204.6h0M158.8 210.3h0M143.7 209.9h0M160 200.2h0M161.9 213.6h0M160.9 214.2h0M154.4 223.7h0M153.1 223h0M163.2 215.9h0M155.3 207.5h0M148.4 222.2h0M147.1 227.1h0M146.6 227.9h0M147.8 234.3h0M165 211.9h0M162.5 215.9h0M156.3 202.5h0M163.7 218.1h0M147.7 194.9h0M145.3 217.3h0M159.7 209.9h0M153.7 194.1h0M144.2 220.2h0M157.3 208.7h0M148.8 220.1h0M149.3 222.5h0M144.1 204.2h0M158.9 220.8h0M144.7 205.7h0M152.6 197h0M136.5 241.8h0M110.2 252.9h0M123.3 248.4h0M130.3 244.6h0M130.6 238.9h0M108.2 246.7h0M109.7 241.8h0M124 251.4h0M114.9 249.8h0M105.7 238.6h0M123 240.1h0M117.2 242.8h0M122.1 246.4h0M121.5 242.7h0M112.6 245.7h0M117 246.6h0M140.9 242.8h0M140.7 234.9h0M139 237.9h0M132.4 237.7h0"/>
<path stroke="#c9c9c9" d="M74 234.2h0M64.3 240.9h0M63.1 235.8h0M81.1 235.4h0M92.9 230.8h0M87.4 232.3h0M93.9 227.2h0M84.8 231h0M75 245.8h0M78.8 252.5h0M75.6 250.5h0M111.3 226.4h0M122.6 211.1h0M107.2 228.5h0M117.5 218.6h0M120.1 214.8h0M123.9 216.4h0M123 226.4h0M119.1 220.3h0M112 220.8h0M118.6 220.3h0M108.3 215.9h0M126.4 207.4h0M122 222.1h0M114.8 228.9h0M111.6 228.6h0M119.4 218.5h0M106.7 218.9h0M125.9 207.1h0M127.6 216.4h0M112.5 224.6h0M125.4 227.2h0M113.3 210.3h0M117.1 205.1h0M126.7 213.3h0M110.6 220.5h0M117.4 216.7h0M123.4 224.5h0M123 217h0M112.5 222.8h0M122.9 223.3h0M126.1 224.3h0M114.8 223.3h0M115.4 221.4h0M121.1 220.2h0M110.6 215.9h0M117.6 208.3h0M114.8 212.4h0M117.8 216.2h0M125.8 224.3h0M119 210.4h0M122 219.1h0M120.8 208.4h0M106.7 226.7h0M109.9 221.3h0M129.6 233.3h0M129.8 220.8h0M135.5 227.2h0M130.9 209.8h0M113.8 238.3h0M117 250.7h0M128.9 245.3h0M117.2 246.8h0M108.5 241.4h0M122.8 248.1h0M121.1 240.3h0M115.6 236.2h0M122.4 243.4h0M137.6 243.4h0M133.8 251.2h0"/>
<path stroke="#7d5042" d="M79.6 241.6h0M119 199.7h0M112 195.3h0M120.4 191.1h0M123.1 198.3h0M122.4 201.7h0M120.5 195.8h0M124.1 192.4h0M114.3 195.1h0M110.4 194.7h0M114.9 189.1h0M122.5 191.3h0M114.6 198.2h0M125.9 192.5h0M115 193.9h0M122.3 197.5h0M111 191.3h0M115.3 201h0M123.1 188h0M117.4 203.5h0M113.5 190.3h0M123.5 195.1h0M102.2 199h0M103.3 196.9h0M103.7 200h0"/>
<path stroke="#d7282f" d="M24.9 251.5h0M35.3 262.4h0M69.3 237.1h0M64.7 233.8h0M61.7 236.7h0M67.8 235.6h0M62.4 231.8h0M79.1 234h0M95 225.3h0M91 235h0M102.4 226.7h0M89.9 227.6h0M93.6 228.9h0M81.3 250.4h0M77.3 243h0M80.2 252h0M74.4 245.1h0M83.4 258.7h0M82 256h0M86 261.8h0M85.2 257.6h0M83 253.5h0M81.3 261.3h0M83.2 267.7h0M113.8 227.1h0M122.7 224h0M139.9 223.2h0M130 209.2h0M140.3 224h0M137.6 212.8h0M139.2 222.8h0M130.3 224.5h0M142.7 213h0M134.7 216.5h0M124.3 228.3h0M128.4 211.3h0M123 221.5h0M129.6 236.7h0M126.2 233.7h0M123.1 219.2h0M139 217.9h0M129.8 220.1h0M140.2 219.8h0M130.6 241.9h0M134.1 223.6h0M138.3 232h0M139.8 235.1h0M147.6 215.2h0M153.7 194.8h0M154.3 210.7h0M124.3 246.7h0M115.8 239h0M108.9 245.6h0M115.6 232.7h0M116.4 244h0M112.1 240.4h0M113.8 245h0M136.9 248.8h0M137.5 238.8h0M136.7 249.4h0M138.3 230.9h0M140.5 236.8h0M140.4 298.6h0M136.7 286.9h0"/>
<path stroke="#1a9850" d="M25.6 243.1h0M51.6 258.7h0M59.9 251.3h0M37.3 244.8h0M26.2 233.9h0M30.3 241.7h0M42.8 257.9h0M32.8 242.5h0M39.9 244.1h0M53.8 255h0M48 250.4h0M48.8 250h0M31.9 250.8h0M39.6 243.3h0M37.8 248.4h0M40.5 249.8h0M39.9 250.6h0M24.5 237.8h0M39.1 256.1h0M34.3 252.9h0M24.8 243.1h0M31.4 247h0M23.8 245.8h0M24.3 246.7h0M37.6 255.9h0M50.4 250.1h0M37 255.2h0M46.4 251.3h0M44.2 262.2h0M32.6 238.4h0M37.4 243.4h0M35.4 261.4h0M43 261.7h0M47 251.5h0M54.6 252h0M32.1 240.3h0M32.2 239.8h0M42.7 246.2h0M39.7 257.7h0M46.5 244.9h0M34.5 252.4h0M33.8 246h0M46.8 256h0M34.7 245.6h0M25.5 245h0M45.1 253.8h0M29.8 259.3h0M27.5 241.9h0M43.1 246.7h0M24.5 246.7h0M39.2 257.1h0M35.3 259.5h0M51.1 248.2h0M23.5 234.5h0M50.4 244h0M20.3 246.3h0M47 254h0M46.3 260.3h0M21.3 239.2h0M23.6 234.3h0M50.4 258h0M35 253.8h0M47.4 256.3h0M42.5 256.2h0M39.6 246h0M40.7 243.9h0M53.6 248.5h0M30.3 259.6h0M42.4 247h0M20.9 250.2h0M67.9 233.2h0M71.8 235.8h0M65 235.5h0M70.1 240.2h0M70.7 236.3h0M64.3 237.5h0M63.8 238.7h0M69.6 236.3h0M63 238.9h0M65.4 237.6h0M65.8 242h0M70.6 241.6h0M64.4 237h0M66.5 241.3h0M69.4 242h0M70 234.7h0M62.9 239.7h0M67.1 239.6h0M62.9 238.1h0M66.8 236.3h0M69.2 235.6h0M64.4 228.6h0M59.4 230.2h0M78.4 230.5h0M96.4 228h0M92 228.2h0M101.6 227.2h0M55.8 242.5h0M44 240.3h0M34.3 238.5h0M48.2 239.9h0M78.1 241.7h0M81.3 259.6h0M83.8 260.7h0M86.2 263.6h0M111.4 214.5h0M116.5 209.5h0M118.9 226.7h0M134.2 223.5h0M134.4 204.9h0M137.4 238.7h0M133.5 222.2h0M125.1 208h0M138.6 228.1h0M134.3 226.1h0M142.9 218.8h0M124.1 223.3h0M127.5 214.4h0M147.5 197h0M145.3 229.1h0M144.1 226h0M142.9 222.3h0M146.1 225.5h0M148.7 199.1h0M160.8 209.7h0M146.9 223.5h0M144 224.1h0M154.7 195.2h0M152.2 211.9h0M146.8 212.2h0M144.5 222.4h0M149.5 203.9h0M150.4 205.9h0M139.9 228.3h0M153.7 210.4h0M147.4 199.1h0M109.7 249.6h0M120.8 239.1h0M109.8 250.7h0M101.4 242.9h0M113.7 245.2h0M119.6 250.8h0M111.1 251.7h0M111.9 239.2h0M136.6 231.4h0M132.7 233.9h0M138.1 248.8h0"/>
<path stroke="#ee7f2d" d="M36.8 251.3h0M81.8 265.4h0M156.3 226.2h0M148.4 226.4h0M141 301h0M129 295.6h0M144.9 298.5h0M136.6 292.1h0M131.1 301.5h0M134.1 294.4h0M132.8 288.1h0M134.5 286.7h0M138.2 297.5h0M128.9 297h0M129.5 299.4h0M145.4 296.9h0M135.3 290.7h0M139.9 291.6h0M134.8 286.1h0M128.8 296.2h0M129.4 288.4h0M130.9 292.4h0M141.2 303.5h0"/>
<path stroke="#1f70b8" d="M36.1 246.5h0M24.7 236.3h0M49.4 254.3h0M41.8 245.3h0M47.9 247.2h0M32.4 245.4h0M142.3 225h0M140.1 238.3h0M124.8 226.8h0M135.5 225.5h0M138.7 209.2h0M125.4 229h0M166.4 219.9h0M154.2 229.1h0M139.1 205.3h0M160.5 217h0M154.1 226.9h0M154 222.3h0M161.1 203.5h0M152.2 218h0M159.2 201.9h0M165.9 210.3h0M147 232.1h0M146 229.7h0M149.1 221.4h0M153 216.8h0M146.7 205.5h0M144.9 204.5h0M159.1 214.2h0M143.3 199.1h0M142.6 226.3h0M149.1 222.9h0M146.2 229.2h0M160.7 218.4h0M161.1 204.8h0M150.6 225.8h0M153.6 226.5h0M142.3 217.6h0M143.7 197.4h0M141.6 209.5h0M144.9 217.7h0M145.6 195.5h0M152.2 203.5h0M157.7 203.4h0M153.2 222.4h0M151.7 204.1h0M145.6 193.9h0M161.1 218.3h0M148.2 209.4h0M147.8 213.6h0M151.7 226.9h0M150.5 231.9h0M142.1 216.6h0M161 203.1h0M146.8 221.2h0M150 232.4h0M151.8 206.8h0M158.8 224.1h0M161 222.9h0M152.4 215.8h0M147.9 219.3h0M143.1 215.7h0M144.2 225.6h0M151.8 221.9h0M154.4 225.1h0M151.9 231.5h0M152.5 212.8h0M152.2 208.6h0M144.6 226.7h0M145.6 207.2h0M145 212.7h0M145.1 209.9h0M139 224h0M161.4 212.4h0M149.1 209.4h0M161.4 224.8h0M144.4 205.5h0M153.2 222.1h0M143.8 226h0M107.3 245.4h0M118.9 244.7h0M124.6 235.3h0M128.7 240.5h0M114.8 235.9h0M126.8 242.6h0M121 241.8h0M128.1 241.9h0M115.3 239.7h0M116.3 232.5h0M120.2 244.3h0M113.1 245.3h0M110 241.8h0M118.5 247.5h0M122.7 240.2h0M120.4 240.2h0M116 244.2h0M135 235.8h0M133.7 249.7h0M133.6 245h0M138.7 234.8h0M131.7 246h0M143.2 240.6h0M133.4 249.2h0M138.9 248.8h0M132.3 248h0"/>
<path stroke="#c9c9c9" d="M63.8 240.1h0M70.1 237.1h0M64.2 240h0M61.9 231.9h0M97.3 223.3h0M93 232.1h0M76.5 248.9h0M83.3 248h0M81.5 252.1h0M83.8 251.1h0M85.5 247.4h0M106.7 221h0M120.1 225.5h0M122.3 210.5h0M109.8 218.7h0M105 226.4h0M106.1 221.7h0M122.6 224.4h0M120.8 210.5h0M127.6 210.1h0M111.1 212.7h0M112.6 211.4h0M111.3 221.7h0M127.5 210.7h0M109.7 225.9h0M125.3 215.3h0M114.3 223.6h0M111.5 219.8h0M118.1 228.4h0M127.7 212.2h0M121 223.6h0M119.9 220h0M111.5 214.9h0M125.6 224.5h0M120.3 225.9h0M110 217.6h0M107.1 222.3h0M121.4 221.7h0M119.3 213.9h0M120.9 206.6h0M110.6 218.5h0M115.3 206.9h0M106.5 215.3h0M108.5 213.2h0M126.5 220.5h0M113.4 221.7h0M108.4 224.2h0M111.2 218.2h0M113.8 210.2h0M109.7 218.4h0M123.2 224.6h0M121.9 223.8h0M107.7 215.6h0M119.2 225.1h0M113.9 224.5h0M113.9 217.3h0M136.8 206.4h0M141.1 232h0M132.8 229h0M127.8 212.6h0M129.6 235.6h0M130 211.3h0M125.9 211.2h0M128.1 208.3h0M99.9 242.4h0M110 249.4h0M119.5 252.5h0M108.5 244.5h0M104.9 242.7h0M118 249.5h0M122.3 244.1h0M113.4 245.1h0"/>
<path stroke="#1a9850" d="M48.9 256h0M44.5 243.9h0M23 251.7h0M48.8 254.4h0M23.7 241.5h0M44 244.3h0M33.9 259h0M26.9 250.8h0M50.6 246.3h0M54.8 255.6h0M27.7 255.8h0M31.1 239.6h0M49.6 253.3h0M38.7 255.6h0M28.4 253.9h0M23 247.1h0M39.1 264.3h0M23.4 250.8h0M48.9 246.6h0M37.5 258h0M36.5 259.5h0M37.4 252.4h0M26.9 241.8h0M53.7 254.4h0M45.9 252.8h0M46.1 241.7h0M59.4 252.7h0M39.8 257.3h0M43.3 252.3h0M44.1 255.6h0M23.3 242.8h0M25.3 241.7h0M19.8 248.8h0M57.5 254.6h0M45.9 246.9h0M52.9 254.4h0M50.6 252.8h0M42.7 251.1h0M38.8 258.3h0M29.3 246.8h0M55.3 252.2h0M37.3 248.5h0M25.1 247.7h0M47.7 250.4h0M44.9 251.9h0M43.5 253.6h0M49.7 255.8h0M56.7 252.1h0M29.5 246.1h0M32.1 261.6h0M40.6 251.3h0M52.2 252.1h0M25.2 242.3h0M53.9 253.7h0M35.9 254.5h0M42 255.2h0M42.7 249.5h0M46.7 256.3h0M32 252.7h0M24.6 247.9h0M30.9 258.4h0M27 254.1h0M40.5 260.5h0M64.8 233.9h0M67.9 238.2h0M66.9 235.7h0M74.1 237h0M71.9 241.7h0M64.3 235.9h0M68.9 242.5h0M75.2 236.4h0M64.7 236h0M60.4 239.1h0M65.3 235.1h0M74.9 236.3h0M76.2 237.3h0M61.7 240.2h0M66.1 235.7h0M72.5 236.3h0M65.1 238.3h0M54.5 231.8h0M63.6 230.1h0M53.6 231.4h0M53.3 230.4h0M87.5 230.3h0M96.3 229.1h0M98.8 224h0M42.8 240h0M44.8 243.1h0M38.1 238.3h0M36.8 236.4h0M58.8 242.7h0M134.5 213.5h0M127.7 212.2h0M135.5 236.6h0M140.6 230.3h0M134.7 233.2h0M126.7 226.6h0M131.1 231.4h0M142.4 209.2h0M127 235.7h0M129.2 219.1h0M142.4 233.1h0M139.8 236.5h0M137.8 219.8h0M141.2 225.4h0M128.3 239.4h0M125.5 234.6h0M131.3 222.4h0M150.1 210.2h0M149.7 223.6h0M155 225.6h0M142.5 211h0M145 196.6h0M150.5 212.3h0M164.4 206.5h0M158.6 225.3h0M164.5 216.7h0M155.5 210.9h0M146.9 192h0M154.1 219.9h0M153.7 214.1h0M162.7 216.8h0M110.9 235.3h0M111.3 247.8h0M106.6 245.7h0M118.3 251.8h0M108.5 240.4h0"/>
<path stroke="#d7282f" d="M28 245.2h0M62.3 238.1h0M101.7 225.5h0M86.4 234.1h0M99.8 229.4h0M95.4 229.5h0M82.4 231.7h0M78.6 235.5h0M85.6 231.6h0M34.2 238.7h0M77.1 245.2h0M78.1 253.7h0M83.9 243.9h0M84.3 254.4h0M84.7 254.6h0M82.8 256.9h0M85.8 260.7h0M84.8 260.7h0M81 260.2h0M135.8 213.4h0M128.4 206.7h0M140.9 238.9h0M131 213.8h0M129.7 230.8h0M141.7 211.9h0M133.4 207.6h0M136.3 236.5h0M138.2 236.1h0M139.9 218h0M140.2 226.1h0M131.3 239.9h0M142.3 228h0M137.1 209.7h0M140.5 220.8h0M135.7 233.4h0M141.2 214h0M134.2 242h0M136 217.5h0M139 236.6h0M142 221.2h0M135.8 224.6h0M142 226.8h0M154.3 215.9h0M146.3 218.7h0M148.9 198.6h0M106.8 240.4h0M104.6 242.2h0M114.6 234.8h0M131 239.6h0M108.7 232.9h0M119.8 247h0M116.1 240.5h0M122.1 241.1h0M118.3 240.1h0M137.2 232.7h0M140.3 299.2h0M132.6 288.6h0"/>
<path stroke="#7d5042" d="M79.8 242.1h0M115 187.8h0M115.4 199.3h0M123.1 191.6h0M121 192.2h0M120 190.6h0M118.5 199h0M114.9 197.9h0M120.4 201.6h0M118.4 197.8h0M114.6 194.3h0M121.8 192.4h0M123.2 191.6h0M115.1 197.1h0M119.9 196.1h0M112.3 194.1h0M120.2 190.7h0M115.6 200.1h0M118.9 201.1h0M121.4 195.3h0M120.5 199.7h0M112.6 190.5h0M125.9 191.8h0M101.4 200.3h0M102.5 202.1h0M102.5 199.7h0M102.4 197.6h0M102.8 201.7h0"/>
<path stroke="#1f70b8" d="M291.1 188.9h0M296.1 198.3h0M293.5 195.8h0M296.7 193.4h0M297.1 192.4h0M293.5 196.7h0M287.9 189.1h0M292.6 186.2h0M295.7 191h0M299.1 194.2h0M294.8 192.4h0M288.1 197.1h0M291.4 187.8h0M284 191.3h0M294.3 189h0M296.1 188h0M291.9 201.1h0M286.5 190.3h0M279 198h0M275.5 202.1h0"/>
<path stroke="#1a9850" d="M228.4 246h0M196.8 245.8h0M194.2 245.3h0M214 248.3h0M202.3 243.3h0M223.6 252.8h0M222.7 255.8h0M212.1 250h0M229.8 246.5h0M240.9 233.2h0M237.1 235.5h0M234.3 235.8h0M236.9 234.5h0M239.8 236.7h0M242.3 237.1h0M237.2 240h0M243.3 241.5h0M237.4 237h0M242.4 241.2h0M239.5 241.3h0M237.2 237.1h0M244.9 241.3h0M234.7 236.7h0M238.1 238.3h0M240.8 235.6h0M243 240.5h0M237.4 228.6h0M232 230.1h0M269.4 228h0M268.4 229.5h0M265.9 230.8h0M264 235h0M251.6 237.9h0M272 225.7h0M253.9 237.4h0M207.2 238.7h0M212.7 237h0M231.8 242.7h0M229.2 244.5h0M258.8 247.1h0M257.6 246.4h0M259 261.8h0M254.6 257.4h0M258.9 257.2h0M256.3 261.4h0M258.8 260.7h0M257.3 258h0M255.2 261.1h0M260.9 258.2h0M286 216.2h0M298.4 227.2h0M301.8 213.8h0M314 223.2h0M310.2 222.4h0M300.7 212.2h0M313.3 224h0M307.2 223.5h0M304.4 234.2h0M307.1 234.9h0M313.6 231.5h0M306 205.6h0M312.2 222.8h0M309.8 206.4h0M307.6 238.8h0M310.5 221.7h0M297.3 228.3h0M313.9 234h0M305.8 229h0M313.2 226.1h0M311.1 224.9h0M304.1 211.2h0M312 215.5h0M310.3 221.1h0M302.5 216h0M302.8 220.1h0M314.2 225.4h0M313.3 228.9h0M306.8 214.5h0M305.4 219.4h0M305.5 205.1h0M311.3 232h0M309 229.9h0M333.5 217h0M321.9 211.7h0M326.1 211.7h0M325.1 231.6h0M317.1 222.7h0M335.4 219.5h0M326.7 223.2h0M319.8 212.2h0M335.5 213.8h0M321.2 206.1h0M289.3 237.1h0M295.5 251.7h0M295.6 242.6h0M311.7 239.9h0M283.6 239.8h0M280.5 253.1h0M283.6 235.2h0M288.3 239.7h0M295.3 244.1h0M292.8 247h0M306.7 249.7h0M306.1 234.6h0M311.7 234.8h0M305.7 233.9h0M311 249.7h0M311.9 248.8h0M305.3 248h0M314 301h0M312.4 295.5h0M311 305h0M308.7 292.1h0M301.9 297h0M318.4 296.9h0M309.3 288.3h0"/>
<path stroke="#d7282f" d="M198.6 243.1h0M221.7 255.3h0M211.1 245.1h0M232.9 251.3h0M210.3 244.8h0M196.7 241.5h0M207.2 248.2h0M227.8 255.6h0M221.8 250h0M204.1 239.6h0M220.1 245.1h0M229.9 250.9h0M212.7 255.7h0M201.4 253.9h0M193.9 243.7h0M210.5 241.6h0M211.5 246.8h0M210.6 250.3h0M212.1 264.3h0M197.7 236.3h0M201.7 246.1h0M209.7 252.7h0M196.6 237.9h0M217.2 262.2h0M197.5 237.8h0M227.5 257.7h0M200.7 237.2h0M228 246h0M213.9 248.8h0M207.3 252.9h0M210.4 252.4h0M212.9 246.2h0M197.3 246.7h0M219.4 251.3h0M203.5 238.2h0M229.8 250.7h0M205.6 238.4h0M218.9 252.8h0M214.8 245.3h0M206.1 256.5h0M201.4 255.2h0M206.8 261.8h0M207 260.9h0M196.3 242.8h0M207.1 261.1h0M230.5 254.6h0M218.7 245.8h0M227.6 252h0M197.3 252.6h0M205.2 239.8h0M219.5 244.9h0M228.2 246.8h0M204.1 248.3h0M215.7 251.1h0M197.9 251.5h0M209.3 249.7h0M198.5 245h0M198.2 254.5h0M222.4 250.8h0M210.8 251h0M229.7 252.1h0M202.5 246.1h0M217.3 243.3h0M211.4 244.3h0M224.8 246.2h0M213.6 251.3h0M218.2 260.3h0M193.3 246.3h0M220 254h0M225.2 252.1h0M226.4 255.5h0M199.2 246.6h0M219.3 260.3h0M226.9 253.7h0M220.9 247.2h0M206 256.2h0M215 255.2h0M216.2 243.4h0M193.7 248h0M205 252.7h0M213.7 243.9h0M197.6 247.9h0M228.3 247h0M226.6 248.5h0M218.1 252.3h0M205.4 245.4h0M208.3 262.4h0M204 258h0M209.1 250.7h0M232.1 250.3h0M215.4 247h0M207.7 251.7h0M221.1 245.7h0M193.9 250.2h0M240.1 239.6h0M252.4 230.8h0M257.1 235.7h0M249.1 242.4h0M249.5 248.9h0M251.8 252.5h0M253.2 252h0M246.5 247.6h0M252.3 253h0M258.5 260.5h0M256.8 260.7h0M255.8 256.9h0M260.5 258.8h0M256.9 255.4h0M259.2 263.6h0M254.8 265.4h0M256.4 266.7h0M256.2 265.3h0M304 213.8h0M303.6 213.5h0M298.7 209.8h0M297.1 223.3h0M298.4 229h0M322.7 201.5h0M331.4 217.6h0M312.1 205.3h0M336.2 208.4h0M331.9 222.8h0M337.5 222.7h0M330.7 208.7h0M335.6 213.4h0M316.8 194.7h0M325.2 218h0M330.4 203h0M316.5 208.8h0M317.9 204.5h0M328.4 197.9h0M317 228.6h0M321.8 210.4h0M332.7 212.1h0M316.8 224.8h0M315.6 217.2h0M329.3 226.2h0M321.1 194.7h0M315.7 230.4h0M317.6 198.2h0M320.9 225.7h0M333.1 202h0M319.9 223.5h0M322.7 199.3h0M326.2 222.4h0M312.5 211.4h0M328.3 220.7h0M321.2 209.4h0M333.9 214.2h0M324.7 226.9h0M327.7 195.2h0M321.5 207.1h0M319.3 206.6h0M323.5 212.3h0M315.1 216.6h0M337.4 206.5h0M331.6 206.4h0M321.9 198.3h0M319.8 215.6h0M331.8 224.1h0M319.6 227.9h0M334 222.9h0M330.2 209.7h0M337.5 216.7h0M325.4 232.6h0M317.5 222.4h0M328.5 210.9h0M329.3 202.5h0M315 210.3h0M336.7 218.1h0M320.8 218.4h0M324.8 221.9h0M325.4 229.6h0M332.7 209.9h0M325.7 218.4h0M327.1 219.9h0M330.1 199.6h0M326.7 214.1h0M325.1 204.7h0M316.1 235.9h0M317.2 220.2h0M330.3 208.7h0M322.3 222.5h0M314.1 217h0M323.6 197.1h0M336.8 219.4h0M327.2 220.9h0M323.5 228h0M317.4 205.5h0M325.6 197h0M316.8 226h0M328.8 216.7h0M319.3 206.4h0M297.3 246.7h0M299.4 238.9h0M290 250.7h0M284.3 247.8h0M285 250.5h0M281.1 242.8h0M303.3 244.6h0M288.3 252.2h0M283.3 249.3h0M298.9 234.6h0M288.6 232.7h0M273.8 236.6h0M281.5 240.4h0M281.5 244.5h0M301.1 243.2h0M283.9 254.6h0M292.6 250.8h0M283 241.8h0M289.4 244h0M290 246.6h0M309.7 238.5h0M309.8 234.1h0M313.7 234.9h0M311.1 248.8h0M311.3 230.9h0M305.5 234.9h0M309.3 232.7h0M314.9 296.8h0M304.3 295.2h0M313.6 293.4h0M313.4 289h0M307.8 305.3h0M317.9 298.5h0M302.3 294.8h0M307.1 284.4h0M307.1 294.4h0M308 292h0M305.8 288.1h0M316.1 300.3h0M302.5 299.4h0M314.3 283.2h0M315.9 293.7h0M307.3 283.7h0M315.7 285.3h0M308.3 290.7h0M311.2 299.3h0M307 283.4h0M308.5 290.8h0M306.1 298.2h0M310.2 293.4h0"/>
<path stroke="#ee7f2d" d="M255.2 233.3h0M275.4 226.7h0M271.9 225.5h0M261.4 228.9h0M271.8 224h0M251.3 250.2h0M248 249.7h0M257.8 248.5h0M282.8 218.7h0M280.2 228.5h0M299.4 207.6h0M283.3 216h0M287.1 221.7h0M290.2 206.5h0M289.4 212.4h0M287.2 211.8h0M292.1 220.3h0M291.6 220.3h0M295 222.1h0M284.3 221.7h0M300.7 211.8h0M296.2 214.9h0M284.5 219.8h0M289.8 221.2h0M289.8 207.9h0M294 223.6h0M297.1 220.4h0M279.7 218.9h0M298.9 207.1h0M300.3 209.1h0M298.6 224.5h0M285.9 214.7h0M289 206.4h0M283 217.6h0M292.3 213.9h0M299.1 224.3h0M299.3 207.9h0M286.8 217.3h0M296.4 224.5h0M279.5 215.3h0M299.5 220.5h0M278.1 221.3h0M290.6 208.3h0M290.1 216.4h0M291.3 209.6h0M290.8 216.2h0M284.2 218.2h0M283.1 216.7h0M292 210.4h0M280.7 215.6h0M295 219.1h0M292.5 213.8h0M296 208.9h0M281.3 225.9h0M282.4 226.8h0M281.3 215.6h0M286.9 224.5h0M281.4 212.5h0M302.3 218.3h0M291.8 219.6h0M313.9 238.9h0M304.6 217.8h0M309.9 226.6h0M302.6 236.7h0M307.9 231.7h0M315 221.2h0M276.9 247.4h0M277.6 242.2h0M283.2 252.9h0M283.8 237.2h0M303.6 238.9h0M287.8 235.9h0M287.9 249.8h0M296 240.1h0M274.3 247.2h0M296.6 238.6h0M291.5 247.5h0M285.6 245.7h0M293.8 238.5h0M294.4 246.8h0M295.7 240.2h0M289 240.5h0M286.8 245h0M309.6 231.4h0M316.2 240.6h0M308.7 239.1h0M306.4 249.2h0"/>
<path stroke="#d7282f" d="M217.5 243.9h0M209.8 251.3h0M199.4 245.6h0M220.3 257h0M208.8 241.1h0M210.4 242.1h0M215.6 259.2h0M221.8 254.4h0M203.3 241.7h0M207.5 260.4h0M210.5 246.1h0M215.3 252.2h0M205.8 242.5h0M212.9 244.1h0M211.8 252.8h0M216.7 249.6h0M232.2 251h0M209.1 246.5h0M222.6 253.3h0M193.6 241.5h0M212.6 243.3h0M196 247.1h0M192.8 244.5h0M202.3 252.5h0M216.2 259.6h0M211.6 240.9h0M209.6 254.2h0M201.1 254.5h0M201 245.2h0M212.9 250.6h0M196.8 251.3h0M209.5 259.5h0M222.4 254.3h0M200.9 244.2h0M221.2 246.7h0M226.7 254.4h0M223.4 250.1h0M228.4 249h0M199.1 245.5h0M219.1 241.7h0M214.4 257.2h0M208.4 261.4h0M225.5 256.3h0M216 261.7h0M205.1 240.3h0M218.9 246.9h0M215.7 246.2h0M212.7 257.7h0M223.1 246.3h0M225.9 254.4h0M207.5 252.4h0M225.8 257.1h0M217.9 247.9h0M211.8 258.3h0M202.6 248.1h0M206.8 246h0M199.7 237.1h0M202.8 259.3h0M202.2 244.7h0M220.3 245.1h0M196.7 246.3h0M197.5 246.7h0M212.2 257.1h0M222.2 245.9h0M209.4 242.9h0M194.3 239.2h0M196.6 234.3h0M215.7 249.5h0M206.9 262.6h0M220.6 248.8h0M192.9 241h0M213.8 253.1h0M200.1 245.5h0M198.1 253.4h0M220.5 247.9h0M208.5 241.6h0M233.9 238.5h0M240.9 238.2h0M237.3 235.9h0M233.2 238.6h0M240.5 238.3h0M252.1 234h0M269.3 229.1h0M260.4 232.3h0M250.1 245.2h0M251.1 241.7h0M247.4 245.1h0M248.6 250.5h0M256.8 251.1h0M255.9 258.4h0M258.9 255.2h0M254.5 267.2h0M313 219.2h0M313.1 238.3h0M315.1 223.1h0M311.6 228.1h0M313.2 226.2h0M320.9 202.7h0M339.4 219.9h0M336.3 205.2h0M332 225.9h0M318.3 229.1h0M317.1 226h0M321.1 229.9h0M315.9 222.3h0M327 222.3h0M325.8 212.5h0M323.5 212.4h0M320 217.2h0M336.9 219.7h0M331.6 213h0M319.1 225.5h0M317 197.5h0M319 222h0M317 228.2h0M317.3 215.3h0M328 225.6h0M339.1 212.3h0M315.6 226.3h0M330 219.2h0M318.2 231.6h0M315.5 211h0M315.3 217.6h0M327 226.6h0M337.8 208.8h0M316.7 209.1h0M319.6 232.1h0M325.2 203.5h0M318 196.6h0M321.4 226.4h0M318.6 193.9h0M319.7 208.3h0M327.4 217.1h0M317 224.1h0M328.7 198.2h0M318.8 197h0M319.6 202.4h0M329 212.5h0M323.5 209.6h0M333.5 213.6h0M323.5 231.9h0M335.5 218.9h0M329.2 227.9h0M319.8 221.2h0M324.8 206.8h0M321.4 222.2h0M319.3 218.7h0M317.1 214.9h0M330 214.3h0M338.2 211.9h0M330.3 213.8h0M331.5 206.4h0M325.2 200h0M322 194.9h0M328.8 206h0M324.2 219.5h0M316.1 203.6h0M324.7 216.4h0M327.4 225.1h0M312.9 228.3h0M325.5 212.8h0M317.8 214.7h0M321.6 222.8h0M321.8 220.1h0M317.6 226.7h0M335.7 216.8h0M318 212.7h0M334.4 212.4h0M322.1 216.2h0M320.5 199.5h0M331.9 220.8h0M326.2 222.1h0M323.1 199.5h0M295.1 252h0M282.8 253.8h0M300.8 247.2h0M296.3 248.4h0M301.9 245.3h0M297.6 235.3h0M282.6 234.7h0M281.5 241.4h0M281.2 246.7h0M294.1 240.3h0M301.1 236.3h0M282.8 250.7h0M297 251.4h0M286.3 248.2h0M285.7 251h0M278.7 238.6h0M277.9 242.7h0M291.3 252.7h0M290.2 242.8h0M289.1 240.5h0M295.1 246.4h0M293.5 241.3h0M291.3 240.1h0M289 244.2h0M286.4 245.1h0M313.9 242.8h0M305.6 241.9h0M309 241.9h0M306.8 251.2h0M303.6 240.7h0M313.5 236.8h0M310.2 301.5h0M308.8 297.7h0M303.4 288.4h0M310.8 288h0M302 295.6h0M305.1 289.5h0M315.8 300.1h0M308.2 294h0M305.6 288.6h0M305.8 289h0M313 289.3h0M305.4 284.6h0M310.6 284.2h0M312.7 289.3h0M303.6 286.9h0M307 300.4h0M302.9 291.1h0M307.8 286.1h0M304.9 287.6h0M309.1 294.4h0M315 290.9h0M308.9 294.1h0M310.7 302.4h0M311.8 283.4h0M314.2 303.5h0M312.9 283.8h0"/>
<path stroke="#1f70b8" d="M256.9 243.9h0M292 199.7h0M285 195.3h0M288.4 199.3h0M296.3 188.8h0M293 188.2h0M286.4 191.3h0M284.6 197.1h0M283.4 194.7h0M287.9 197.9h0M291.6 199.5h0M293.4 201.6h0M295.5 190h0M295.5 191.3h0M284.1 196.4h0M294.2 191h0M292.4 199.7h0M285.8 201.2h0M294.4 198.3h0M288 193.9h0M293.2 194.5h0M295.3 197.5h0M292.7 192.4h0M292.9 196.1h0M288.5 200.3h0M288.3 201h0M290.4 203.5h0M296.5 195.1h0M285.6 190.5h0M298.9 191.8h0M278.3 198.4h0M276.9 201.9h0M276.2 203.8h0M278.7 202.1h0M275.2 199h0M276.3 196.9h0"/>
<path stroke="#ee7f2d" d="M257.9 234h0M260.5 230.3h0M256.9 232.6h0M274.6 227.2h0M288.9 225h0M297.6 208.8h0M284.3 226.4h0M281.9 217.1h0M295 211.9h0M292.9 212.9h0M296.9 216.4h0M288.4 208.4h0M284.1 212.7h0M285.6 211.4h0M282.7 225.9h0M283.3 220.7h0M286.8 227.1h0M294.3 222h0M300.6 216.4h0M285.5 224.6h0M286.9 211.6h0M291.9 226.7h0M299.7 213.3h0M279.1 225.9h0M300.2 211.2h0M298 211.5h0M297.6 223.7h0M299.1 224.3h0M281.6 220.1h0M294.2 214.9h0M295.1 210.5h0M292 222.4h0M282.5 224.7h0M293 226.6h0M293.8 208.4h0M289.9 209.8h0M296.9 214h0M297.1 214.3h0M306.7 242.8h0M314 229.1h0M315.6 212.6h0M300 235.7h0M300.8 212.6h0M315.9 218.8h0M312.9 208.6h0M283 249.4h0M274.2 251.4h0M299.8 242.6h0M303.9 247.8h0M286.7 245.2h0M285.6 242.4h0M305.3 244.6h0M304.7 246h0"/>
<path stroke="#1a9850" d="M217 244.3h0M200.8 238.4h0M196.5 234.5h0M246.9 239.1h0M237 240.7h0M237.7 233.8h0M239.5 242.7h0M237.3 240.9h0M236.1 240.7h0M248.7 238.7h0M244.9 241.7h0M241.9 242.5h0M238.8 242h0M242.9 231.9h0M249.2 237.5h0M233.4 239.1h0M247.9 236.3h0M239.5 234.4h0M242.4 242h0M242.5 236.7h0M245.5 236.3h0M235.3 238.1h0M240.2 238.6h0M227.5 231.8h0M228.6 229.9h0M234.9 231.9h0M226.5 229.9h0M254.6 231.7h0M274.7 225.5h0M268.9 230h0M258.7 232.3h0M255.4 231.7h0M255.7 234.1h0M251.6 235.5h0M257.5 232.9h0M261.3 229h0M261.6 228.1h0M217.8 243.1h0M212.3 236.1h0M215.3 239h0M250.3 243h0M256.8 251.6h0M255.6 244.6h0M254.5 252.1h0M256.4 258.7h0M257.7 254.6h0M257.1 258.1h0M259.3 256.2h0M254 260.2h0M256.8 267.5h0M281.3 215.9h0M283.6 215.9h0M279.7 226.7h0M312.6 232.3h0M315.3 225h0M307.2 206.5h0M296.8 222.5h0M312.9 223.2h0M303 209.2h0M308.8 213.4h0M298.4 223.8h0M307 223.4h0M304.5 228.9h0M302.6 233.3h0M313.6 230.3h0M309.4 226.3h0M301.8 213h0M306.5 222.2h0M314.1 210.6h0M306.4 207.6h0M309.3 236.5h0M315.4 209.2h0M309.8 229.7h0M296 221.5h0M304.1 237.7h0M299.2 233.7h0M306.3 219.1h0M310.1 209.7h0M312.8 236.5h0M310.8 219.8h0M312 217.9h0M314.2 214h0M304.7 237.4h0M311.7 209.2h0M308.5 227.2h0M312.6 228.6h0M309.2 238.8h0M298.2 229.7h0M303.9 209.8h0M306.7 226.9h0M310.7 218.2h0M300.5 214.4h0M307.1 223.6h0M328.2 219.7h0M316.4 234.1h0M336.2 214.2h0M315.1 206.4h0M336.2 219.4h0M319.2 229.2h0M323.9 228.4h0M314.6 209.5h0M316.4 230.6h0M320.8 216.7h0M328.3 211.5h0M312 224h0M314.7 222h0M322.6 214.3h0M277.3 251h0M295.8 248.1h0M286.5 248.4h0M288.6 236.2h0M294.5 242.7h0M295.1 241.1h0M309.7 249.4h0M311.2 297.5h0M307.8 303.7h0"/>
<path stroke="#1a9850" d="M209.3 252.4h0M238 235.5h0M237.8 233.9h0M243.7 236.3h0M242.6 236.3h0M242.1 241.7h0M239.9 235.7h0M247.1 237h0M244.7 234h0M242.6 239.8h0M238.2 236.9h0M237.7 236h0M238.3 235.1h0M249.2 237.3h0M243.8 234.2h0M235.9 238.1h0M239.1 235.7h0M241 236.3h0M241.5 233.4h0M239.9 239.7h0M235.4 231.8h0M232.4 230.2h0M226.6 231.4h0M226.3 230.4h0M229.3 230.5h0M251.4 230.5h0M259.4 234.1h0M265 228.2h0M266.9 227.2h0M259.2 231.5h0M266.6 228.9h0M209.8 236.4h0M217 240.3h0M219.4 243.2h0M207.3 238.5h0M255 256h0M257.3 254.4h0M257.9 260.4h0M256 253.5h0M256 254.1h0M259.9 260.1h0M257.6 258.5h0M255.5 263.9h0M258.3 263.4h0M293.8 210.5h0M280.5 224.7h0M287.8 228.9h0M290.1 205.1h0M290.1 222.6h0M295 219.2h0M311.9 214.4h0M301.4 206.7h0M305 219.5h0M301.7 236h0M302.7 230.8h0M312.9 239.3h0M310.4 238.7h0M307.6 210.7h0M307.7 233.2h0M310.4 217h0M297.3 215.4h0M298.1 208h0M307.6 204.6h0M312.4 222.8h0M298.2 228h0M301 207.3h0M302.2 219.1h0M315.4 233.1h0M302.6 235.6h0M308.5 225.5h0M305.9 206.7h0M313.5 220.8h0M307.7 236.8h0M309 217.5h0M312 236.6h0M306.4 240.9h0M306.7 214.1h0M301.3 239.4h0M304.8 240.3h0M300.4 222.3h0M310.8 233.1h0M311.3 216.4h0M298.9 211.2h0M305.9 230.2h0M302.5 223.9h0M299.8 212.6h0M313.3 228.2h0M330.3 197.4h0M322.5 215.7h0M328.9 217.4h0M315.9 197.7h0M332.1 214.2h0M314.9 206.5h0M328.8 214h0M321.9 198.6h0M329.1 203.4h0M323.6 203.5h0M327.3 210.7h0M302.2 243.4h0M284.2 241h0M280.9 248.4h0M286.5 238h0M288.5 234.9h0M293.1 240h0M284.9 239.2h0M293.2 244.3h0M286.3 246.3h0M288.1 246.6h0M312 237.9h0M303.9 296h0M311.1 304.1h0M301.8 296.2h0"/>
<path stroke="#1f70b8" d="M288 187.8h0M293.4 191.1h0M285.2 199.9h0M296.1 191.6h0M293 190.6h0M287.4 197.4h0M290.4 194.7h0M288.9 201.3h0M298.9 192.5h0M292.2 196.8h0M287.6 194.3h0M291 198.8h0M292.1 197.3h0M287.5 190.7h0M298.6 190.9h0M288.5 189.7h0M285.1 192.7h0M287.9 202.3h0M279.3 203h0M277.4 202.7h0M275.5 199.7h0M278.9 200.1h0M278.9 203.8h0"/>
<path stroke="#ee7f2d" d="M268 225.3h0M260.1 231.6h0M270.3 223.3h0M262.9 227.6h0M266.4 230.6h0M257.8 231h0M293.4 208.1h0M279.7 221h0M293.1 225.5h0M291.6 219.4h0M293.1 214.8h0M300.6 210.1h0M284.4 214.5h0M288.3 209.4h0M297.4 205.3h0M291 208.3h0M300.5 210.7h0M298.3 215.3h0M287.3 223.6h0M297.6 209.9h0M296.5 225.4h0M285.7 225.4h0M292.9 220h0M297.7 215.8h0M280.1 222.3h0M294.4 221.7h0M297.8 225.8h0M292.5 216.5h0M293.9 206.6h0M283.6 220.5h0M290.7 224.1h0M284.7 216.3h0M290.4 216.7h0M288.3 206.9h0M285 212.7h0M295.9 223.3h0M292.6 224.2h0M290.4 213.2h0M298 227.9h0M286.8 210.2h0M298.8 224.3h0M292.4 227.1h0M289.8 204h0M294.9 223.8h0M295.7 224h0M292.2 225.1h0M282.9 221.3h0M286.9 217.3h0M300.3 209.3h0M315.7 213h0M303.6 241.9h0M298.2 243.2h0M276.3 239.9h0M282.7 249.6h0M295.8 245.8h0M278 240h0M282.7 241.8h0M287 236.4h0M294.5 245.4h0"/>
<path stroke="#d7282f" d="M222.5 257.4h0M221.9 256h0M224.6 258.7h0M208.7 261.8h0M224.9 248.5h0M197.1 247h0M209.8 261.5h0M215 254.4h0M206.9 259h0M193.8 244.1h0M200.7 255.8h0M215.5 248.3h0M211.7 255.6h0M217.6 258.6h0M213.5 249.8h0M210.5 258h0M220.6 247.3h0M196.1 240.7h0M197.8 243.1h0M198 246.2h0M212.8 259.2h0M206.8 249.1h0M208.9 245.9h0M210.6 255.9h0M211.9 261.8h0M210 255.2h0M198.1 239.1h0M206.3 254.1h0M201.6 242.2h0M217.1 255.6h0M195.5 234.7h0M200.7 257.1h0M216.3 257.2h0M220.8 260.5h0M206.8 258.9h0M208.4 259.8h0M215.9 261.6h0M196.2 243h0M228.3 252.2h0M210.9 239.1h0M198.1 247.7h0M219.8 256h0M220.7 250.4h0M216.5 253.6h0M218.1 253.8h0M196.1 248.7h0M216.1 246.7h0M198.6 241.2h0M214.6 258h0M220.1 258.2h0M208.3 259.5h0M205.1 261.6h0M223.4 244h0M230.7 252.2h0M194.9 239.1h0M215.8 262.2h0M208.9 254.5h0M219.7 256.3h0M220.4 256.3h0M215.5 256.2h0M202.3 250.5h0M219.5 252.3h0M199.2 236.8h0M223.3 256.4h0M204.6 254.1h0M213.5 260.5h0M240.2 234.5h0M236.6 230.1h0M229.4 230.8h0M272.8 229.4h0M265.1 227.3h0M221.2 239.9h0M249 249.2h0M258.5 247.4h0M254.3 259.6h0M255.8 257h0M260.5 261h0M257.2 266.9h0M255.5 267.3h0M256.2 267.7h0M258.5 266.7h0M259.1 265.3h0M301.9 225.7h0M297.8 226.8h0M307.7 216.5h0M313.8 213.7h0M303.8 213.9h0M323.1 210.2h0M319.5 202.8h0M328.2 226.8h0M324.3 207.5h0M323.5 194.9h0M320.4 203.4h0M337.7 219.4h0M317.9 197h0M329.4 223.8h0M314.8 224.3h0M325.2 224.7h0M338.9 210.3h0M313 215.1h0M322.7 229.1h0M332.4 225.1h0M321.7 199.1h0M326 216.8h0M325.6 209.5h0M326.3 216.1h0M336.1 210h0M324.4 198.1h0M323.5 193.1h0M326.2 203.9h0M327.5 218.9h0M317.4 230h0M329.8 213.5h0M321.5 197.2h0M331.8 226h0M324.3 199.9h0M313.3 213.6h0M322.1 222.9h0M328.3 200.5h0M320.5 192.5h0M315 226.8h0M334.1 204.8h0M323.6 225.8h0M325.4 209.5h0M319.4 213.2h0M325.4 202.2h0M330.3 211.3h0M318.6 195.5h0M328.5 200.2h0M324.7 204.1h0M316.7 209.9h0M320.8 213.6h0M324.6 219.9h0M326.1 223h0M328.3 207.5h0M324.4 212.7h0M332.2 228.4h0M327.3 215.9h0M325.8 220.3h0M331.6 225.3h0M325.4 215.8h0M320.9 219.3h0M319.9 192h0M316.1 215.7h0M322.5 203.9h0M323.4 205.9h0M325.3 194.9h0M315.8 233.9h0M328.8 220.9h0M328 214.2h0M329 215.3h0M316.7 224.3h0M326.7 194.1h0M324.9 205.4h0M318.7 203.7h0M321.4 234.3h0M325.2 208.6h0M320.4 199.1h0M314.9 204.9h0M318.5 206h0M319.5 208.4h0M315.6 214.6h0M331 212.4h0M332.1 223.3h0M326 222.8h0M317.7 205.7h0M320.7 217.5h0M299 246.3h0M292.9 244.2h0M279.8 240.4h0M280.3 245.4h0M292.5 252.5h0M291.9 244.7h0M299 248.3h0M301.7 240.5h0M281.9 245.6h0M296.9 248.8h0M287.3 248.3h0M281.3 250h0M281.7 232.9h0M285.2 233.6h0M278.3 243.7h0M299.7 238.4h0M291 249.5h0M284.1 251.7h0M292.6 245.6h0M291.6 239.7h0M293.6 242.2h0M293.4 240.2h0M315.7 240.2h0M306.6 245h0M311.2 244.3h0M307.6 246.2h0M303.4 237.8h0M305.4 237.7h0M302.1 288.5h0M309.6 292.1h0M303.5 295.1h0M309.2 289.5h0M309.7 286.9h0M313.3 299.2h0M307.5 286.7h0M311.6 287h0M308.8 303.2h0M315.2 285.7h0M314.5 290.1h0M307.6 286h0M312.9 291.6h0M303.9 285.7h0M314.1 294.3h0"/>
<path stroke="#1f70b8" d="M248 245.8h0M253.1 252.4h0M256.3 248h0M252.6 241.6h0M287.7 189.1h0M295.4 201.7h0M294 192.2h0M291.5 199h0M290.4 192.9h0M287.4 190.4h0M287.3 195.1h0M290.2 201.9h0M287.6 198.2h0M291.4 197.8h0M292.8 190.5h0M296.2 191.6h0M295.4 197.5h0M285.3 194.1h0M293.2 190.7h0M288.6 200.1h0M284.6 196.3h0M294.4 195.3h0M293.5 199.7h0M296.2 191.5h0M279.7 201.4h0M274.4 200.3h0M275.7 201.8h0M278.7 202.3h0M276 197.9h0M278.5 195.6h0M276.7 200h0M275.4 197.6h0M275.8 201.7h0"/>
<path stroke="#d7282f" d="M210.4 239.6h0M196 251.7h0M214.3 258.2h0M212.2 245.9h0M215.5 262h0M199.2 233.9h0M215.8 257.9h0M199.2 250.5h0M199.9 250.8h0M223.6 246.3h0M226.8 255h0M221 250.4h0M218.6 252.7h0M197.1 233.8h0M204.9 250.8h0M202.9 257.3h0M205.2 245h0M198.9 244.5h0M223.9 254.3h0M210.8 248.4h0M196.4 250.8h0M213.2 262h0M205.9 246.3h0M212.1 256.1h0M212.4 252.9h0M229.3 248.8h0M205.6 256.6h0M217.7 259.2h0M204.4 247h0M231.8 256.9h0M212.2 243.2h0M199.9 241.8h0M216.8 250h0M194.6 244.5h0M219.7 256.1h0M217.2 262.2h0M210.4 243.4h0M222.3 243.8h0M232.4 252.7h0M212.2 240h0M199.2 242.5h0M212.8 257.3h0M216.3 252.3h0M207.2 239.9h0M231.4 257h0M198.3 241.7h0M198.4 251.8h0M210.4 245.6h0M220 251.5h0M216 249.5h0M211.7 257.7h0M221 245.2h0M204.2 243.1h0M201.9 243.7h0M196.3 238.5h0M201.7 242.1h0M204 245.2h0M205.9 253.3h0M202.3 246.8h0M210.3 248.5h0M223 256.1h0M222.6 259.1h0M201.3 254.8h0M217.9 251.9h0M207.7 245.6h0M215.8 255.8h0M221.8 252.3h0M200.5 241.9h0M200.2 238.9h0M196.5 250.9h0M197.5 250.3h0M224.1 248.2h0M212.6 250.5h0M198.2 242.3h0M196.9 238.5h0M223.4 258h0M208 253.8h0M225.5 256.6h0M212.6 246h0M199.8 256.4h0M200 254.1h0M228.9 251.9h0M203.3 259.6h0M207.7 259.3h0M211.1 251.6h0M243 241.7h0M236.8 238.7h0M241.9 238h0M234.6 238.5h0M234.7 240.2h0M258.6 231.6h0M266 232.1h0M226.9 241.1h0M228.8 242.5h0M252.8 242.1h0M251.1 253.7h0M259.2 259.4h0M254.6 261.9h0M257.2 268h0M257.6 265.1h0M254.4 266.3h0M255.6 265.4h0M309.8 219.9h0M301.4 211.3h0M307.3 226.1h0M308.8 224.6h0M298.7 219.7h0M298.5 234.6h0M300.2 236.1h0M322.7 223.6h0M329.8 205.6h0M320.5 197h0M324.9 200.9h0M327.2 229.1h0M328.4 224h0M315.3 214.9h0M327.1 226.9h0M325 202.1h0M327.7 205.1h0M334.1 203.5h0M333.8 214.6h0M322.2 233h0M332.2 201.9h0M317.1 217.3h0M322 216.5h0M326.5 200h0M320 232.1h0M317.6 200.2h0M339.8 209.8h0M319 229.7h0M322.1 221.4h0M320.6 215.2h0M316.8 222.9h0M319.1 211.4h0M316.3 199.1h0M319.7 198.3h0M330.7 212.8h0M333.8 209.7h0M316.8 229.2h0M333.7 218.4h0M318.2 223h0M328.5 217.6h0M326.6 226.5h0M316.7 197.4h0M317.9 217.7h0M317.7 193.9h0M330.7 203.4h0M319.1 204.6h0M331.8 210.3h0M333 200.2h0M334.1 218.3h0M334.9 213.6h0M327.4 223.7h0M315.5 230.4h0M325.2 211.9h0M336.2 215.9h0M324 217.6h0M340 216.3h0M323 232.4h0M320.1 227.1h0M324.6 214.7h0M320.8 234.3h0M338 211.9h0M335.5 215.9h0M316.7 224.4h0M335.8 220h0M326.7 194.8h0M322.6 214.5h0M322.8 206.4h0M320.7 194.9h0M317.2 225.6h0M326.4 213.8h0M338.8 212.5h0M318.3 217.3h0M324.9 231.5h0M329.5 213.4h0M326.7 210.4h0M336.4 222.1h0M316.8 209.1h0M318.6 207.2h0M334.4 224.8h0M316 222.4h0M305.9 247.8h0M272.9 242.4h0M288.8 239h0M293.8 239.1h0M287.6 234.8h0M290.2 246.8h0M279.6 245.7h0M272.9 242.9h0M295.4 234.5h0M286.4 250.3h0M291.3 251.8h0M274.4 242.9h0M304 244.2h0M289.3 232.5h0M291.6 246.4h0M285.1 240.4h0M314.1 238.6h0M310.6 243.4h0M309.9 248.8h0M310.5 238.8h0M310.6 302.3h0M310.7 302.8h0M313.4 298.6h0M304.1 301.5h0M312.5 294.1h0M305 288.9h0M310.8 287.7h0M306 289.1h0M314.9 292.1h0M305.4 304.6h0M310.4 296.7h0M312.6 302.8h0M310.3 284.4h0M304.4 304.3h0M306.7 289.3h0M315.6 295.4h0M306.9 292h0M313.6 285.6h0M311 282.5h0M302.4 288.4h0M314.7 289.5h0M303.9 292.4h0M310.3 286.9h0M304.8 288.2h0M306.8 286.6h0M302.8 289.4h0"/>
<path stroke="#1a9850" d="M221.9 246.6h0M230.1 251.7h0M192.8 248.8h0M223.1 251.6h0M199 237.8h0M203.9 258.4h0M236.8 240.1h0M244.8 235.8h0M238.9 238.4h0M235.8 240.1h0M247 234.2h0M243.1 240.2h0M236.7 234h0M237.3 237.5h0M245 238.6h0M243.1 237.1h0M238.4 235.2h0M237.8 237.4h0M236 238.9h0M243.2 238.9h0M238.4 237.6h0M239.2 233.1h0M243.6 241.6h0M247.6 234.9h0M248.2 236.4h0M243 234.7h0M235.9 239.7h0M241.6 236.1h0M236.1 235.8h0M248.6 237.1h0M239.8 236.3h0M234.8 237.8h0M242.2 235.6h0M227.4 230.7h0M254.1 235.4h0M258.2 231.4h0M215.8 240h0M211.1 238.3h0M224.1 242.8h0M211.2 234.6h0M253.5 255.9h0M257.6 258.2h0M259.5 262h0M258.4 258.6h0M256.4 259h0M258.2 257.6h0M257.8 260.7h0M257.8 261.7h0M254.3 261.3h0M256.2 256.7h0M254.8 264.9h0M295.6 211.1h0M288.7 228.4h0M297.8 208.1h0M286.3 210.3h0M299.2 212.1h0M282.7 218.4h0M284 224.3h0M299.4 212.1h0M307.5 213.5h0M307.2 208.5h0M310.6 212.8h0M310.2 218.2h0M310.2 233.2h0M300.8 223.1h0M312 212h0M314.3 238.6h0M299.7 226.6h0M295.8 216.5h0M313.7 211.6h0M314.7 211.9h0M314.1 232h0M303.3 224.5h0M296.6 210.8h0M304.1 231.4h0M305 231.8h0M311.2 236.1h0M304.3 239.9h0M315.3 228h0M296.1 219.2h0M306 217.9h0M308.7 233.4h0M300.8 213.2h0M302.8 220.8h0M313.2 219.8h0M297.5 208.9h0M305.2 226.6h0M312.8 235.1h0M315.7 227.7h0M304.3 222.4h0M314 233.8h0M299.7 225.5h0M301.1 208.3h0M310.1 210.1h0M323.9 203.2h0M319.7 205.5h0M335.8 215.8h0M334 203.1h0M322.6 217.6h0M317.3 226.1h0M335.7 206.9h0M317.1 204.2h0M318.1 209.9h0M322.1 209.4h0M286.8 238.3h0M283.8 252.1h0M283.9 235.3h0M280 245.1h0M304 239.6h0M275.1 242.4h0M279.2 244.9h0M301.1 241.9h0M286.1 245.3h0M308 235.8h0M313.9 300.4h0M301 297h0M314.9 297h0"/>
<path stroke="#ee7f2d" d="M266.7 227.5h0M254.3 250.4h0M295.3 210.5h0M278 226.4h0M279.1 221.7h0M290.5 218.6h0M295.6 224.4h0M289.9 207.7h0M296 226.4h0M297.2 204.5h0M289.5 209.5h0M285 220.8h0M299.4 207.4h0M297.6 218.7h0M297.8 228.3h0M287.1 221.2h0M284.6 228.6h0M291.1 228.4h0M300.7 212.2h0M292.4 218.5h0M284.5 214.9h0M293.3 225.9h0M281.6 221.5h0M283.6 218.5h0M296 217h0M280.9 226.6h0M288.5 221.6h0M279.2 225.3h0M281.5 213.2h0M285.5 222.8h0M284.6 209h0M286.4 221.7h0M287.8 223.3h0M288.4 221.4h0M294.1 220.2h0M281.4 224.2h0M287.8 212.4h0M286.5 222.6h0M287.6 220.4h0M293.3 223.3h0M296.2 224.6h0M302.6 227.5h0M308.5 236.6h0M298.5 210.7h0M307.4 204.9h0M312.9 218h0M303 211.3h0M307.2 242h0M310.7 236.6h0M309.5 241.8h0M285.5 251h0M295.4 243.4h0M294 241.8h0M291.3 243.4h0M295.6 240.5h0M310.2 232.7h0"/>
<path stroke="#d6a8c8" d="M463 199.7h0M467.1 191.6h0M466.5 190h0M455.1 196.4h0M465.2 191h0M463.7 192.4h0M449.7 202.1h0M464.1 225.5h0M459.7 228.4h0M451.2 228.5h0M452.9 217.1h0M455.1 212.7h0M458.2 211.8h0M451.5 224.7h0M458.3 223.6h0M460.8 221.2h0M450.7 218.9h0M469.6 224.5h0M462.9 226.7h0M463.3 213.9h0M450.2 225.3h0M455.6 209h0M470.1 224.3h0M463.6 224.2h0M449.1 221.3h0M461.8 216.2h0M464.3 223.3h0M467.2 224.6h0M466.7 224h0M473.3 218.3h0M478.5 213.5h0M473.6 227.5h0M479.5 236.6h0M478.7 233.2h0M485.7 211.9h0M469.1 208h0M467 221.5h0M473.2 219.1h0M470.2 233.7h0M478.9 231.7h0M481.8 219.8h0M468.1 223.3h0M473.8 220.8h0M469.7 219.7h0M483.1 205.3h0M501.7 208.7h0M487.8 194.7h0M507.9 219.7h0M493.2 233h0M486.1 206.4h0M493.7 229.1h0M503.7 212.1h0M499.3 200.5h0M491.9 225.7h0M499.8 214h0M499.7 198.2h0M503.2 228.4h0M488.5 222.4h0M493.8 206.4h0M492.9 198.6h0M488.2 225.6h0M505.4 212.4h0"/>
<path stroke="#6b9bcf" d="M378.2 248.2h0M392.2 246.7h0M388.1 255.6h0M376.2 239.8h0M393.4 250.8h0M396.2 252.1h0M389.1 252.3h0M371 254.1h0M394.3 256.4h0"/>
<path stroke="#a5c6e4" d="M370.4 245.6h0M367.7 241.5h0M388 244.3h0M381.6 250.3h0M368.8 243.1h0M394.1 246.3h0M367.7 246.3h0M414.1 240.2h0M408.3 237.5h0M409.4 235.2h0M408.8 237.4h0M408.2 240h0M414.2 238.9h0M410.2 233.1h0M415.7 234h0M412.9 242.5h0M413.6 239.8h0M409.2 236.9h0M410.5 234.4h0M408.2 237.1h0M411.8 235.6h0M410.9 239.7h0M398.5 231.8h0M407.6 230.1h0M399.6 229.9h0M403.4 230.2h0M400.4 230.8h0M426.2 233.3h0M439 225.3h0M439.4 229.5h0M436.1 227.3h0M426.4 231.7h0M442.8 224h0M399.8 242.5h0M402.8 242.7h0M419 245.8h0"/>
<path stroke="#b8d4ea" d="M411.9 233.2h0M408.1 235.5h0M415.9 241.7h0M418.6 234.9h0M420.2 237.3h0M412.6 236.1h0M411.1 239.6h0M416.5 236.3h0M414 240.5h0M413.2 235.6h0M408.4 228.6h0"/>
<path stroke="#7eaad6" d="M381.4 239.6h0M379.7 261.8h0M386.5 262h0M368.1 233.8h0M383.7 255.7h0M383.6 243.3h0M363.8 244.5h0M382.6 240.9h0M380.6 254.2h0M384.2 262h0M378.3 252.9h0M381.6 255.9h0M397.7 254.4h0M374.5 238.2h0M402.4 257h0M378.1 261.1h0M381.4 245.6h0M376.1 240.3h0M386.9 261.6h0M393.6 259.1h0M390.8 256h0M372.3 254.8h0M392.8 252.3h0M393.7 255.8h0M381.8 251h0M367.5 250.9h0M385.6 258h0M391 254h0M365.3 239.2h0M396.5 256.6h0M383.6 246h0M371.1 245.5h0M370.2 236.8h0"/>
<path stroke="#a0548f" d="M462.5 199h0M462.4 197.8h0M462 198.8h0M458.5 190.7h0M455 191.3h0M459.3 201h0M452.3 215.9h0M455.2 218.2h0M453.7 218.4h0M483.6 232.3h0M484.3 224h0M478 223.4h0M486.1 223.1h0M473.7 230.8h0M480.8 219.9h0M468.3 215.4h0M486.7 213h0M484.8 213.7h0M486.4 209.2h0M476 231.8h0M473.6 235.6h0M473.8 220.1h0M477.7 214.1h0M483.8 235.1h0M482.3 216.4h0M510.4 219.9h0M489.3 229.1h0M498.2 229.1h0M501.3 197.4h0M502.6 213h0M497.2 203.9h0M498.5 218.9h0M500.8 213.5h0M503.1 214.2h0M495.3 199.9h0M488.1 222.7h0M493.1 222.9h0M487.8 229.2h0M498 226.6h0M485.6 209.5h0M488.7 193.9h0M493.7 199.3h0M489.8 197h0M496.2 211.9h0M506.5 218.9h0M499.3 211.5h0M496.4 215.8h0M501 214.3h0M499.8 206h0M495.7 216.4h0M497.4 213.8h0M489.3 217.3h0M500.5 213.4h0M497.7 210.4h0M489.6 207.2h0M507.8 219.4h0M489.5 206h0M493.1 209.4h0M488.7 205.7h0M499.8 216.7h0M467.9 248.8h0M470.8 242.6h0M465 241.8h0M480.9 248.8h0M482.9 248.8h0M484.5 236.8h0"/>
<path stroke="#d2545c" d="M410.5 242.7h0M436.9 230.8h0M420.1 242.4h0M422.8 252.5h0M427.3 248h0M422.3 250.2h0M424.2 252h0M425.5 252.1h0M419.6 250.5h0M424.5 255.9h0M430.2 259.4h0M426.8 257h0M427.4 259h0M427.3 261.4h0M430.3 256.2h0M428.6 258.5h0M425.6 261.9h0M426.5 267.3h0M425.4 266.3h0M425.8 265.4h0M427.4 266.7h0M425.5 267.2h0M459.8 239h0M472.9 245.3h0M472.7 240.5h0M452.2 246.7h0M446.1 242.4h0M458 236.4h0M464.2 244.3h0M465.5 242.7h0M477.1 234.6h0M480 241.9h0M481.2 232.7h0M482.3 230.9h0M481.6 302.3h0M482 305h0M474.4 288.4h0M484.9 300.4h0M478.8 305.3h0M473 295.6h0M488.9 298.5h0M486.8 300.1h0M475.1 301.5h0M483.5 294.1h0M479.7 292.1h0M481.8 287.7h0M484 289.3h0M477 289.1h0M485.9 292.1h0M482.6 287h0M485.3 283.2h0M486.7 285.3h0M483.6 302.8h0M479.5 290.8h0M475.4 304.3h0M478.8 286.1h0M482.1 304.1h0M477.1 298.2h0M484.6 285.6h0M473.4 288.4h0M482.8 283.4h0M477.8 286.6h0M485.2 303.5h0M473.8 289.4h0M485.1 294.3h0"/>
<path stroke="#b983ab" d="M437.7 227.5h0M423.4 230.8h0M431.1 231.6h0M422.6 237.9h0M426.7 234.1h0M462.1 188.9h0M467.1 198.3h0M464.5 195.8h0M458.9 189.1h0M463.8 190.5h0M459.9 201.3h0M463.4 199.7h0M465.3 189h0M464.4 208.1h0M462.6 219.4h0M463.9 212.9h0M460.4 212.4h0M464.1 214.8h0M460.9 207.7h0M471.6 210.1h0M455.3 221.7h0M454 217.6h0M465.4 221.7h0M470.2 212.1h0M470.4 212.1h0M482.9 214.4h0M476 219.5h0M475.5 228.9h0M481.4 217h0M485.3 238.6h0M481.5 221.7h0M469.7 209.8h0M474 211.3h0M471.8 213.2h0M479.5 227.2h0M472.3 239.4h0M471.4 222.3h0M481.8 233.1h0M469.9 211.2h0M481.1 210.1h0M481.7 236.6h0M502.4 217.6h0M510.8 209.8h0M488.3 215.3h0M499 225.6h0M510.1 212.3h0M496.4 209.5h0M489 196.6h0M489.6 193.9h0M505.1 218.3h0M498.4 223.7h0M486.5 230.4h0M495.7 226.9h0M492.5 207.1h0M506.8 215.8h0M493 194.9h0M486.8 233.9h0M499 214.2h0M483.9 228.3h0M498.1 219.9h0M485.1 217h0M488.1 204.2h0M493.1 216.2h0M503.1 223.3h0M491.7 217.5h0M457.8 238.3h0M480.5 241.8h0M466.1 252h0M453.8 253.8h0M471.8 247.2h0M473.2 243.4h0M455.2 241h0M475 239.6h0M474.6 238.9h0M482.7 239.9h0M452.7 232.9h0M464.1 240h0M455.9 239.2h0M461.2 242.8h0M460.4 244h0M456.6 245.7h0M464.5 241.3h0M460 240.5h0M486.7 240.2h0M483 237.9h0M477.8 251.2h0M476.4 237.7h0"/>
<path stroke="#92b9de" d="M392.8 254.4h0M381.5 246.1h0M387.2 259.6h0M372.7 246.1h0M384.5 249.8h0M376.6 256.6h0M393.4 254.3h0M371.9 244.2h0M370.9 241.8h0M365.6 244.5h0M390.1 241.7h0M381.4 243.4h0M372.4 255.2h0M365.2 245.3h0M379.4 261.4h0M396.5 256.3h0M387 261.7h0M378 260.9h0M369.4 251.8h0M398.6 252h0M375.1 248.3h0M376.9 253.3h0M367.2 243h0M399.3 252.2h0M381.9 239.1h0M377.8 246h0M394 256.1h0M369.1 247.7h0M388.9 251.9h0M389.1 253.8h0M373.8 259.3h0M395.8 246.2h0M393.2 245.9h0M386.7 249.5h0M384.7 243.9h0M374.9 258.4h0M379.3 262.4h0M403.1 250.3h0M378.7 259.3h0M386.4 247h0M398.4 230.7h0M397.5 229.9h0M400.3 230.5h0M390.4 243.2h0M395.1 242.8h0M392.2 239.9h0M400.2 244.5h0"/>
<path stroke="#6b9bcf" d="M379.8 241.1h0M386.5 248.3h0M399.4 246h0M388.2 262.2h0M384.9 248.8h0M373.6 248.1h0M369.1 253.4h0M374.3 259.6h0"/>
<path stroke="#d6a8c8" d="M456.2 199.9h0M458.7 189.1h0M455.6 197.1h0M464.5 196.7h0M464.2 190.7h0M450.7 201.4h0M449.9 203.8h0M446.4 197.6h0M461.2 206.5h0M467.9 216.4h0M459.4 208.4h0M455.4 214.5h0M468.6 218.7h0M468.8 228.3h0M471.7 211.8h0M471.5 210.7h0M458.1 221.2h0M462.1 228.4h0M457.8 217.3h0M450.1 225.9h0M459.3 206.9h0M459.5 221.6h0M468.6 223.7h0M452.6 220.1h0M459.4 221.4h0M461.6 208.3h0M461.1 216.4h0M469.8 224.3h0M463.4 227.1h0M452.3 225.9h0M455 224.3h0M464 226.6h0M478.2 206.5h0M474 209.2h0M481.2 218.2h0M481.2 233.2h0M484.6 231.5h0M471.3 209.3h0M480.8 206.4h0M485.1 232h0M467.6 210.8h0M468.8 226.8h0M472.4 211.3h0M473.6 236.7h0M482.6 228.1h0M475.1 211.2h0M479.5 225.5h0M483 217.9h0M484.2 219.8h0M480.2 238.8h0M476.4 219.4h0M483.9 208.6h0M473.5 223.9h0M485 233.8h0M503 225.9h0M486.9 222.3h0M494.9 203.2h0M504.5 217h0M498.1 226.9h0M497.5 200h0M495.4 198.1h0M491.6 215.2h0M484.3 213.6h0M504.1 202h0M489.6 195.5h0M501.7 203.4h0M492.4 226.4h0M487.4 230.6h0M494.5 212.3h0M492.4 222.2h0M505 222.9h0M509 211.9h0M500.3 202.5h0M494.4 205.9h0M496.3 194.9h0M495.8 221.9h0M496.4 229.6h0M492.6 222.8h0M498.2 220.9h0M498.3 210.7h0M505.4 224.8h0"/>
<path stroke="#b983ab" d="M459 187.8h0M456 195.3h0M467.7 193.4h0M468.1 192.4h0M464 188.2h0M458.3 195.1h0M458.6 198.2h0M466.7 191h0M456.8 201.2h0M467.2 191.6h0M466.4 197.5h0M456.3 194.1h0M467.1 188h0M446.7 201.8h0M459.9 225h0M468.6 208.8h0M466 211.9h0M468.2 204.5h0M456 220.8h0M462.6 220.3h0M471.6 216.4h0M456.5 224.6h0M457.3 210.3h0M464.9 206.6h0M466.9 223.3h0M466.1 210.5h0M452.4 224.2h0M453.5 224.7h0M451.7 215.6h0M463.5 213.8h0M471.7 212.2h0M478.2 208.5h0M481.4 238.7h0M480.9 226.6h0M478.6 210.7h0M483 212h0M470.7 226.6h0M475.1 231.4h0M468.3 228.3h0M472 207.3h0M486.3 228h0M471.8 212.6h0M483 215.5h0M483.8 236.5h0M480 217.5h0M484.3 228.9h0M477.4 240.9h0M477.8 214.5h0M481.7 218.2h0M478.1 223.6h0M476.2 226.6h0M492.1 229.9h0M498 222.3h0M496 202.1h0M491 217.2h0M509.9 210.3h0M493.1 221.4h0M507.1 210h0M499.4 197.9h0M486.6 226.3h0M492.1 194.7h0M504.7 218.4h0M486.7 230.4h0M489.2 231.6h0M486 226.8h0M485.9 206.5h0M496.4 202.2h0M498.7 195.2h0M495.6 219.9h0M490.8 221.2h0M490.6 227.9h0M496.4 232.6h0M502.5 206.4h0M499.8 220.9h0M495.2 219.5h0M487.7 224.3h0M495.9 205.4h0M487.8 209.1h0M489.1 209.9h0M488.4 205.5h0M443.9 242.4h0M453.7 249.6h0M461 250.7h0M452.5 241.4h0M466.8 248.1h0M449 240h0M453.7 241.8h0M459.5 234.9h0M459.6 232.7h0M452.5 240.4h0M452.3 250h0M465.5 245.4h0M449.7 238.6h0M456.2 233.6h0M474.9 247.8h0M472.1 243.2h0M470.7 238.4h0M455.1 251.7h0M464.6 242.2h0M462.5 247.5h0M466.7 240.2h0M461 246.6h0M476.6 241.9h0M481.6 243.4h0M478.6 246.2h0M487.2 240.6h0"/>
<path stroke="#a0548f" d="M464 190.6h0M458.4 190.4h0M465.4 198.3h0M463.1 197.3h0M464.5 199.7h0M457.5 190.3h0M456.6 190.5h0M449.3 198.4h0M449.7 202.3h0M446.5 202.1h0M449.5 195.6h0M460.5 209.5h0M460.8 207.9h0M468.7 215.8h0M471.2 211.2h0M472.8 213.8h0M485 223.2h0M477 205.6h0M486.9 218.8h0M479.7 233.4h0M485.2 225.4h0M483.6 228.6h0M490.5 202.8h0M507.2 208.4h0M499.4 224h0M484 215.1h0M488 197.5h0M488.6 200.2h0M490 229.7h0M507.2 219.4h0M494.5 193.1h0M492.5 197.2h0M490.1 211.4h0M500.3 226.2h0M489.2 223h0M499.5 217.6h0M494.6 225.8h0M504.9 214.2h0M490.6 202.4h0M491.8 213.6h0M497.1 223h0M486.1 216.6h0M502.6 206.4h0M511 216.3h0M492.9 198.3h0M498.3 215.9h0M502.8 224.1h0M502.6 225.3h0M487.7 224.4h0M491.9 219.3h0M487.1 215.7h0M497.7 194.8h0M495.9 231.5h0M496.5 212.8h0M501.1 199.6h0M501.3 208.7h0M488.6 226.7h0M494.5 228h0M491.5 199.5h0M485.7 222h0M493.6 214.3h0M490.3 206.4h0M447.3 239.9h0M451.3 245.4h0M467.3 248.4h0M451 245.1h0M466.4 234.5h0M444.8 236.6h0M466.4 243.4h0M449.3 243.7h0M454.6 235.2h0M460.3 232.5h0M463.8 247h0M460 244.2h0M485.1 238.6h0M480.6 231.4h0M482.1 248.8h0"/>
<path stroke="#a5c6e4" d="M381.3 244.8h0M364.8 244.1h0M369.3 241.7h0M401.5 254.6h0M386.7 246.2h0M386.8 255.8h0M373.5 246.1h0M376.1 261.6h0M390.3 260.3h0M365.9 239.1h0M407.8 240.1h0M409 235.5h0M413.6 236.3h0M414.1 237.1h0M408.7 233.8h0M409.8 242h0M412.9 238h0M414.6 241.6h0M413.4 241.2h0M410.5 241.3h0M406.9 238.1h0M406.4 231.8h0M403 230.1h0M397.3 230.4h0M440.3 229.1h0M445.6 227.2h0M442.9 225.5h0M437.9 227.2h0M433.9 227.6h0M382.1 238.3h0M380.8 236.4h0M382.2 234.6h0M420 249.2h0"/>
<path stroke="#7eaad6" d="M369.6 243.1h0M380.8 251.3h0M382.1 245.1h0M395.9 248.5h0M386.6 259.2h0M374.3 241.7h0M380.8 261.5h0M389.6 252.7h0M373.9 257.3h0M383.1 264.3h0M367.6 237.9h0M381.5 258h0M381.4 252.4h0M383.8 259.2h0M388.7 259.2h0M387.8 250h0M390.7 256.1h0M378.2 239.9h0M367.3 242.8h0M392 245.2h0M371.7 257.1h0M373.3 243.3h0M375.2 243.1h0M399.2 246.8h0M369.2 254.5h0M367.1 248.7h0M368.5 250.3h0M389.2 260.3h0M367.6 234.3h0M373.3 250.5h0M390.5 252.3h0M379.5 241.6h0M364.9 250.2h0"/>
<path stroke="#92b9de" d="M392.9 256h0M385.3 258.2h0M383.2 245.9h0M375.1 239.6h0M393.6 253.3h0M391.1 245.1h0M382.7 255.6h0M400.9 250.9h0M381.5 241.6h0M373.3 252.5h0M380.7 252.7h0M391.6 247.3h0M380.5 259.5h0M379.9 245.9h0M368.3 246.7h0M372.6 242.2h0M403.4 252.7h0M383.2 240h0M366.5 234.7h0M368.3 252.6h0M367.3 238.5h0M396.9 254.4h0M378.5 252.4h0M396.8 257.1h0M388.9 247.9h0M382.8 258.3h0M381.3 248.5h0M371.5 241.9h0M387.1 246.7h0M394.4 244h0M386.8 262.2h0M379 253.8h0M399.3 247h0M391.5 247.9h0M384.5 260.5h0M386.3 239h0"/>
<path stroke="#d2545c" d="M410.9 235.7h0M410.1 235.7h0M425.6 231.7h0M445.7 225.5h0M443.8 229.4h0M423.1 234h0M431.5 230.3h0M435 235h0M430.2 231.5h0M437.4 230.6h0M423.8 242.1h0M421.3 243h0M422.1 241.7h0M426.6 244.6h0M422.1 253.7h0M427.8 251.1h0M428.8 248.5h0M428.6 258.2h0M425.3 259.6h0M426.9 258.4h0M427.8 260.7h0M428.9 260.4h0M428.1 258.1h0M428.3 258h0M426.2 261.1h0M428.6 265.1h0M429.3 263.4h0M430.2 263.6h0M476.9 247.8h0M469.2 243.2h0M450.6 245.7h0M456.5 251h0M452.9 245.6h0M462.3 252.7h0M445.3 247.2h0M460.1 240.5h0M456.1 240.4h0M466.1 241.1h0M457.8 245h0M480.8 234.1h0M477.7 249.7h0M481.5 238.8h0M482 249.7h0M480.7 249.4h0M473.1 288.5h0M485.9 296.8h0M479.8 297.7h0M476.1 289.5h0M480.6 292.1h0M479.2 294h0M484.3 299.2h0M478.1 294.4h0M476.8 288.1h0M476.4 284.6h0M476.4 304.6h0M472.9 297h0M473.5 299.4h0M474.6 286.9h0M478 300.4h0M479.3 290.7h0M478.6 286h0M473.9 291.1h0M485.9 297h0M480.1 294.4h0M486.6 295.4h0M482 282.5h0M481.7 302.4h0M481.3 286.9h0"/>
<path stroke="#b8d4ea" d="M407.9 234.5h0M408.8 233.9h0M408 240.7h0M418.1 237h0M413.9 231.9h0M414.3 241.5h0M411.5 238.3h0M405.7 240.2h0M406.3 238.1h0"/>
<path stroke="#7eaad6" d="M391.3 257h0M370.2 250.5h0M370.9 250.8h0M398.8 255.6h0M387.7 249.6h0M364.9 243.7h0M382.5 246.8h0M381.8 248.4h0M388.6 258.6h0M372 245.2h0M376.9 246.3h0M392.9 246.6h0M383.9 246.2h0M383.2 243.2h0M401.1 251.7h0M399.4 249h0M400.8 250.7h0M385.4 257.2h0M387.3 252.3h0M380.3 252.4h0M387 249.5h0M394.6 252.8h0M391.1 258.2h0M383.2 257.1h0M386 255.2h0M383.1 250h0M387.2 243.4h0M390.7 256.3h0M400.8 246.5h0M391.6 248.8h0M363.9 241h0M384.8 253.1h0M376.4 245.4h0M380.1 250.7h0M382.1 251.6h0"/>
<path stroke="#b8d4ea" d="M418 234.2h0M414 241.7h0M405.3 235.8h0M417.9 239.1h0M411.2 234.5h0M414.7 236.3h0M404.9 238.5h0M409.4 237.6h0M408.3 240.9h0M407.1 240.7h0M408.3 235.9h0M420.2 237.5h0M408.7 236h0"/>
<path stroke="#92b9de" d="M393.5 257.4h0M367 251.7h0M370.2 233.9h0M378.5 260.4h0M386.8 257.9h0M380.1 246.5h0M372.4 253.9h0M367 247.1h0M367.4 250.8h0M367.1 240.7h0M371.7 237.2h0M399 246h0M400.3 248.8h0M377.8 249.1h0M367.8 245.8h0M382.9 261.8h0M370.2 242.5h0M383.8 257.3h0M385 248.3h0M394.1 251.6h0M391.8 260.5h0M377.8 258.9h0M372.7 242.1h0M371.8 238.4h0M378.7 245.6h0M373.2 244.7h0M388.3 243.3h0M395.1 248.2h0M367.5 234.5h0M364.3 246.3h0M383.6 250.5h0M370.2 246.6h0M397.9 253.7h0M394.4 258h0M391.4 256.3h0M386.5 256.2h0M375.6 254.1h0M388 240.3h0"/>
<path stroke="#b983ab" d="M422.4 230.5h0M422.6 235.5h0M432.6 228.1h0M437.6 228.9h0M461.4 192.9h0M457.4 191.3h0M458.4 197.4h0M464.2 194.5h0M462.4 187.8h0M462.9 201.1h0M455.6 196.3h0M461.4 203.5h0M465.4 195.3h0M467.2 191.5h0M446.5 199.7h0M449.9 200.1h0M447.7 200h0M450.7 221h0M450.1 221.7h0M454.3 216h0M467 226.4h0M467.2 214.9h0M468.6 209.9h0M470.3 207.9h0M455.7 216.3h0M450.5 215.3h0M451.9 226.6h0M452.5 213.2h0M458.8 212.4h0M457.8 210.2h0M458.6 220.4h0M463 210.4h0M452.3 215.6h0M477.7 242.8h0M479.8 213.4h0M472.7 236h0M478.1 234.9h0M481.6 212.8h0M469.5 210.7h0M478.4 204.9h0M466.8 216.5h0M484.7 211.6h0M474.3 224.5h0M477.4 207.6h0M478.7 216.5h0M483.4 222.8h0M484.2 226.1h0M471 235.7h0M478.7 236.8h0M481.3 221.1h0M483 236.6h0M479.8 224.6h0M477.7 226.9h0M469.5 234.6h0M469.4 229h0M484.3 228.2h0M470.7 225.5h0M472.1 208.3h0M493.7 223.6h0M488.9 197h0M505.1 203.5h0M485.8 224.3h0M507.2 214.2h0M496.1 231.6h0M487.8 222.9h0M488 228.6h0M483.5 211.4h0M497.7 223.2h0M505.9 213.6h0M500.2 227.9h0M491.1 227.1h0M490.3 218.7h0M499.5 210.9h0M509.8 212.5h0M496.7 218.4h0M500.1 203.4h0M491.4 199.1h0M502.9 220.8h0M447.9 247.4h0M470.4 238.9h0M458.6 234.8h0M454.8 252.1h0M454.2 252.9h0M455.3 247.8h0M462.9 244.7h0M456 250.5h0M470 248.3h0M466.5 251.7h0M451.9 248.4h0M458.9 249.8h0M454.3 249.3h0M469.9 234.6h0M448.9 242.7h0M472.1 241.9h0M475 244.2h0M463.6 250.8h0M466.3 244.1h0M457.3 246.3h0M462.3 243.4h0M466.1 246.4h0M462.3 240.1h0M479 235.8h0M484.9 242.8h0M482.7 234.8h0M484.7 234.9h0M474.6 240.7h0M480.3 232.7h0"/>
<path stroke="#a0548f" d="M466.4 201.7h0M470.1 194.2h0M459.5 189.7h0M445.4 200.3h0M446.2 199h0M453.8 218.7h0M449 226.4h0M470.4 207.6h0M470.1 224.3h0M468.1 214.3h0M484 219.2h0M467.8 222.5h0M472.9 225.7h0M469.4 223.8h0M484.6 230.3h0M485 229.1h0M477.5 222.2h0M485.2 214h0M475.7 237.4h0M484.2 226.2h0M475.8 240.3h0M486.7 227.7h0M494.1 210.2h0M500.8 205.6h0M491.5 197h0M495.9 200.9h0M506.6 213.4h0M496.8 212.5h0M496.2 218h0M488.1 217.3h0M490.7 205.5h0M488.9 204.5h0M488.4 230h0M487.3 199.1h0M490.7 198.3h0M506.4 219.5h0M505.1 204.8h0M487.7 209.1h0M488.9 217.7h0M497.2 222.4h0M499.3 220.7h0M499.5 200.2h0M504 200.2h0M490.7 208.3h0M500 212.5h0M494.5 209.6h0M505 203.1h0M507.2 215.9h0M508.4 206.5h0M495.8 206.8h0M491.8 234.3h0M506.8 220h0M500 215.3h0M489.7 203.7h0M494.6 203.5h0M496.1 204.7h0M507.4 222.1h0M493.3 222.5h0M494.6 197.1h0M485.9 204.9h0M487 222.4h0M494.1 199.5h0M470 246.3h0M463.5 252.5h0M474.3 244.6h0M458.8 235.9h0M453.8 250.7h0M468 251.4h0M463.6 245.6h0M454 241.8h0M477.6 245h0M479.7 239.1h0"/>
<path stroke="#d2545c" d="M430.4 234.1h0M440.4 228h0M428.9 234h0M432.3 229h0M424.9 237.4h0M429.6 231.6h0M429.8 247.1h0M424.1 252.4h0M427.8 251.6h0M417.5 247.6h0M423.3 253h0M427.4 258.7h0M426 256h0M428.3 254.4h0M430 261.8h0M429.5 260.5h0M429.9 255.2h0M429.2 257.6h0M427 253.5h0M427 254.1h0M429.8 260.7h0M428.8 260.7h0M431.9 258.2h0M425.8 264.9h0M426.5 263.9h0M430.1 265.3h0M460.3 237.1h0M465.1 240.3h0M457.5 248.4h0M458.3 248.3h0M457.4 250.3h0M456.7 251h0M467 240.1h0M462 249.5h0M459.1 246.6h0M464.4 240.2h0M480.7 238.5h0M475.7 246h0M476.5 234.9h0M485 301h0M475.3 295.2h0M483.4 295.5h0M484.4 289h0M481.8 288h0M481.7 302.8h0M484.4 298.6h0M474.5 295.1h0M473.3 294.8h0M478.1 284.4h0M480.7 286.9h0M476 288.9h0M476.8 289h0M487.1 300.3h0M481.6 284.2h0M479.8 303.2h0M478.3 283.7h0M483.7 289.3h0M486.2 285.7h0M485.5 290.1h0M480.3 288.3h0M482.2 299.3h0M483.9 291.6h0M474.9 296h0M477.7 289.3h0M478.8 303.7h0M472.8 296.2h0M479.9 294.1h0M474.9 292.4h0M474.9 285.7h0"/>
<path stroke="#6b9bcf" d="M388.5 243.9h0M368.9 251.5h0M371.2 238.9h0M376 252.7h0"/>
<path stroke="#d6a8c8" d="M465 192.2h0M464.4 201.6h0M448.4 202.7h0M455.3 226.4h0M466.6 211.1h0M466.6 224.4h0M463.1 220.3h0M457 216.2h0M468.8 208.1h0M455.5 219.8h0M455.6 228.6h0M471.7 212.2h0M468.1 220.4h0M463.4 218.5h0M465.3 222h0M469.4 227.2h0M457.9 211.6h0M456.9 214.7h0M464.3 225.9h0M463.5 216.5h0M454.6 220.5h0M461.4 216.7h0M456.5 222.8h0M458.8 223.3h0M465.1 220.2h0M454.6 215.9h0M454.1 216.7h0M467 208.9h0M453.9 221.3h0M483.9 223.2h0M478.2 223.5h0M473.6 233.3h0M483.2 222.8h0M478.6 204.6h0M480.8 229.7h0M482.2 236.1h0M475.1 237.7h0M483.9 218h0M482.1 224.9h0M477.3 219.1h0M474.8 213.9h0M481.1 209.7h0M469.2 229.7h0M474.9 209.8h0M475.3 222.4h0M499.2 226.8h0M502.9 222.8h0M508.5 222.7h0M499.2 219.7h0M492.9 211.7h0M487.4 234.1h0M493 216.5h0M491 232.1h0M497 216.8h0M496.6 209.5h0M497.3 216.1h0M490 222h0M488 228.2h0M501.7 212.8h0M490.2 229.2h0M490.4 213.2h0M508.8 208.8h0M501.3 211.3h0M496.2 203.5h0M502.8 210.3h0M488 224.1h0M494.5 231.9h0M499.3 207.5h0M507.7 218.1h0M498.4 225.1h0M486.6 214.6h0M502 212.4h0M497.2 222.1h0"/>
<path stroke="#a5c6e4" d="M376.8 242.5h0M398.5 257.7h0M383.4 252.9h0M369 246.2h0M385.8 245.3h0M363.8 248.8h0M368.5 246.7h0M370 237.8h0M413.3 237.1h0M407 238.9h0M404.4 239.1h0M414.8 234.2h0M413.4 242h0M413.5 236.7h0M405.9 231.9h0M397.6 231.4h0M427.9 232.6h0M429.2 231.4h0M428.5 232.9h0M443 225.7h0M437 232.1h0M383.7 237h0M378.3 238.5h0"/>
<path stroke="#b8d4ea" d="M415.8 235.8h0M409.9 238.4h0M410.8 236.7h0M413.1 241.7h0M416 238.6h0M419.6 237.1h0M405.7 236.7h0M405.8 237.8h0M412.5 233.4h0M411.2 238.6h0"/>
<path stroke="#b983ab" d="M431.4 232.3h0M467.3 188.8h0M454.4 194.7h0M458.9 197.9h0M461.2 201.9h0M466.5 191.3h0M463.6 186.2h0M465.8 192.4h0M466.3 197.5h0M463.9 196.1h0M459.5 200.3h0M459.6 200.1h0M469.6 190.9h0M467.5 195.1h0M456.1 192.7h0M450.3 203h0M447.9 201.9h0M447.2 203.8h0M447 197.9h0M447.3 196.9h0M466.3 210.5h0M458.1 221.7h0M464.8 210.5h0M470.4 207.4h0M459.3 209.4h0M468.4 205.3h0M458.8 228.9h0M467.5 225.4h0M454.3 220.7h0M455.5 214.9h0M468.8 225.8h0M470.7 213.3h0M454.6 218.5h0M469 211.5h0M457.4 221.7h0M469 227.9h0M463 222.4h0M460.8 204h0M466 219.1h0M450.7 226.7h0M460.9 209.8h0M457.9 224.5h0M462.8 219.6h0M466 219.2h0M481.2 222.4h0M472.4 206.7h0M484.1 238.3h0M483.9 239.3h0M472.8 213h0M474.6 213.5h0M476.8 229h0M469.2 228h0M478.3 226.1h0M486.4 233.1h0M467.1 219.2h0M484.5 220.8h0M477 217.9h0M478.2 242h0M473.5 216h0M474.6 241.9h0M471.5 214.4h0M482.3 232h0M476.9 230.2h0M491.9 202.7h0M493.7 201.5h0M494.5 194.9h0M491.4 203.4h0M496.2 224.7h0M490.1 225.5h0M499.9 217.4h0M492.8 210.4h0M486.6 217.2h0M504.8 209.7h0M491.5 192.5h0M488.6 198.2h0M486.5 211h0M497.6 226.5h0M495.7 204.1h0M487.7 209.9h0M492.2 209.4h0M491.8 216.7h0M495.4 212.7h0M494 232.4h0M490.8 215.6h0M495.6 214.7h0M488.1 214.9h0M496.8 220.3h0M501.3 213.8h0M496.2 200h0M493.5 203.9h0M488.3 226.1h0M487.1 203.6h0M491.7 194.9h0M488.2 220.2h0M492.8 220.1h0M506.7 216.8h0M483 224h0M497 222.8h0M468.3 246.7h0M454 249.4h0M450.8 240.4h0M464.8 239.1h0M454.8 237.2h0M454.9 235.3h0M445.2 251.4h0M468.6 235.3h0M448.3 251h0M452.1 242.8h0M472.1 236.3h0M457.5 238h0M450.2 244.9h0M459.6 236.2h0M457.3 248.2h0M454.6 239.8h0M451.5 253.1h0M459.3 239.7h0M454.9 254.6h0M457.1 245.3h0M457.4 245.1h0M476.7 233.9h0M474.4 237.8h0M477.4 249.2h0"/>
<path stroke="#7eaad6" d="M394.6 246.3h0M397.8 255h0M392 250.4h0M392.8 250h0M403.2 251h0M375.9 250.8h0M369.9 244.5h0M368.7 236.3h0M394.9 254.3h0M383.9 250.6h0M368.5 237.8h0M394.4 250.1h0M369.1 239.1h0M376.6 238.4h0M377.8 261.8h0M389.9 246.9h0M383.7 257.7h0M386.7 251.1h0M391.7 250.4h0M391.3 245.1h0M369.6 241.2h0M380.4 242.9h0M369.2 242.3h0M377 256.2h0M375 258h0M378.7 251.7h0"/>
<path stroke="#a5c6e4" d="M386.3 252.2h0M377.3 254.1h0M379.4 259.8h0M380.3 249.7h0M369.5 245h0M406.8 240.1h0M407.8 238.7h0M411.9 238.2h0M419.2 236.4h0M408.4 237h0M409.3 235.1h0M405.6 238.5h0M418.9 236.3h0M404.2 238.6h0M414 234.7h0M406.9 239.7h0M412 236.3h0M410.8 236.3h0M409.1 238.3h0M428.1 235.7h0M432.4 228.9h0M428.8 231h0M388.8 243.1h0M397.9 241.1h0M378.2 238.7h0"/>
<path stroke="#92b9de" d="M395.6 258.7h0M403.9 251.3h0M381.4 242.1h0M377.9 259h0M383.9 244.1h0M371.7 255.8h0M364.6 241.5h0M376.2 245h0M372.1 254.5h0M367.8 251.3h0M383.1 256.1h0M375.4 247h0M381 255.2h0M390.4 251.3h0M389.9 252.8h0M370.1 245.5h0M377.1 256.5h0M389.7 245.8h0M382.7 257.7h0M387.3 257.2h0M390.5 244.9h0M372.9 243.7h0M375 245.2h0M387.5 253.6h0M400.7 252.1h0M379.3 259.5h0M382.4 244.3h0M384.6 251.3h0M397.4 255.5h0M367.9 238.5h0M401.7 252.2h0M391.9 247.2h0M379.9 254.5h0M364.7 248h0M377.9 262.6h0M370.8 256.4h0M368.6 247.9h0M397.6 248.5h0M399.9 251.9h0M392.1 245.7h0M386.8 240h0M383.3 236.1h0"/>
<path stroke="#a0548f" d="M459.4 199.3h0M462.6 199.5h0M469.9 192.5h0M458.6 194.3h0M459 193.9h0M459.1 197.1h0M469.9 191.8h0M458.9 202.3h0M457.8 227.1h0M452.6 221.5h0M456 212.7h0M465.2 214.9h0M452.4 212.5h0M461.1 222.6h0M484.9 238.9h0M475 213.8h0M475.4 234.2h0M475.6 217.8h0M480.4 226.3h0M485.1 210.6h0M486.6 212.6h0M484.9 234h0M471.2 236.1h0M495.3 207.5h0M488.1 226h0M508.7 219.4h0M494.5 212.4h0M504.8 214.6h0M503.2 201.9h0M486.9 197.7h0M503.4 225.1h0M487.5 208.8h0M502.8 226h0M501 219.2h0M486.3 217.6h0M490.6 232.1h0M490.3 206.6h0M495 217.6h0M490.8 212.2h0M501.2 209.7h0M508.5 216.7h0M509.2 211.9h0M490.9 192h0M486 210.3h0M491.8 218.4h0M493.6 214.5h0M503.7 209.9h0M506.7 206.9h0M497.7 194.1h0M492.4 234.3h0M488.8 214.7h0M497.7 214.1h0M487.1 235.9h0M489 212.7h0M492.2 206.1h0M496.6 197h0M487.8 226h0M463.9 244.2h0M448.6 242.2h0M466.8 245.8h0M461.2 246.8h0M453.6 234.7h0M459.3 252.2h0M452.5 244.5h0M445.4 242.9h0M457.7 245.2h0M467.6 238.6h0M466.6 240.5h0M476.3 248h0"/>
<path stroke="#d2545c" d="M407.7 234h0M419.7 238.7h0M415.9 241.3h0M407.1 235.8h0M425.1 235.4h0M439.9 230h0M436 228.2h0M429.7 232.3h0M446.4 226.7h0M441.3 223.3h0M425.3 250.4h0M420.5 248.9h0M421.1 245.2h0M428.6 246.4h0M418.4 245.1h0M419 249.7h0M423.6 241.6h0M429.5 247.4h0M427.9 243.9h0M430.5 262h0M429.4 258.6h0M425.6 257.4h0M428.7 254.6h0M429.9 257.2h0M426.8 256.9h0M431.5 258.8h0M431.5 261h0M430.9 260.1h0M427.9 255.4h0M428.8 261.7h0M425.3 261.3h0M427.2 256.7h0M425 260.2h0M428.2 268h0M428.2 266.9h0M427.2 267.7h0M427.8 267.5h0M429.5 266.7h0M426.6 265.4h0M427.2 265.3h0M443.9 242.9h0M466.6 242.6h0M462.3 251.8h0M462.6 239.7h0M462.6 246.4h0M464.8 238.5h0M465.4 246.8h0M456.6 242.4h0M476.3 244.6h0M482.2 244.3h0M481.2 301.5h0M484.6 293.4h0M480.2 289.5h0M476.6 288.6h0M479 292h0M478.5 286.7h0M482.2 297.5h0M472 297h0M486.9 293.7h0M489.4 296.9h0M481.4 296.7h0M481.3 284.4h0M478 283.4h0M475.9 287.6h0M486 290.9h0M477.9 292h0M485.7 289.5h0M475.8 288.2h0M483.9 283.8h0M481.2 293.4h0"/>
<path stroke="#6b9bcf" d="M392.7 255.3h0M368.1 247h0M386 254.4h0M382.8 252.8h0M402.8 256.9h0M388.2 262.2h0M393.3 243.8h0M391 251.5h0M373.3 246.8h0M370.7 237.1h0"/>
<path stroke="#d6a8c8" d="M464.4 191.1h0M461.4 194.7h0M463.2 196.8h0M450 198h0M446.8 201.7h0M461.5 218.6h0M456.6 211.4h0M466 222.1h0M462 208.3h0M453.7 225.9h0M469.3 215.3h0M456.7 225.4h0M465 223.6h0M463.9 220h0M469.9 207.1h0M471.3 209.1h0M460 206.4h0M451.1 222.3h0M461.1 205.1h0M461.7 224.1h0M467.4 224.5h0M467 217h0M470.5 220.5h0M461.4 213.2h0M462.3 209.6h0M457.5 222.6h0M465.9 223.8h0M463.2 225.1h0M453.4 226.8h0M464.8 208.4h0M467.9 214h0M457.9 217.3h0M486.3 225h0M471.8 223.1h0M478.6 238.8h0M480.3 236.5h0M475.3 239.9h0M476.9 206.7h0M482.7 209.2h0M486 221.2h0M468.5 208.9h0M476.5 205.1h0M470.8 212.6h0M480 229.9h0M507.3 205.2h0M486.3 214.9h0M500.4 223.8h0M498.7 205.1h0M501.4 203h0M497.1 211.7h0M493.5 215.7h0M492.7 199.1h0M487.8 224.8h0M494.9 228.4h0M487.7 197.4h0M490.9 223.5h0M490.1 204.6h0M498.4 217.1h0M504.5 213.6h0M493.6 217.6h0M506.5 215.9h0M506.5 213.8h0M496.2 208.6h0M490.5 208.4h0"/>
<path stroke="#48186c" d="M603.2 259.4h0M602.5 260.5h0M654.6 302.3h0M660.1 300.3h0M658.5 290.1h0M656.9 291.6h0M646.4 288.4h0M658.7 289.5h0M654.3 286.9h0M658.1 294.3h0"/>
<path stroke="#247890" d="M567.9 254.3h0M553.3 249.7h0M564.1 258.2h0M559.4 247h0M582 235.5h0M589 238.6h0M603.4 234.1h0M630.5 190.3h0M633.5 209.5h0M629 220.8h0M630.8 217.3h0M640 208.9h0M656.9 223.2h0M651.9 231.7h0M642.2 229.7h0M642.7 219.7h0M650.7 226.9h0M654.7 218.2h0M664.9 202.7h0M676.4 225.1h0M669.7 218.4h0M662.5 206h0M630.7 245.2h0M633.1 240.5h0M657.7 234.9h0"/>
<path stroke="#249090" d="M553.8 261.5h0M545 245.2h0M541.8 243.1h0M552.9 245.9h0M543.7 237.1h0M568.8 246.2h0M563.7 256.3h0M579.8 240.1h0M582.4 237.6h0M580.1 240.7h0M588.7 234h0M586.9 231.9h0M582.3 235.1h0M585 236.3h0M596.4 230.8h0M595.6 237.9h0M610.9 227.2h0M551.3 238.5h0M637.4 191.1h0M639.4 201.7h0M632.6 200.1h0M628.6 196.3h0M619.5 202.1h0M620.7 200h0M628.6 228.6h0M644.7 212.2h0M637.3 225.9h0M636.3 213.9h0M637.9 206.6h0M643.3 207.9h0M623.7 226.7h0M659.1 223.1h0M653.9 226.6h0M650 205.6h0M639.8 216.5h0M658.1 232h0M641.8 226.8h0M645 207.3h0M655.6 228.1h0M658.2 214h0M652.8 224.6h0M648.8 240.3h0M671.2 229.1h0M679.6 213.4h0M678.9 213.6h0M672.3 211.5h0M670.7 194.8h0M671.3 210.7h0M641.3 246.7h0M646.2 243.4h0M618.2 251.4h0M618.3 247.2h0M627.6 235.2h0M655 249.7h0M647.4 237.8h0"/>
<path stroke="#481860" d="M601.3 254.4h0M657.4 289h0M659.2 285.7h0"/>
<path stroke="#483078" d="M566.5 257.4h0M554.3 244.8h0M560.7 249.6h0M538.6 244.5h0M536.8 248.8h0M572.2 246.8h0M567.6 252.8h0M543.2 236.8h0M618.6 227.2h0M596.3 253h0M603 261.8h0M602.8 260.7h0M598.6 261.9h0M640.7 193.4h0M633.9 207.7h0M641.6 209.9h0M634.4 216.7h0M645.7 236h0M648.4 234.2h0M657.2 226.1h0M656.1 205.3h0M681.8 208.8h0M659.5 230.4h0M663.3 206.6h0M660.7 224.4h0M645.9 245.3h0M639.4 234.5h0M632.3 252.2h0M649.1 289.5h0M647.5 295.1h0M651.5 286.7h0M652.3 290.7h0M650.1 298.2h0"/>
<path stroke="#48246c" d="M599.8 256.9h0M600 253.5h0M657.3 299.2h0"/>
<path stroke="#483c84" d="M559.5 248.3h0M573.9 250.9h0M556.7 255.7h0M545.6 242.2h0M595.1 241.7h0M604.5 258.8h0M643.4 207.4h0M647.6 213.5h0M659.3 228h0M640.1 219.2h0M651.2 242h0M655.7 209.2h0M683.4 219.9h0M665.8 210.4h0M669.4 229.6h0M675.9 220.8h0M616.9 242.4h0M629.2 233.6h0M637.2 244.3h0M651.6 286h0"/>
<path stroke="#249c90" d="M641.7 215.8h0M642.4 229h0M635.3 243.4h0"/>
<path stroke="#249c84" d="M536.8 244.5h0M543.1 245.5h0M540.3 242.8h0M563.5 244.9h0M559.7 251.1h0M570.4 255.5h0M570.6 248.5h0M572.9 251.9h0M604.5 230.3h0M559.8 240h0M632.4 199.3h0M636.2 196.8h0M638.8 192.4h0M629.6 190.5h0M624.1 222.3h0M632.3 206.9h0M639.9 223.3h0M625.3 225.9h0M659.3 225h0M653.8 219.9h0M648.3 239.9h0M647.8 213.9h0M657.3 228.2h0M667.1 210.2h0M680.3 205.2h0M669 202.1h0M659.9 197.7h0M663.1 211.4h0M675.8 210.3h0M663.6 202.4h0M666.6 217.6h0M664.7 194.9h0M645.7 240.5h0M630.4 250.3h0M642.9 234.6h0M647.9 247.8h0M627.9 254.6h0M653.9 248.8h0"/>
<path stroke="#3c3c84" d="M568.6 258.7h0M554.4 252.4h0M537.3 246.3h0M666 216.5h0M660 222.4h0M643.4 238.9h0M633.3 237.1h0"/>
<path stroke="#306c90" d="M546.3 252.5h0M560.2 259.6h0M571.5 257.7h0M566.3 243.8h0M538.2 245.3h0M567.1 246.3h0M587.6 241.6h0M589.5 236.3h0M556.3 236.1h0M551.2 238.7h0M637.5 195.8h0M631.6 194.3h0M640.1 188h0M628.7 216.3h0M642.1 208h0M664.5 192.5h0M663.4 213.2h0M679.5 218.9h0M673.3 202.5h0M661.2 225.6h0M682.8 212.5h0M662.7 203.7h0M680.4 222.1h0M675 212.4h0M666.1 209.4h0M669.6 197h0M645.1 236.3h0M633.4 244h0M635.5 247.5h0M650.1 234.6h0M647.6 240.7h0M649.4 237.7h0M649.5 234.9h0"/>
<path stroke="#3c5484" d="M541.1 247h0M555.7 255.6h0M555.6 240.9h0M552.4 261.4h0M562.7 245.8h0M549.9 253.3h0M636.6 186.2h0M632.9 201.3h0M631.8 212.4h0M658.1 210.6h0M657.2 226.2h0M660.5 208.8h0M676.1 214.2h0"/>
<path stroke="#480c60" d="M600 254.1h0M654.7 302.8h0"/>
<path stroke="#482478" d="M563.7 256.1h0M560 261.7h0M555.8 258.3h0M542.2 254.5h0M561.3 243.3h0M537.9 250.2h0M580.1 235.8h0M599.8 257h0M601.2 266.9h0M598.8 265.4h0M625.3 215.9h0M644.7 212.2h0M651.1 223.6h0M675.4 217.6h0M680.2 208.4h0M661 228.2h0M671.7 195.2h0M671.1 219.9h0M678.4 212.4h0M630.8 245h0M652.7 239.1h0M658 301h0M647.4 288.4h0M651.8 305.3h0M657.4 298.6h0M653.7 286.9h0M654.8 287.7h0M646.5 299.4h0M653.3 288.3h0M651 283.4h0M652.5 290.8h0M651.8 286.1h0M658.9 297h0M645.8 296.2h0M654.7 302.4h0M655.8 283.4h0M658.2 303.5h0"/>
<path stroke="#3c5490" d="M556.9 244.1h0M575.4 257h0M562.9 246.9h0M544.5 241.9h0M562.2 260.3h0M578.8 237.8h0M572.6 229.9h0M603.2 231.5h0M623.7 218.9h0M643.7 226.6h0M659.4 209.2h0M644 235.7h0M672.9 217.4h0M666.7 229.1h0M673.8 213.5h0M677.9 214.2h0M670.1 223h0M666.3 222.5h0M680.8 219.4h0M626.6 234.7h0M652 235.8h0M655.9 248.8h0"/>
<path stroke="#307890" d="M555.8 252.8h0M551.2 239.9h0M549.1 240.3h0M569.9 254.4h0M542.1 247.7h0M540.9 238.5h0M538.3 239.2h0M587 240.5h0M598.3 250.4h0M596.6 241.6h0M622 226.4h0M627.3 216h0M643.1 224.3h0M640.4 224.5h0M646.6 227.5h0M644.8 212.6h0M652.7 233.4h0M680.2 219.4h0M678.1 204.8h0M673.2 227.9h0M661.6 226.7h0M670 222.8h0M627.8 237.2h0M632.5 234.9h0M637.5 241.3h0M660.2 240.6h0"/>
<path stroke="#248490" d="M565.7 255.3h0M543.2 250.5h0M562.6 252.7h0M554 255.2h0M572.4 249h0M558 248.3h0M554.9 239.1h0M554.3 248.5h0M558.6 258h0M552.3 259.5h0M555.4 244.3h0M557.8 253.1h0M585.6 236.1h0M588.9 241.3h0M573.2 244.5h0M600.3 248h0M635.1 188.9h0M635.5 199h0M634.4 192.9h0M635.6 219.4h0M635.6 220.3h0M641.6 218.7h0M641.8 228.3h0M642.3 215.3h0M624.9 226.6h0M641.1 214.3h0M651 223.4h0M657.1 238.3h0M653.3 236.5h0M648.1 231.4h0M649.8 229h0M655.1 224.9h0M644.5 214.4h0M644.2 236.1h0M659.7 227.7h0M676 225.9h0M664.4 203.4h0M659.9 222.3h0M676.2 201.9h0M664.6 215.2h0M659.6 226.3h0M661.7 193.9h0M656.5 211.4h0M672.3 220.7h0M672.5 200.2h0M679.8 215.8h0M684 216.3h0M672.5 210.9h0M672.8 206h0M669.2 208.6h0M658.1 217h0M623.8 240.4h0M628.2 241h0M639.3 244.1h0M655.2 244.3h0"/>
<path stroke="#483084" d="M556.2 240h0M545.7 242.1h0M586.1 241.7h0M582.2 236.9h0M581.7 236h0M629.8 201.2h0M629.5 224.6h0M669.2 211.9h0M644.8 247.2h0M643.7 238.4h0M633 240.5h0M652 292h0M645 297h0"/>
<path stroke="#3c4884" d="M556.2 245.9h0M549.2 245h0M556.6 243.3h0M548.4 247h0M567.4 250.1h0M569.5 256.3h0M547.9 258.4h0M544.1 245.5h0M587.1 240.2h0M632.1 197.1h0M637.1 225.5h0M623.1 221.7h0M642.4 227.2h0M643.5 220.5h0M654.6 212.8h0M654.3 221.1h0M648.3 222.4h0M667.9 203.2h0M661.1 217.3h0M672.3 200.5h0M682 211.9h0M669.4 232.6h0M663.9 192h0M639.6 242.6h0M624.9 248.4h0M635.6 239.7h0M653.6 231.4h0M648.7 246h0"/>
<path stroke="#483084" d="M541.3 246.7h0M600.4 259h0M604.5 261h0M600.2 267.7h0M638.2 191h0M640.5 225.4h0M661.1 204.2h0M631.6 234.8h0M638 241.8h0M649.4 304.6h0"/>
<path stroke="#249090" d="M554.6 250.3h0M549.9 246.3h0M563.4 251.3h0M563.1 241.7h0M560.5 253.6h0M543.2 246.6h0M552.9 254.5h0M550.9 262.6h0M548 258h0M547.3 259.6h0M555.1 251.6h0M583.8 236.7h0M583.9 235.7h0M592.6 237.1h0M571.4 230.7h0M598.6 231.7h0M601.5 232.9h0M615.9 225.5h0M597.9 237.4h0M575.8 242.7h0M596.8 242.1h0M629.2 199.9h0M631.7 189.1h0M631.4 190.4h0M631.3 195.1h0M631.6 198.2h0M636.8 190.5h0M643.1 194.2h0M639.3 197.5h0M623.3 203h0M623.7 201.4h0M637.8 210.5h0M638.4 221.7h0M634.4 213.2h0M639.1 210.5h0M657 219.2h0M640.8 222.5h0M644.8 223.1h0M659.6 212.6h0M650.4 207.6h0M656.4 222.8h0M641.5 208.9h0M666.7 201.5h0M671 222.3h0M661.9 197h0M660.8 194.7h0M666.5 215.7h0M669.6 209.5h0M677.7 218.4h0M674.7 203.4h0M670.2 222.4h0M660.4 230.6h0M671.4 217.1h0M665.4 222.2h0M668.8 221.9h0M656.9 228.3h0M662.1 209.9h0M620.9 247.4h0M626.8 253.8h0M621.9 242.7h0M632.3 239.7h0M638.4 246.8h0M650.6 245h0"/>
<path stroke="#247890" d="M540.1 240.7h0M546.2 244.7h0M552 253.8h0M582.4 235.2h0M581.7 233.8h0M577.2 238.6h0M576 230.1h0M601.8 231h0M593 249.2h0M635.4 197.8h0M620 197.9h0M639 211.9h0M631.8 228.9h0M626.7 225.9h0M651.2 223.5h0M656.2 222.8h0M651.7 236.8h0M646.8 220.8h0M649.2 226.6h0M660.8 224.8h0M672.5 217.6h0M667.6 225.8h0M665.2 209.4h0M671.3 215.9h0M675.6 225.3h0M666 194.9h0M680.7 218.1h0M627.8 252.1h0M624.5 253.1h0M633.3 232.5h0M640.6 238.6h0M636.6 250.8h0"/>
<path stroke="#3c3c84" d="M573.3 248.8h0M542.1 253.4h0M631.8 223.3h0M666.6 214.3h0"/>
<path stroke="#480c60" d="M652.7 292.1h0M645.9 297h0"/>
<path stroke="#3c4884" d="M542.6 243.1h0M576.9 251.3h0M564.6 247.3h0M540.8 251.3h0M574.1 251.7h0M564.7 250.4h0M541.5 250.3h0M584.9 233.2h0M572.8 242.5h0M593.1 242.4h0M639.3 210.5h0M644.7 211.8h0M642 211.5h0M631.6 220.4h0M656.6 232.3h0M651.2 206.5h0M651.1 234.9h0M646.6 233.3h0M658 229.1h0M666.7 223.6h0M670.5 200h0M666.1 221.4h0M657.3 213.6h0M666.7 199.3h0M678 203.1h0M668.2 219.5h0M665.9 198.6h0M625.2 246.7h0M630.5 248.4h0M638.5 245.4h0M650.7 249.7h0M654.2 232.7h0"/>
<path stroke="#481860" d="M600.9 255.4h0M655.1 304.1h0"/>
<path stroke="#483c84" d="M559.5 262h0M559.6 259.2h0M543.9 250.8h0M557.2 262h0M556.9 250.6h0M566.4 254.3h0M570.7 254.4h0M542.5 245h0M569.5 256.6h0M541.6 247.9h0M544 254.1h0M584.9 238.2h0M637.2 194.5h0M654.2 233.2h0M657.2 219.8h0M655.3 232h0M667.5 212.4h0M662.6 195.5h0M668.6 219.9h0M669.2 200h0M643 248.3h0M646.1 288.5h0M649.6 288.6h0"/>
<path stroke="#48186c" d="M600.3 261.4h0M601.2 268h0M648.3 295.2h0M656.5 294.1h0M649 288.9h0M649.8 289h0M651.1 294.4h0M648.4 304.3h0"/>
<path stroke="#249c90" d="M591.1 237h0M596.1 234h0M642.9 192.5h0M644.8 213.2h0M660.8 222.9h0M664.9 225.7h0"/>
<path stroke="#48246c" d="M655.2 297.5h0M656.6 302.8h0M650.9 292h0"/>
<path stroke="#248490" d="M554.5 241.6h0M541.7 236.3h0M553.6 254.2h0M557.9 248.8h0M554.6 255.9h0M559.7 246.2h0M564.8 260.5h0M569.8 257.1h0M551.7 259.3h0M592.7 238.7h0M588.9 241.7h0M587 234.7h0M578.7 240.2h0M586.2 235.6h0M573.4 230.8h0M570.5 229.9h0M598.5 252.1h0M629 195.3h0M631.9 189.1h0M634.4 194.7h0M629.1 192.7h0M622.9 200.1h0M638 223.6h0M628.6 209h0M636.6 224.2h0M642.8 224.3h0M633.8 204h0M640.9 214h0M658.3 238.6h0M650 217.9h0M656 217.9h0M653 217.5h0M658 233.8h0M654.1 210.1h0M675.6 213h0M661 197.5h0M663.7 205.5h0M670.6 226.5h0M667.9 228.4h0M671 226.6h0M663.9 223.5h0M679.5 215.9h0M674.3 213.8h0M660.1 235.9h0M678.4 224.8h0M649.9 247.8h0M653.5 241.8h0M629 250.5h0M638.1 240.3h0M623.2 244.9h0M632.6 236.2h0M627.3 249.3h0M632.6 232.7h0M643.8 242.6h0M627.6 239.8h0M635.3 252.7h0"/>
<path stroke="#306c90" d="M554.5 246.1h0M571.8 255.6h0M546.9 257.3h0M567 256.1h0M563.4 243.2h0M619.7 201.8h0M641.6 223.7h0M636 222.4h0M636.2 225.1h0M645.8 213h0M642.9 211.2h0M659.3 214.9h0M677.5 217h0M666.1 222.9h0M676.2 228.4h0M668.7 216.4h0"/>
<path stroke="#483078" d="M547.3 241.7h0M565 245.2h0M550.8 258.9h0M568.1 248.2h0M573.8 246.5h0M581 240.7h0M583.8 236.3h0M599.7 234.1h0M600.4 258.7h0M599 256h0M602.9 255.2h0M601.3 258h0M639.6 224.4h0M635.8 219.6h0M654.2 222.4h0M648 213.8h0M641.3 215.4h0M645.4 211.3h0M646.6 236.7h0M643.8 212.6h0M665.9 211.7h0M677.1 202h0M667.5 231.9h0M636.9 244.2h0M632.1 246.6h0M655.1 248.8h0M658.9 296.8h0M654.2 301.5h0M659.8 300.1h0M656.7 289.3h0M652.9 294.1h0"/>
<path stroke="#482478" d="M544.7 255.8h0M562.9 252.8h0M541.3 252.6h0M563.8 256h0M559.7 249.5h0M610.4 230.6h0M565.2 239.9h0M600.8 251.6h0M601.7 254.6h0M598 260.2h0M628.1 212.7h0M634.1 205.1h0M639.7 224h0M650.5 222.2h0M648.1 211.2h0M680.2 214.2h0M627.2 252.9h0M636.8 247h0M655.6 287h0M646.9 291.1h0M650.7 289.3h0M651.8 303.7h0M655 282.5h0"/>
<path stroke="#3c5484" d="M564.1 245.1h0M549.4 245.4h0M584.2 234.5h0M613.4 228h0M604.1 231.6h0M601.8 248.5h0M641.1 192.4h0M644.5 210.7h0M627 217.6h0M668.3 207.5h0M677.8 209.7h0"/>
<path stroke="#307890" d="M551 260.9h0M560.3 257.2h0M572.3 252.2h0M545.3 254.8h0M549.1 261.6h0M580.9 234.5h0M582.8 242h0M577.4 239.1h0M612.4 229.5h0M604.4 232.3h0M601.1 235.7h0M606.9 227.6h0M600.9 243.9h0M637.4 201.6h0M632.5 189.7h0M620.2 203.8h0M639 222.1h0M635.1 228.4h0M636.9 220h0M657.9 238.9h0M648.6 217.8h0M651.6 238.8h0M655.3 216.4h0M659.6 217.2h0M659.7 230.4h0M667.5 209.6h0M663.3 218.7h0M675.5 206.4h0M669.5 212.8h0M664.4 199.1h0M661.7 205.7h0M625.5 241.4h0M631.9 249.8h0M637.6 242.2h0"/>
<path stroke="#249c84" d="M540 251.7h0M566.6 253.3h0M541.1 233.8h0M542 246.2h0M543.9 241.8h0M576.4 252.7h0M546.3 243.3h0M563.3 260.3h0M536.9 241h0M581.8 237.4h0M580 238.9h0M585.5 233.4h0M612 225.3h0M568.1 242.8h0M599.6 244.6h0M602.5 247.4h0M628.6 197.1h0M637.5 196.7h0M631.9 202.3h0M622.7 202.3h0M619.8 201.7h0M641.6 208.8h0M629.6 211.4h0M625.6 221.5h0M636.4 227.1h0M638.9 223.8h0M653.4 226.3h0M651.6 210.7h0M649 231.8h0M640 221.5h0M654.8 233.1h0M678.1 203.5h0M663.7 198.3h0M669.4 202.2h0M674.3 211.3h0M665.4 226.4h0M660.7 209.9h0M681.5 216.7h0M669.3 194.9h0M670.4 213.8h0M660.7 224.3h0M667.6 197.1h0M664.5 199.5h0M663.3 206.4h0M648 239.6h0M647.3 244.6h0M625.9 245.6h0M641 251.4h0"/>
<path stroke="#3c5490" d="M542.1 239.1h0M558.8 245.3h0M561.9 251.9h0M562.1 252.3h0M602.6 231.6h0M570.9 241.1h0M636.9 196.1h0M628 191.3h0M628.3 226.4h0M641.2 204.5h0M628.3 221.7h0M630.5 222.6h0M671.7 205.1h0M680.9 219.7h0M674.4 203h0M669.1 231.6h0M658.1 238.6h0"/>
<path stroke="#480c60" d="M601.6 258.2h0M602.4 258.6h0M600.2 265.3h0M646.8 289.4h0"/>
<path stroke="#48246c" d="M598.8 264.9h0M656.4 295.5h0M652.2 294h0"/>
<path stroke="#249090" d="M561.5 243.9h0M568.9 248.5h0M559.8 257.9h0M537.8 244.1h0M548.9 250.8h0M556.1 256.1h0M540.8 245.8h0M542.4 251.8h0M556.7 257.7h0M551.7 245.6h0M540.5 234.5h0M567.4 244h0M574.7 252.2h0M587.7 236.3h0M581.2 240h0M581.4 237h0M587.8 234.2h0M581.4 228.6h0M616.8 229.4h0M601.6 246.4h0M640.1 191.6h0M631.4 197.4h0M639.5 191.3h0M638.4 195.3h0M619.4 197.6h0M626.8 218.7h0M636.1 220.3h0M630 216.2h0M633.8 221.2h0M644.2 211.2h0M635.3 209.6h0M628.2 218.2h0M633.9 209.8h0M625.4 212.5h0M656.9 239.3h0M658.7 211.9h0M643.2 233.7h0M650.3 219.1h0M656 215.5h0M656.6 228.6h0M665.1 229.9h0M681.5 222.7h0M677.8 214.6h0M669.2 218h0M660.4 234.1h0M670.3 216.1h0M661.3 215.3h0M661 228.6h0M661.1 222.7h0M661.6 198.2h0M669.4 209.5h0M661 224.1h0M662.8 197h0M671.4 223.7h0M668.8 206.8h0M664.9 219.3h0M660.1 203.6h0M662.3 217.3h0M673.5 213.4h0M662.6 207.2h0M627 249.4h0M616.9 242.9h0M619.1 242.4h0M655.7 239.9h0M629.7 251h0M625.7 232.9h0M628.1 251.7h0M649.7 233.9h0"/>
<path stroke="#483c84" d="M558.3 258.2h0M549.8 242.5h0M556.8 259.2h0M558.4 257.2h0M561.9 247.9h0M573.7 252.1h0M581.3 235.9h0M571.5 231.8h0M613.3 229.1h0M637 190.6h0M637.5 199.7h0M624.5 224.7h0M627.3 220.7h0M637.3 223.3h0M640.2 224.6h0M646.5 216h0M652.5 227.2h0M663 229.7h0M670 216.8h0M671.5 218.9h0M647.6 238.9h0M636.6 245.6h0M655.7 234.8h0M649.8 288.1h0"/>
<path stroke="#3c3c84" d="M618.4 200.3h0"/>
<path stroke="#307890" d="M554.4 239.6h0M545.4 253.9h0M554.8 248.4h0M540.7 246.3h0M542.2 242.3h0M552.3 262.4h0M580.8 238.7h0M576.4 230.2h0M629.3 194.1h0M640.5 195.1h0M622.5 195.6h0M627.1 216.7h0M630.9 217.3h0M646.3 218.3h0M657.8 213.7h0M657 215.1h0M667.5 193.1h0M673.3 226.2h0M658.9 206.5h0M677.5 213.6h0M680.2 215.9h0M668 217.6h0M672.8 216.7h0M628.9 239.2h0M653.8 234.1h0M657.5 236.8h0"/>
<path stroke="#48186c" d="M601.8 260.7h0M602.3 263.4h0M657.9 300.4h0M661.9 298.5h0M653.6 292.1h0M648.1 301.5h0M647.6 286.9h0M647.9 296h0M648.9 287.6h0M659.6 295.4h0"/>
<path stroke="#306c90" d="M550.9 259h0M565.8 250h0M556.1 264.3h0M541.5 237.8h0M564.6 248.8h0M557.5 260.5h0M584.5 238.3h0M595.4 230.5h0M609 228.2h0M599.4 231.7h0M594.1 245.2h0M595.3 250.2h0M638 192.2h0M632.3 201h0M625.9 217.1h0M643.4 207.6h0M650.4 240.9h0M664 232.1h0M676.7 212.1h0M667.5 228h0M637.8 239.1h0M631.8 235.9h0M626.8 250.7h0M630.4 245.1h0"/>
<path stroke="#483078" d="M573.8 250.7h0M602.2 231.4h0M602.2 257.6h0M601.9 260.4h0M602.9 257.2h0M601.1 258.1h0M604.9 258.2h0M598.3 261.3h0M601.6 265.1h0M602.5 266.7h0M603.2 263.6h0M598.5 267.2h0M623.7 221h0M629.7 225.4h0M628.5 214.9h0M656.9 208.6h0M663.1 225.5h0M669.2 203.5h0M660.8 226h0M627.9 235.3h0M631.3 248.3h0M650.4 249.2h0M659.9 293.7h0M652.8 303.2h0M653.1 294.4h0M657.6 285.6h0M654.2 293.4h0"/>
<path stroke="#247890" d="M553.8 251.3h0M552.8 241.1h0M543.2 233.9h0M559.3 252.2h0M567.6 246.3h0M572.4 246h0M553.7 252.7h0M548.2 243.1h0M588.8 235.8h0M586.6 239.8h0M584.8 235.6h0M584.2 238.6h0M580.6 230.1h0M610 232.1h0M597.1 252.4h0M635.6 199.5h0M636.1 197.3h0M634.4 203.5h0M628.5 219.8h0M632.5 221.6h0M651.5 213.5h0M649 219.5h0M657.3 224h0M646.2 219.1h0M647 211.3h0M681.7 219.4h0M673.4 223.8h0M660.3 199.1h0M665.1 194.7h0M674.1 199.6h0M658.9 204.9h0M662 212.7h0M639.5 251.7h0M626.7 241.8h0M625.5 244.5h0M618.4 242.9h0M639.6 240.5h0M651.6 246.2h0"/>
<path stroke="#3c5490" d="M551.5 260.4h0M555.5 246.8h0M551.5 252.4h0M549 252.7h0M595.1 253.7h0M642.9 191.8h0M634.1 222.6h0M657.6 231.5h0M647.3 224.5h0M646.5 223.9h0M653 229.9h0M663 222h0M659 226.8h0M675.6 206.4h0M640.3 248.4h0"/>
<path stroke="#3c5484" d="M555.1 245.1h0M561.7 259.2h0M564 251.5h0M649.9 206.7h0M674.7 212.8h0M669.1 204.7h0M639.1 252h0M653.7 238.5h0"/>
<path stroke="#481860" d="M649.4 284.6h0M650 289.1h0"/>
<path stroke="#249c90" d="M544.2 238.9h0M583.5 241.3h0M644.6 216.4h0M629.9 214.7h0M643.7 213.3h0M625.3 215.6h0M643.7 225.5h0M664.1 227.1h0"/>
<path stroke="#249c84" d="M561 244.3h0M565.9 246.6h0M550.8 249.1h0M544.8 238.4h0M569.2 252.1h0M546.3 250.5h0M580.8 240.1h0M590.9 239.1h0M619.4 226.7h0M553.8 236.4h0M561 240.3h0M594.3 243h0M595.8 252.5h0M597.2 252h0M639.4 197.5h0M636.7 192.4h0M637.2 190.7h0M622.9 203.8h0M631.3 223.6h0M640 217h0M630.4 221.7h0M638.1 220.2h0M630.8 210.2h0M626.4 226.8h0M637 226.6h0M642.4 223.8h0M654.2 218.2h0M651.7 216.5h0M646.8 220.1h0M656 236.6h0M654.7 236.6h0M668.4 198.1h0M663.6 232.1h0M672.3 207.5h0M659 210.3h0M659.8 233.9h0M664.8 218.4h0M660.8 209.1h0M639.8 245.8h0M639.8 248.1h0M640.9 248.8h0M622 240h0M629.1 240.4h0M649.3 248h0M653.3 232.7h0"/>
<path stroke="#483084" d="M583.9 239.7h0M637.4 208.1h0M639 219.2h0M663.8 212.2h0M625.5 240.4h0M651 300.4h0M655.2 299.3h0"/>
<path stroke="#248490" d="M565 250.4h0M554.5 258h0M544.7 237.2h0M549.6 256.6h0M545.9 243.7h0M564.9 247.2h0M556.1 250h0M563.5 252.3h0M551.7 251.7h0M587 241.7h0M587.1 237.1h0M587.3 241.5h0M583.5 234.4h0M583.1 235.7h0M579.4 231.8h0M573.3 230.5h0M610.7 227.5h0M612.9 230h0M601.9 234h0M602.7 232.3h0M595.6 235.5h0M605.3 229h0M605.6 228.1h0M559.3 239h0M640.3 188.8h0M639.5 190h0M640.2 191.6h0M635 198.8h0M639.6 211.1h0M636.9 212.9h0M631.1 221.7h0M642.9 207.1h0M638.3 222h0M623.2 225.3h0M632.4 221.4h0M639 219.1h0M645.9 225.7h0M656 212h0M641.3 228.3h0M651.3 226.1h0M659.4 233.1h0M658.2 225.4h0M653.2 238.8h0M647.9 209.8h0M649.4 219.4h0M672.2 226.8h0M680.1 210h0M675.8 226h0M663.7 208.3h0M664.8 216.7h0M664.8 213.6h0M660.1 215.7h0M666.5 203.9h0M667.4 205.9h0M670.7 194.1h0M631 236.4h0M622.7 238.6h0M648 244.2h0M639.1 241.1h0M637.4 240.2h0M653 241.9h0"/>
<path stroke="#482478" d="M559.9 261.6h0M554.8 251h0M556.2 257.1h0M552.5 241.6h0M583.2 233.1h0M585.9 242.5h0M598.3 259.6h0M598.6 257.4h0M600.8 260.7h0M600.2 256.7h0M599.5 263.9h0M600.8 267.5h0M629.5 222.8h0M626.5 224.7h0M657.9 234h0M650.7 214.1h0M650.8 214.5h0M668.4 212.7h0M634.2 242.8h0M629.6 245.7h0M652.8 297.7h0M654.8 288h0M656.9 283.8h0"/>
<path stroke="#3c4884" d="M540.4 250.8h0M551.3 252.9h0M553.5 259.5h0M547.5 238.2h0M560.3 252.3h0M550.8 261.8h0M571.6 252h0M560 249.5h0M548 245.2h0M566.6 259.1h0M562.1 253.8h0M566.4 250.8h0M546.5 246.1h0M543 237.8h0M576.1 250.3h0M565.1 245.7h0M621.4 202.7h0M624.2 228.5h0M634.5 218.6h0M644.3 209.1h0M642.6 224.5h0M630.3 210.3h0M640.6 210.8h0M648.7 237.4h0M649.9 230.2h0M664.5 197h0M671.1 226.9h0M665.7 199.1h0M683.1 212.3h0M672.8 214h0M675.8 224.1h0M673 215.3h0M625.1 242.8h0M622.3 243.7h0M657.9 242.8h0M654.6 243.4h0"/>
<path stroke="#248490" d="M559 254.4h0M553.1 246.5h0M557.5 249.8h0M556.9 246.2h0M555.9 261.8h0M553.3 252.4h0M548.1 248.3h0M546.6 248.1h0M546.8 259.3h0M557.6 251.3h0M570.9 253.7h0M560.2 243.4h0M564.4 256.3h0M556.6 246h0M567.3 256.4h0M564.5 247.9h0M553.1 250.7h0M591 234.2h0M578.3 235.8h0M591.9 236.3h0M586.5 236.7h0M584.1 239.6h0M579.9 238.1h0M570.6 231.4h0M570.3 230.4h0M598.1 235.4h0M605.4 228.9h0M614.3 223.3h0M593.5 248.9h0M635.4 187.8h0M631.5 190.7h0M622.3 198.4h0M619.5 199.7h0M632.7 228.4h0M633.4 212.4h0M636.5 216.5h0M627.6 218.5h0M634.7 224.1h0M629 212.7h0M650.7 242.8h0M655.9 214.4h0M648.5 228.9h0M652.5 225.5h0M659.9 218.8h0M649.5 205.1h0M673.8 205.6h0M682.9 210.3h0M661.4 230h0M663.2 229.2h0M659.5 211h0M658.6 209.5h0M660.7 209.1h0M663.6 227.9h0M661.1 214.9h0M672.8 220.9h0M668.9 231.5h0M661.2 220.2h0M665.8 220.1h0M643 246.3h0M634.2 246.8h0M630.3 248.2h0M645.1 241.9h0M627 241.8h0M656 237.9h0"/>
<path stroke="#3c5490" d="M581.1 235.5h0M609.1 227.3h0M631.2 211.8h0M643.1 224.3h0M638.2 214.9h0M657.6 230.3h0M656.8 235.1h0M669.2 224.7h0M672 225.6h0M660.8 229.2h0M671.4 225.1h0M670.2 222.1h0M630.8 238.3h0M626.7 249.6h0M630.5 238h0M635.6 246.4h0M634 246.6h0M659.7 240.2h0"/>
<path stroke="#3c3c84" d="M545.7 246.1h0M572 246h0M599.2 233.3h0M641.1 223.3h0M659.1 216.6h0M670.7 210.4h0"/>
<path stroke="#3c4884" d="M540.7 241.5h0M540.6 237.9h0M556.4 252.9h0M550.3 254.1h0M549.2 239.8h0M540.3 238.5h0M560.1 246.7h0M541.5 246.7h0M540.5 250.9h0M556.6 250.5h0M553.4 242.9h0M540.6 234.3h0M567.4 258h0M557.7 243.9h0M591.6 234.9h0M600.8 251.1h0M628.1 196.4h0M623 198h0M632.4 208.4h0M630.9 211.6h0M635.9 226.7h0M627.6 220.5h0M624.7 215.6h0M646.6 235.6h0M657.5 220.8h0M661.1 226h0M672.4 224h0M675.9 222.8h0M666.2 233h0M665.5 197.2h0M679.4 219.5h0M665.5 207.1h0M632.8 239h0M635.9 244.7h0M635.3 251.8h0M625.3 250h0M637.1 240h0M640 240.1h0M649.6 241.9h0M650.8 251.2h0"/>
<path stroke="#249c84" d="M543.4 245.6h0M554.4 242.1h0M565.8 254.4h0M548.1 239.6h0M537.6 241.5h0M561.2 262.2h0M545.1 254.5h0M560.8 250h0M549.6 238.4h0M550.1 256.5h0M554.4 245.6h0M540.1 248.7h0M550 256.2h0M537.7 248h0M586.3 237.1h0M585.9 238h0M586.4 242h0M579.9 239.7h0M581.2 237.1h0M618.7 225.5h0M610.6 228.9h0M561.8 243.1h0M591.4 245.1h0M592 249.7h0M639.7 191h0M635.9 201.1h0M632.9 225h0M634.2 206.5h0M640.9 216.4h0M640 226.4h0M640.2 214.9h0M626.7 218.4h0M636.5 213.8h0M626.9 221.3h0M645.8 213.8h0M651.2 208.5h0M645.4 206.7h0M659.7 213h0M648.1 237.7h0M647.6 241.9h0M642.5 234.6h0M668.9 200.9h0M674.7 208.7h0M683.8 209.8h0M668.3 199.9h0M674 219.2h0M662.2 231.6h0M660.7 197.4h0M668.7 226.9h0M665.9 198.3h0M679.7 206.9h0M671.2 220.9h0M664.7 217.5h0M620.3 239.9h0M628.3 247.8h0M621.3 251h0M639.4 243.4h0M630.3 246.3h0M629.6 242.4h0M654.5 238.8h0"/>
<path stroke="#249090" d="M565.9 256h0M551.2 248.2h0M556.8 257.3h0M574.5 254.6h0M555.7 257.7h0M566.2 245.9h0M538.9 239.1h0M559.8 262.2h0M572.3 247h0M548.6 254.1h0M581.8 233.9h0M577.9 238.5h0M593.2 237.3h0M582.1 238.3h0M609.9 230.8h0M616 225.7h0M615.8 224h0M592 245.8h0M590.5 247.6h0M632 187.8h0M637 188.2h0M630.4 191.3h0M631.9 197.9h0M632.5 200.3h0M620.9 201.9h0M619.2 199h0M637.1 214.8h0M644.6 210.1h0M632.3 209.4h0M635 208.3h0M633 206.4h0M634.6 208.3h0M625.4 224.2h0M636 210.4h0M628 224.3h0M652.8 213.4h0M652.5 236.6h0M642.5 210.7h0M654.5 221.7h0M653.8 229.7h0M642.7 209.8h0M659 221.2h0M645.1 208.3h0M663.5 202.8h0M669.8 212.5h0M661.9 204.5h0M662 196.6h0M667.5 212.3h0M663.8 221.2h0M667 232.4h0M678 222.9h0M674.2 209.7h0M669.4 215.8h0M674 214.3h0M661.5 222.4h0M661.3 226.1h0M679.7 216.8h0M659.6 214.6h0M665.2 206.1h0M634 250.7h0M636.5 252.5h0M641.6 235.3h0M623.6 245.7h0M629.5 251h0M637.8 238.5h0M635.3 240.1h0M633 244.2h0M653.7 249.4h0"/>
<path stroke="#3c5484" d="M576.2 251h0M554.4 243.4h0M561.1 255.6h0M539.5 234.7h0M551.1 261.1h0M583.5 242.7h0M555.1 238.3h0M556.7 237h0M631.1 221.2h0M657.7 211.6h0M661.6 200.2h0M677 200.2h0M668.6 214.7h0M617.8 236.6h0"/>
<path stroke="#482478" d="M540 247.1h0M550.8 246h0M564.3 245.1h0M578.7 236.7h0M608 235h0M601.6 258.5h0M599.2 261.1h0M640.2 191.5h0M644.3 209.3h0M655.2 236.1h0M642.2 228h0M659.1 206.4h0M668.7 204.1h0M669.8 220.3h0M682.2 211.9h0M679.8 220h0M670.7 214.1h0M649.3 244.6h0M646 295.6h0M653.2 289.5h0M657 289.3h0M658.9 292.1h0M659 290.9h0M647.9 285.7h0"/>
<path stroke="#307890" d="M564.3 257h0M570.8 255h0M561.6 258.6h0M565.2 246.7h0M544.7 257.1h0M552.4 259.8h0M546.3 246.8h0M540.2 243h0M559.8 255.8h0M565.8 252.3h0M542.6 241.2h0M559.5 256.2h0M582.9 238.4h0M587.2 238.9h0M593.2 237.5h0M578.6 238.5h0M636 199.7h0M620.3 196.9h0M641.4 205.3h0M641.1 220.4h0M625.6 220.1h0M627.6 215.9h0M630.9 224.5h0M658 223.2h0M651.7 233.2h0M656.9 218h0M654.8 219.8h0M645.3 239.4h0M674.3 197.4h0M670.1 211.7h0M661.9 217.7h0M670.7 223.2h0M673 212.5h0M663.5 208.4h0M624 245.1h0M645.1 243.2h0M639.1 246.4h0"/>
<path stroke="#480c60" d="M597.5 255.9h0M603.9 260.1h0M598.4 266.3h0"/>
<path stroke="#483c84" d="M552.7 261.8h0M575.8 256.9h0M567.1 251.6h0M564 254h0M599.9 258.4h0M600.4 266.7h0M638.4 198.3h0M628.4 214.5h0M641.8 208.1h0M630.8 227.1h0M643.2 212.1h0M637.8 208.4h0M662.3 229.1h0M670.2 203.9h0M672.4 197.9h0M672.7 198.2h0M679.5 213.8h0M673.1 203.4h0M666.1 216.2h0M642.2 243.2h0M621.6 242.2h0M646.3 294.8h0"/>
<path stroke="#481860" d="M603.3 256.2h0"/>
<path stroke="#306c90" d="M543.2 242.5h0M581.3 237.5h0M579.3 238.1h0M578.9 231.9h0M592.6 250.5h0M640.1 198.3h0M627.4 194.7h0M634.2 201.9h0M642.6 190.9h0M622.7 202.1h0M623.1 225.9h0M647 209.2h0M651.4 204.9h0M653.8 206.4h0M651.6 204.6h0M667.5 194.9h0M658.8 224.3h0M664 217.2h0M662.2 223h0M663.1 204.6h0M662.6 193.9h0M678.1 218.3h0M664.8 234.3h0M668.9 205.4h0M661.8 214.7h0M676.1 223.3h0M630.1 245.3h0"/>
<path stroke="#483084" d="M681.4 206.5h0M676.7 209.9h0M661.4 205.5h0"/>
<path stroke="#48186c" d="M601.8 261.7h0M603.1 265.3h0M655 305h0M657.6 293.4h0M658.3 283.2h0M651.3 283.7h0M654.4 296.7h0M648.8 288.2h0M650.8 286.6h0"/>
<path stroke="#483078" d="M537.9 243.7h0M542.9 244.5h0M556.2 243.2h0M545.4 255.2h0M542.3 241.7h0M580.7 234h0M586.6 236.3h0M581.3 240.9h0M592.2 236.4h0M603.5 262h0M599.5 267.3h0M599.6 265.4h0M632 193.9h0M633.8 207.9h0M641.8 225.8h0M622.1 221.3h0M656.8 236.5h0M657.3 228.9h0M644.4 222.3h0M672.2 219.7h0M667.6 203.5h0M674.3 208.7h0M656 224h0M658.7 222h0M635 249.5h0M655.3 230.9h0M651.1 284.4h0M654.6 284.2h0M662.4 296.9h0M659.7 285.3h0M654.3 284.4h0M647.9 292.4h0"/>
<path stroke="#247890" d="M544.9 244.2h0M561.2 262.2h0M566.7 255.8h0M559 255.2h0M543.8 256.4h0M586.4 241.2h0M600.9 232.6h0M555.2 234.6h0M602.8 247.1h0M636.4 199.7h0M638.3 189h0M636.4 218.5h0M623.5 215.3h0M625.5 213.2h0M642 227.9h0M634.1 216.4h0M634.8 216.2h0M643.4 212.1h0M646.7 230.8h0M654.4 217h0M659.3 217.6h0M663.8 215.6h0M666.6 214.5h0M672 214.2h0M666.8 206.4h0M665.4 234.3h0M665.6 222.8h0M667.1 199.5h0M624.3 245.4h0M638.5 242.7h0M639.7 240.2h0"/>
<path stroke="#249c90" d="M541.9 251.5h0M654.4 238.7h0M654.1 209.7h0"/>
</g>
<text x="0.2" y="6.7" font-size="14.00" font-weight="bold" style="fill:#111">a</text>
<text x="0.1" y="175.7" font-size="14.20" font-weight="bold" style="fill:#111">b</text>
<text x="0.2" y="351.7" font-size="13.00" font-weight="bold" style="fill:#111">c</text>
<text x="499.3" y="351.6" font-size="14.20" font-weight="bold" style="fill:#111">d</text>
<text x="82.9" y="10.2" font-size="9.20" textLength="22.7" lengthAdjust="spacingAndGlyphs">FACS</text>
<text x="253.5" y="10.2" font-size="9.20" textLength="24.3" lengthAdjust="spacingAndGlyphs">Stage</text>
<text x="419.0" y="10.2" font-size="9.20" textLength="43.0" lengthAdjust="spacingAndGlyphs">Prediction</text>
<text x="594.1" y="10.2" font-size="9.20" textLength="32.9" lengthAdjust="spacingAndGlyphs">Entropy</text>
<text x="82.5" y="179.4" font-size="9.20" textLength="23.9" lengthAdjust="spacingAndGlyphs">FACS</text>
<text x="255.8" y="179.4" font-size="9.20" textLength="25.6" lengthAdjust="spacingAndGlyphs">Stage</text>
<text x="419.9" y="179.4" font-size="9.20" textLength="43.2" lengthAdjust="spacingAndGlyphs">Prediction</text>
<text x="598.2" y="179.4" font-size="9.20" textLength="33.3" lengthAdjust="spacingAndGlyphs">Entropy</text>
<circle cx="133.1" cy="16.8" r="2.15" fill="#ee7f2d"/>
<text x="139.0" y="19.1" font-size="6.50">Hhex<tspan dy="-3.1" font-size="4.3">+</tspan></text>
<circle cx="133.1" cy="24.6" r="2.15" fill="#1f70b8"/>
<text x="139.0" y="26.9" font-size="6.50">Sox2<tspan dy="-3.1" font-size="4.3">+</tspan></text>
<circle cx="133.1" cy="32.4" r="2.15" fill="#c9c9c9"/>
<text x="139.0" y="34.7" font-size="6.50">Unknown</text>
<circle cx="305.8" cy="17.3" r="2.15" fill="#ef8636"/>
<text x="311.7" y="19.6" font-size="6.50">D0_PrE</text>
<circle cx="305.8" cy="25.1" r="2.15" fill="#1a9850"/>
<text x="311.7" y="27.4" font-size="6.50">D1</text>
<circle cx="305.8" cy="32.9" r="2.15" fill="#d7282f"/>
<text x="311.7" y="35.2" font-size="6.50">D2</text>
<circle cx="305.8" cy="40.7" r="2.15" fill="#7153a6"/>
<text x="311.7" y="43.0" font-size="6.50">D3</text>
<circle cx="305.8" cy="48.5" r="2.15" fill="#7d5042"/>
<text x="311.7" y="50.8" font-size="6.50">D4</text>
<circle cx="305.8" cy="56.3" r="2.15" fill="#d77fbd"/>
<text x="311.7" y="58.6" font-size="6.50">D7</text>
<circle cx="470.9" cy="17.3" r="2.15" fill="#c48bb3"/>
<text x="476.9" y="19.6" font-size="6.50">E3.5-EPI</text>
<circle cx="470.9" cy="25.1" r="2.15" fill="#d8636b"/>
<text x="476.9" y="27.4" font-size="6.50">E3.5-PrE</text>
<circle cx="470.9" cy="32.9" r="2.15" fill="#a35b9e"/>
<text x="476.9" y="35.2" font-size="6.50">E4.5-EPI</text>
<circle cx="470.9" cy="40.7" r="2.15" fill="#d34b52"/>
<text x="476.9" y="43.0" font-size="6.50">E4.5-PrE</text>
<circle cx="18.0" cy="184.2" r="2.15" fill="#1f70b8"/>
<text x="23.9" y="186.5" font-size="6.50">Double negative</text>
<circle cx="18.0" cy="192.1" r="2.15" fill="#ee7f2d"/>
<text x="23.9" y="194.4" font-size="6.50">PDGFRA<tspan dy="-3.1" font-size="4.3">+</tspan></text>
<circle cx="18.0" cy="200.1" r="2.15" fill="#1a9850"/>
<text x="23.9" y="202.4" font-size="6.50">TROP2<tspan dy="-3.1" font-size="4.3">+</tspan></text>
<circle cx="18.0" cy="208.0" r="2.15" fill="#d7282f"/>
<text x="23.9" y="210.3" font-size="6.50">TROP2<tspan dy="-3.1" font-size="4.3">−</tspan></text>
<circle cx="18.0" cy="216.0" r="2.15" fill="#c9c9c9"/>
<text x="23.9" y="218.3" font-size="6.50">NA</text>
<circle cx="18.0" cy="223.9" r="2.15" fill="#7d5042"/>
<text x="23.9" y="226.2" font-size="6.50">Naive</text>
<circle cx="192.6" cy="187.9" r="2.15" fill="#1f70b8"/>
<text x="197.6" y="190.2" font-size="6.50">0 h</text>
<circle cx="192.6" cy="196.0" r="2.15" fill="#ee7f2d"/>
<text x="197.6" y="198.3" font-size="6.50">24 h</text>
<circle cx="192.6" cy="204.1" r="2.15" fill="#1a9850"/>
<text x="197.6" y="206.4" font-size="6.50">60 h</text>
<circle cx="192.6" cy="212.1" r="2.15" fill="#d7282f"/>
<text x="197.6" y="214.4" font-size="6.50">96 h</text>
<circle cx="363.3" cy="182.5" r="2.15" fill="#1a7f3f"/>
<text x="369.2" y="184.8" font-size="6.50">8C 3.0</text>
<circle cx="363.3" cy="190.4" r="2.15" fill="#d6a8c8"/>
<text x="369.2" y="192.7" font-size="6.50">EPI 6.0</text>
<circle cx="363.3" cy="198.3" r="2.15" fill="#b983ab"/>
<text x="369.2" y="200.6" font-size="6.50">EPI 7.0</text>
<circle cx="363.3" cy="206.2" r="2.15" fill="#f2b53a"/>
<text x="369.2" y="208.5" font-size="6.50">ICM</text>
<circle cx="363.3" cy="214.1" r="2.15" fill="#a0548f"/>
<text x="369.2" y="216.4" font-size="6.50">Late EPI</text>
<circle cx="363.3" cy="222.0" r="2.15" fill="#4c6cb0"/>
<text x="369.2" y="224.3" font-size="6.50">Morula 4.0</text>
<circle cx="363.3" cy="276.0" r="2.15" fill="#d2545c"/>
<text x="369.2" y="278.3" font-size="6.50">PrE</text>
<circle cx="363.3" cy="283.5" r="2.15" fill="#b8d4ea"/>
<text x="369.2" y="285.8" font-size="6.50">TE 5.0</text>
<circle cx="363.3" cy="291.0" r="2.15" fill="#a5c6e4"/>
<text x="369.2" y="293.3" font-size="6.50">TE 6.0</text>
<circle cx="363.3" cy="298.5" r="2.15" fill="#92b9de"/>
<text x="369.2" y="300.8" font-size="6.50">TE 7.0</text>
<circle cx="363.3" cy="306.0" r="2.15" fill="#7eaad6"/>
<text x="369.2" y="308.3" font-size="6.50">TE 8.0</text>
<circle cx="363.3" cy="313.5" r="2.15" fill="#6b9bcf"/>
<text x="369.2" y="315.8" font-size="6.50">TE 9.0</text>
<circle cx="363.3" cy="321.0" r="2.15" fill="#3f7bbf"/>
<text x="369.2" y="323.3" font-size="6.50">TE 10.0</text>
<defs><linearGradient id="vga" x1="0" y1="1" x2="0" y2="0"><stop offset="0.0" stop-color="#440154"/><stop offset="0.1" stop-color="#482475"/><stop offset="0.2" stop-color="#414487"/><stop offset="0.3" stop-color="#355f8d"/><stop offset="0.4" stop-color="#2a788e"/><stop offset="0.5" stop-color="#21918c"/><stop offset="0.6" stop-color="#22a884"/><stop offset="0.7" stop-color="#44bf70"/><stop offset="0.8" stop-color="#7ad151"/><stop offset="0.9" stop-color="#bddf26"/><stop offset="1.0" stop-color="#fde725"/></linearGradient></defs>
<rect x="694.3" y="12.4" width="3.9" height="125.9" fill="url(#vga)"/>
<line x1="698.20" y1="12.40" x2="700.40" y2="12.40" stroke="#555" stroke-width="0.60"/>
<text x="705.0" y="15.1" font-size="7.90">1.0</text>
<line x1="698.20" y1="38.09" x2="700.40" y2="38.09" stroke="#555" stroke-width="0.60"/>
<text x="705.0" y="40.8" font-size="7.90">0.8</text>
<line x1="698.20" y1="63.79" x2="700.40" y2="63.79" stroke="#555" stroke-width="0.60"/>
<text x="705.0" y="66.5" font-size="7.90">0.6</text>
<line x1="698.20" y1="89.48" x2="700.40" y2="89.48" stroke="#555" stroke-width="0.60"/>
<text x="705.0" y="92.2" font-size="7.90">0.4</text>
<line x1="698.20" y1="115.18" x2="700.40" y2="115.18" stroke="#555" stroke-width="0.60"/>
<text x="705.0" y="117.9" font-size="7.90">0.2</text>
<defs><linearGradient id="vgb" x1="0" y1="1" x2="0" y2="0"><stop offset="0.0" stop-color="#440154"/><stop offset="0.1" stop-color="#482475"/><stop offset="0.2" stop-color="#414487"/><stop offset="0.3" stop-color="#355f8d"/><stop offset="0.4" stop-color="#2a788e"/><stop offset="0.5" stop-color="#21918c"/><stop offset="0.6" stop-color="#22a884"/><stop offset="0.7" stop-color="#44bf70"/><stop offset="0.8" stop-color="#7ad151"/><stop offset="0.9" stop-color="#bddf26"/><stop offset="1.0" stop-color="#fde725"/></linearGradient></defs>
<rect x="699.0" y="182.4" width="4.2" height="125.9" fill="url(#vgb)"/>
<line x1="703.20" y1="182.40" x2="705.40" y2="182.40" stroke="#555" stroke-width="0.60"/>
<text x="709.8" y="185.1" font-size="7.90">1.0</text>
<line x1="703.20" y1="208.09" x2="705.40" y2="208.09" stroke="#555" stroke-width="0.60"/>
<text x="709.8" y="210.8" font-size="7.90">0.8</text>
<line x1="703.20" y1="233.79" x2="705.40" y2="233.79" stroke="#555" stroke-width="0.60"/>
<text x="709.8" y="236.5" font-size="7.90">0.6</text>
<line x1="703.20" y1="259.48" x2="705.40" y2="259.48" stroke="#555" stroke-width="0.60"/>
<text x="709.8" y="262.2" font-size="7.90">0.4</text>
<line x1="703.20" y1="285.18" x2="705.40" y2="285.18" stroke="#555" stroke-width="0.60"/>
<text x="709.8" y="287.9" font-size="7.90">0.2</text>
<path d="M12.9 104.2V138.8H51.0" fill="none" stroke="#4a5575" stroke-width="0.9"/>
<path d="M12.9 102.2l-2 4h4z" fill="#4a5575"/>
<path d="M53.0 138.8l-4 -2v4z" fill="#4a5575"/>
<text x="15.9" y="150.8" font-size="9.00" textLength="30.6" lengthAdjust="spacingAndGlyphs">UMAP 1</text>
<text x="9.2" y="138.6" font-size="9.60" textLength="31.8" lengthAdjust="spacingAndGlyphs" transform="rotate(-90 9.2 138.6)">UAMP 2</text>
<path d="M13.3 279.7V315.8H51.0" fill="none" stroke="#4a5575" stroke-width="0.9"/>
<path d="M13.3 277.7l-2 4h4z" fill="#4a5575"/>
<path d="M53.0 315.8l-4 -2v4z" fill="#4a5575"/>
<text x="16.3" y="327.2" font-size="9.00" textLength="30.6" lengthAdjust="spacingAndGlyphs">UMAP 1</text>
<text x="9.2" y="314.8" font-size="9.60" textLength="31.8" lengthAdjust="spacingAndGlyphs" transform="rotate(-90 9.2 314.8)">UAMP 2</text>
<text x="74.0" y="354.8" font-size="9.50" textLength="121.5" lengthAdjust="spacingAndGlyphs">Proks et al. (2023) prediction</text>
<rect x="52.60" y="368.30" width="141.74" height="19.40" fill="#b57fa4"/>
<rect x="194.29" y="368.30" width="3.71" height="19.40" fill="#d8737a"/>
<rect x="197.95" y="368.30" width="1.96" height="19.40" fill="#a35e9a"/>
<rect x="199.86" y="368.30" width="11.99" height="19.40" fill="#cf5a62"/>
<rect x="52.60" y="407.60" width="155.75" height="19.50" fill="#b57fa4"/>
<rect x="208.30" y="407.60" width="1.48" height="19.50" fill="#d8737a"/>
<rect x="209.73" y="407.60" width="2.12" height="19.50" fill="#a35e9a"/>
<rect x="52.60" y="447.00" width="13.98" height="19.40" fill="#b57fa4"/>
<rect x="66.53" y="447.00" width="9.36" height="19.40" fill="#d8737a"/>
<rect x="75.84" y="447.00" width="136.01" height="19.40" fill="#cf5a62"/>
<line x1="52.60" y1="358.30" x2="52.60" y2="476.40" stroke="#555" stroke-width="0.80"/>
<line x1="52.60" y1="476.40" x2="219.50" y2="476.40" stroke="#555" stroke-width="0.80"/>
<line x1="52.60" y1="476.40" x2="52.60" y2="478.90" stroke="#666" stroke-width="0.70"/>
<text x="52.6" y="489.0" font-size="8.20" text-anchor="middle">0</text>
<line x1="84.44" y1="476.40" x2="84.44" y2="478.90" stroke="#666" stroke-width="0.70"/>
<text x="84.4" y="489.0" font-size="8.20" text-anchor="middle">20</text>
<line x1="116.28" y1="476.40" x2="116.28" y2="478.90" stroke="#666" stroke-width="0.70"/>
<text x="116.3" y="489.0" font-size="8.20" text-anchor="middle">40</text>
<line x1="148.12" y1="476.40" x2="148.12" y2="478.90" stroke="#666" stroke-width="0.70"/>
<text x="148.1" y="489.0" font-size="8.20" text-anchor="middle">60</text>
<line x1="179.96" y1="476.40" x2="179.96" y2="478.90" stroke="#666" stroke-width="0.70"/>
<text x="180.0" y="489.0" font-size="8.20" text-anchor="middle">80</text>
<line x1="211.80" y1="476.40" x2="211.80" y2="478.90" stroke="#666" stroke-width="0.70"/>
<text x="211.8" y="489.0" font-size="8.20" text-anchor="middle">100</text>
<line x1="50.10" y1="378.00" x2="52.60" y2="378.00" stroke="#666" stroke-width="0.70"/>
<line x1="50.10" y1="417.40" x2="52.60" y2="417.40" stroke="#666" stroke-width="0.70"/>
<line x1="50.10" y1="456.70" x2="52.60" y2="456.70" stroke="#666" stroke-width="0.70"/>
<text x="47.0" y="381.2" font-size="7.80" text-anchor="end" textLength="32.6" lengthAdjust="spacingAndGlyphs">Unknown</text>
<text x="47.0" y="420.6" font-size="7.80" text-anchor="end">Sox2<tspan dy="-3.8" font-size="5">+</tspan></text>
<text x="47.0" y="459.4" font-size="7.80" text-anchor="end">Hhex<tspan dy="-3.8" font-size="5">+</tspan></text>
<text x="8.0" y="417.4" font-size="9.30" text-anchor="middle" textLength="80.5" lengthAdjust="spacingAndGlyphs" transform="rotate(-90 8.0 417.4)">FACS-labeled cells</text>
<text x="136.3" y="501.9" font-size="9.50" text-anchor="middle" textLength="81.2" lengthAdjust="spacingAndGlyphs">Percentage of cells</text>
<rect x="44.30" y="512.20" width="7.40" height="7.40" fill="#b57fa4"/>
<text x="55.5" y="518.4" font-size="6.10">E3.5-EPI</text>
<rect x="89.30" y="512.20" width="7.40" height="7.40" fill="#d8737a"/>
<text x="100.5" y="518.4" font-size="6.10">E3.5-PrE</text>
<rect x="140.50" y="512.20" width="7.40" height="7.40" fill="#a35e9a"/>
<text x="151.7" y="518.4" font-size="6.10">E4.5-EPI</text>
<rect x="193.30" y="512.20" width="7.40" height="7.40" fill="#cf5a62"/>
<text x="204.5" y="518.4" font-size="6.10">E4.5-PrE</text>
<text x="309.6" y="355.0" font-size="9.50" textLength="132.2" lengthAdjust="spacingAndGlyphs">Kagawa et al. (2022) prediction</text>
<rect x="295.30" y="363.60" width="5.75" height="9.30" fill="#d0555e"/>
<rect x="301.00" y="363.60" width="48.95" height="9.30" fill="#d8a9c9"/>
<rect x="349.90" y="363.60" width="36.15" height="9.30" fill="#b87fa7"/>
<rect x="386.00" y="363.60" width="64.75" height="9.30" fill="#a0558f"/>
<rect x="450.70" y="363.60" width="3.25" height="9.30" fill="#7eaad6"/>
<rect x="295.30" y="383.30" width="12.75" height="9.30" fill="#d0555e"/>
<rect x="308.00" y="383.30" width="47.05" height="9.30" fill="#d8a9c9"/>
<rect x="355.00" y="383.30" width="53.95" height="9.30" fill="#b87fa7"/>
<rect x="408.90" y="383.30" width="36.45" height="9.30" fill="#a0558f"/>
<rect x="445.30" y="383.30" width="8.65" height="9.30" fill="#b5d3ea"/>
<rect x="295.30" y="403.00" width="0.35" height="9.30" fill="#1a8a4a"/>
<rect x="295.60" y="403.00" width="27.25" height="9.30" fill="#d0555e"/>
<rect x="322.80" y="403.00" width="63.85" height="9.30" fill="#d8a9c9"/>
<rect x="386.60" y="403.00" width="37.55" height="9.30" fill="#b87fa7"/>
<rect x="424.10" y="403.00" width="25.45" height="9.30" fill="#a0558f"/>
<rect x="449.50" y="403.00" width="4.45" height="9.30" fill="#b5d3ea"/>
<rect x="295.30" y="422.40" width="8.95" height="9.30" fill="#d0555e"/>
<rect x="304.20" y="422.40" width="12.35" height="9.30" fill="#d8a9c9"/>
<rect x="316.50" y="422.40" width="19.85" height="9.30" fill="#b87fa7"/>
<rect x="336.30" y="422.40" width="12.65" height="9.30" fill="#a0558f"/>
<rect x="348.90" y="422.40" width="21.15" height="9.30" fill="#b5d3ea"/>
<rect x="370.00" y="422.40" width="33.85" height="9.30" fill="#a5c6e4"/>
<rect x="403.80" y="422.40" width="15.75" height="9.30" fill="#92b9de"/>
<rect x="419.50" y="422.40" width="33.85" height="9.30" fill="#7eaad6"/>
<rect x="453.30" y="422.40" width="0.75" height="9.30" fill="#3f7bbf"/>
<rect x="295.30" y="442.20" width="1.05" height="9.30" fill="#f0b93c"/>
<rect x="296.30" y="442.20" width="125.75" height="9.30" fill="#d0555e"/>
<rect x="422.00" y="442.20" width="7.05" height="9.30" fill="#d8a9c9"/>
<rect x="429.00" y="442.20" width="7.85" height="9.30" fill="#b87fa7"/>
<rect x="436.80" y="442.20" width="15.55" height="9.30" fill="#a0558f"/>
<rect x="452.30" y="442.20" width="1.65" height="9.30" fill="#a5c6e4"/>
<rect x="295.30" y="461.70" width="11.75" height="9.30" fill="#d0555e"/>
<rect x="307.00" y="461.70" width="48.05" height="9.30" fill="#d8a9c9"/>
<rect x="355.00" y="461.70" width="30.25" height="9.30" fill="#b87fa7"/>
<rect x="385.20" y="461.70" width="54.45" height="9.30" fill="#a0558f"/>
<rect x="439.60" y="461.70" width="6.95" height="9.30" fill="#b5d3ea"/>
<rect x="446.50" y="461.70" width="6.05" height="9.30" fill="#92b9de"/>
<rect x="452.50" y="461.70" width="1.45" height="9.30" fill="#6b9bcf"/>
<line x1="295.30" y1="360.80" x2="295.30" y2="476.40" stroke="#555" stroke-width="0.80"/>
<line x1="295.30" y1="476.40" x2="462.80" y2="476.40" stroke="#555" stroke-width="0.80"/>
<line x1="295.30" y1="476.40" x2="295.30" y2="478.90" stroke="#666" stroke-width="0.70"/>
<text x="295.3" y="489.0" font-size="8.20" text-anchor="middle">0</text>
<line x1="327.02" y1="476.40" x2="327.02" y2="478.90" stroke="#666" stroke-width="0.70"/>
<text x="327.0" y="489.0" font-size="8.20" text-anchor="middle">20</text>
<line x1="358.74" y1="476.40" x2="358.74" y2="478.90" stroke="#666" stroke-width="0.70"/>
<text x="358.7" y="489.0" font-size="8.20" text-anchor="middle">40</text>
<line x1="390.46" y1="476.40" x2="390.46" y2="478.90" stroke="#666" stroke-width="0.70"/>
<text x="390.5" y="489.0" font-size="8.20" text-anchor="middle">60</text>
<line x1="422.18" y1="476.40" x2="422.18" y2="478.90" stroke="#666" stroke-width="0.70"/>
<text x="422.2" y="489.0" font-size="8.20" text-anchor="middle">80</text>
<line x1="453.90" y1="476.40" x2="453.90" y2="478.90" stroke="#666" stroke-width="0.70"/>
<text x="453.9" y="489.0" font-size="8.20" text-anchor="middle">100</text>
<line x1="292.80" y1="368.20" x2="295.30" y2="368.20" stroke="#666" stroke-width="0.70"/>
<line x1="292.80" y1="387.90" x2="295.30" y2="387.90" stroke="#666" stroke-width="0.70"/>
<line x1="292.80" y1="407.60" x2="295.30" y2="407.60" stroke="#666" stroke-width="0.70"/>
<line x1="292.80" y1="427.30" x2="295.30" y2="427.30" stroke="#666" stroke-width="0.70"/>
<line x1="292.80" y1="446.90" x2="295.30" y2="446.90" stroke="#666" stroke-width="0.70"/>
<line x1="292.80" y1="466.40" x2="295.30" y2="466.40" stroke="#666" stroke-width="0.70"/>
<text x="290.0" y="371.0" font-size="7.80" text-anchor="end">Naive</text>
<text x="290.0" y="390.7" font-size="7.80" text-anchor="end">Unknown</text>
<text x="290.0" y="410.4" font-size="7.80" text-anchor="end">TROP2<tspan dy="-3.8" font-size="5">−</tspan></text>
<text x="290.0" y="430.1" font-size="7.80" text-anchor="end">TROP2<tspan dy="-3.8" font-size="5">+</tspan></text>
<text x="290.0" y="449.7" font-size="7.80" text-anchor="end">PDGFRA<tspan dy="-3.8" font-size="5">+</tspan></text>
<text x="290.0" y="462.8" font-size="7.80" text-anchor="end">Double</text>
<text x="290.0" y="471.8" font-size="7.80" text-anchor="end">negative</text>
<text x="249.5" y="417.4" font-size="9.30" text-anchor="middle" textLength="80.5" lengthAdjust="spacingAndGlyphs" transform="rotate(-90 249.5 417.4)">FACS-labeled cells</text>
<text x="378.4" y="501.9" font-size="9.50" text-anchor="middle" textLength="81.2" lengthAdjust="spacingAndGlyphs">Percentage of cells</text>
<rect x="292.20" y="511.60" width="7.80" height="7.60" fill="#1a8a4a"/>
<text x="303.2" y="517.7" font-size="6.40">8C 3.0</text>
<rect x="292.20" y="523.20" width="7.80" height="7.60" fill="#4a6fb5"/>
<text x="303.2" y="529.3" font-size="6.40">Morula 4.0</text>
<rect x="348.70" y="511.60" width="7.80" height="7.60" fill="#f0b93c"/>
<text x="359.7" y="517.7" font-size="6.40">ICM</text>
<rect x="348.70" y="523.20" width="7.80" height="7.60" fill="#d0555e"/>
<text x="359.7" y="529.3" font-size="6.40">PrE</text>
<rect x="385.60" y="511.60" width="7.80" height="7.60" fill="#d8a9c9"/>
<text x="396.6" y="517.7" font-size="6.40">EPI 6.0</text>
<rect x="385.60" y="523.20" width="7.80" height="7.60" fill="#b87fa7"/>
<text x="396.6" y="529.3" font-size="6.40">EPI 7.0</text>
<rect x="430.50" y="511.60" width="7.80" height="7.60" fill="#a0558f"/>
<text x="441.5" y="517.7" font-size="6.40">Late EPI</text>
<rect x="430.50" y="523.20" width="7.80" height="7.60" fill="#b5d3ea"/>
<text x="441.5" y="529.3" font-size="6.40">TE 5.0</text>
<text x="558.5" y="355.0" font-size="9.50" textLength="122.5" lengthAdjust="spacingAndGlyphs">Mazid et al. (2022) prediction</text>
<rect x="537.40" y="365.60" width="1.96" height="15.20" fill="#1a8a4a"/>
<rect x="539.31" y="365.60" width="13.40" height="15.20" fill="#b87fa7"/>
<rect x="552.65" y="365.60" width="131.78" height="15.20" fill="#a0558f"/>
<rect x="684.38" y="365.60" width="7.20" height="15.20" fill="#4a6fb5"/>
<rect x="691.53" y="365.60" width="4.02" height="15.20" fill="#d0555e"/>
<rect x="695.51" y="365.60" width="0.84" height="15.20" fill="#a0558f"/>
<rect x="537.40" y="395.20" width="158.31" height="14.80" fill="#a0558f"/>
<rect x="695.66" y="395.20" width="0.69" height="14.80" fill="#4a6fb5"/>
<rect x="537.40" y="424.90" width="15.30" height="14.90" fill="#1a8a4a"/>
<rect x="552.65" y="424.90" width="101.59" height="14.90" fill="#a0558f"/>
<rect x="654.19" y="424.90" width="42.16" height="14.90" fill="#4a6fb5"/>
<rect x="537.40" y="454.40" width="1.16" height="14.90" fill="#1a8a4a"/>
<rect x="538.51" y="454.40" width="5.29" height="14.90" fill="#b87fa7"/>
<rect x="543.76" y="454.40" width="151.80" height="14.90" fill="#a0558f"/>
<rect x="695.51" y="454.40" width="0.84" height="14.90" fill="#4a6fb5"/>
<line x1="537.40" y1="358.00" x2="537.40" y2="476.60" stroke="#555" stroke-width="0.80"/>
<line x1="537.40" y1="476.60" x2="704.00" y2="476.60" stroke="#555" stroke-width="0.80"/>
<line x1="537.40" y1="476.60" x2="537.40" y2="479.10" stroke="#666" stroke-width="0.70"/>
<text x="537.4" y="489.0" font-size="8.20" text-anchor="middle">0</text>
<line x1="569.18" y1="476.60" x2="569.18" y2="479.10" stroke="#666" stroke-width="0.70"/>
<text x="569.2" y="489.0" font-size="8.20" text-anchor="middle">20</text>
<line x1="600.96" y1="476.60" x2="600.96" y2="479.10" stroke="#666" stroke-width="0.70"/>
<text x="601.0" y="489.0" font-size="8.20" text-anchor="middle">40</text>
<line x1="632.74" y1="476.60" x2="632.74" y2="479.10" stroke="#666" stroke-width="0.70"/>
<text x="632.7" y="489.0" font-size="8.20" text-anchor="middle">60</text>
<line x1="664.52" y1="476.60" x2="664.52" y2="479.10" stroke="#666" stroke-width="0.70"/>
<text x="664.5" y="489.0" font-size="8.20" text-anchor="middle">80</text>
<line x1="696.30" y1="476.60" x2="696.30" y2="479.10" stroke="#666" stroke-width="0.70"/>
<text x="696.3" y="489.0" font-size="8.20" text-anchor="middle">100</text>
<line x1="534.90" y1="373.20" x2="537.40" y2="373.20" stroke="#666" stroke-width="0.70"/>
<line x1="534.90" y1="402.60" x2="537.40" y2="402.60" stroke="#666" stroke-width="0.70"/>
<line x1="534.90" y1="432.30" x2="537.40" y2="432.30" stroke="#666" stroke-width="0.70"/>
<line x1="534.90" y1="461.80" x2="537.40" y2="461.80" stroke="#666" stroke-width="0.70"/>
<text x="532.2" y="376.0" font-size="7.80" text-anchor="end">e4CL</text>
<text x="532.2" y="405.4" font-size="7.80" text-anchor="end">Primed</text>
<text x="532.2" y="435.1" font-size="7.80" text-anchor="end">8CLC</text>
<text x="532.2" y="464.6" font-size="7.80" text-anchor="end">4CL</text>
<text x="500.8" y="418.2" font-size="9.30" text-anchor="middle" textLength="40.6" lengthAdjust="spacingAndGlyphs" transform="rotate(-90 500.8 418.2)">Cell types</text>
<text x="620.7" y="502.0" font-size="9.50" text-anchor="middle" textLength="81.2" lengthAdjust="spacingAndGlyphs">Percentage of cells</text>
<rect x="583.40" y="511.00" width="7.60" height="7.60" fill="#a5c6e4"/>
<text x="594.0" y="517.1" font-size="6.40">TE 6.0</text>
<rect x="583.40" y="522.60" width="7.60" height="7.60" fill="#92b9de"/>
<text x="594.0" y="528.7" font-size="6.40">TE 7.0</text>
<rect x="627.40" y="511.00" width="7.60" height="7.60" fill="#7eaad6"/>
<text x="638.0" y="517.1" font-size="6.40">TE 8.0</text>
<rect x="627.40" y="522.60" width="7.60" height="7.60" fill="#6b9bcf"/>
<text x="638.0" y="528.7" font-size="6.40">TE 9.0</text>
<rect x="627.40" y="534.00" width="7.60" height="7.60" fill="#3f7bbf"/>
<text x="638.0" y="540.1" font-size="6.40">TE 10.0</text>
</svg></body></html>
